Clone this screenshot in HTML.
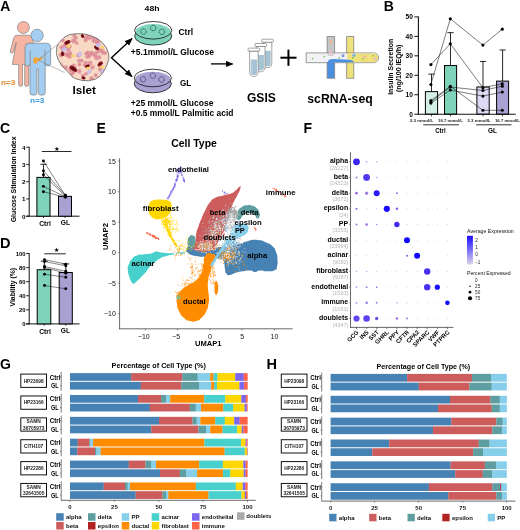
<!DOCTYPE html>
<html><head><meta charset="utf-8"><title>Figure</title>
<style>
html,body{margin:0;padding:0;background:#fff;}
body{width:520px;height:530px;overflow:hidden;}
svg{display:block;}
svg text{font-family:"Liberation Sans",Arial,Helvetica,sans-serif;}
</style></head><body>
<svg width="520" height="530" viewBox="0 0 520 530">
<rect width="520" height="530" fill="#fff"/>
<text x="0.20" y="10.60" font-size="14.0" font-weight="bold" text-anchor="start" fill="#000" >A</text>
<g stroke="#808080" stroke-width="0.7" stroke-linejoin="round">
<path d="M17.2,35.2 Q14.6,35.2 13.8,37.8 L10.4,50.8 Q10,52.8 11.4,53.2 Q12.9,53.5 13.5,51.8 L16.3,42.5 L12.4,64.4 L18.7,64.4 L18.7,84.6 Q18.7,86.4 20.6,86.4 Q22.5,86.4 22.5,84.6 L22.5,64.4 L24.7,64.4 L24.7,84.6 Q24.7,86.4 26.7,86.4 Q28.7,86.4 28.7,84.6 L28.7,64.4 L34.5,64.4 L31,44 L34,43.5 L31.5,37 Q30.6,35.2 28.6,35.2 Z" fill="#F6B5A3"/>
<circle cx="23.40" cy="27.50" r="6.00" fill="#F6B5A3" stroke="#808080" stroke-width="0.7" />
<path d="M29,43.2 L46.6,43.2 Q50.6,43.2 50.6,47.2 L50.6,63.6 Q50.6,66 47.9,66 Q45.2,66 45.2,63.6 L45.2,93 Q45.2,95.2 41.7,95.2 Q38.3,95.2 38.3,93 L38.3,69 L36.9,69 L36.9,93 Q36.9,95.2 33.4,95.2 Q30,95.2 30,93 L30,63.6 Q30,66 27.5,66 Q25,66 25,63.6 L25,47.2 Q25,43.2 29,43.2 Z" fill="#A3CDF1"/>
<line x1="30.20" y1="50.00" x2="30.20" y2="64.00" stroke="#8f8f8f" stroke-width="0.9" />
<line x1="45.00" y1="50.00" x2="45.00" y2="64.00" stroke="#8f8f8f" stroke-width="0.9" />
<circle cx="37.10" cy="35.40" r="6.20" fill="#A3CDF1" stroke="#808080" stroke-width="0.7" />
</g>
<path d="M33.2,60.5 Q33,57.6 35.6,57.2 Q37.5,57 38.6,58.4 Q40.4,58.3 41.6,56.6 Q42.6,56 42.6,57.2 Q41.6,60.6 38.6,61 Q37.6,61.2 37.2,62.6 Q36.4,64.4 34.8,63.8 Q33.2,63 33.2,60.5Z" fill="#F2A63C"/>
<line x1="38.60" y1="59.60" x2="57.50" y2="44.50" stroke="#777" stroke-width="0.5" />
<line x1="38.60" y1="60.40" x2="64.50" y2="72.50" stroke="#777" stroke-width="0.5" />
<text x="1.00" y="84.80" font-size="7.6" font-weight="bold" text-anchor="start" fill="#E58A2B" textLength="14.40" lengthAdjust="spacingAndGlyphs" >n=3</text>
<text x="30.00" y="103.00" font-size="7.6" font-weight="bold" text-anchor="start" fill="#38A0E2" textLength="14.40" lengthAdjust="spacingAndGlyphs" >n=3</text>
<clipPath id="cpI"><path d="M56.6,50.5C56.9,47.9 56.2,48.2 57.7,45.1C59.2,42.0 58.8,43.0 61.5,40.2C64.2,37.4 63.3,37.7 66.8,35.9C70.3,34.1 69.1,34.7 73.3,34.1C77.5,33.5 76.6,33.6 80.8,33.8C85.0,34.0 83.4,33.8 87.3,34.8C91.2,35.8 89.9,35.2 93.8,37.0C97.7,38.8 96.8,38.0 100.2,40.8C103.6,43.6 102.8,43.0 105.1,46.2C107.4,49.4 106.7,48.3 107.8,51.5C108.9,54.7 108.8,53.7 108.8,56.9C108.8,60.1 108.8,59.1 107.8,62.3C106.8,65.5 107.2,64.5 105.6,67.7C104.0,70.9 104.7,70.2 102.4,73.1C100.2,76.0 101.3,75.3 98.1,77.4C94.9,79.5 95.5,79.1 91.6,80.1C87.7,81.1 89.1,80.8 85.2,80.6C81.3,80.4 82.3,80.5 78.7,79.5C75.1,78.5 76.2,79.3 73.3,77.4C70.4,75.5 71.6,75.7 69.0,73.1C66.4,70.5 67.3,71.7 64.7,68.8C62.1,65.9 62.5,66.6 60.4,63.4C58.3,60.2 58.8,60.9 57.7,58.0C56.6,55.1 56.9,56.0 56.6,53.7C56.3,51.5 56.3,53.1 56.6,50.5Z"/></clipPath>
<path d="M56.6,50.5C56.9,47.9 56.2,48.2 57.7,45.1C59.2,42.0 58.8,43.0 61.5,40.2C64.2,37.4 63.3,37.7 66.8,35.9C70.3,34.1 69.1,34.7 73.3,34.1C77.5,33.5 76.6,33.6 80.8,33.8C85.0,34.0 83.4,33.8 87.3,34.8C91.2,35.8 89.9,35.2 93.8,37.0C97.7,38.8 96.8,38.0 100.2,40.8C103.6,43.6 102.8,43.0 105.1,46.2C107.4,49.4 106.7,48.3 107.8,51.5C108.9,54.7 108.8,53.7 108.8,56.9C108.8,60.1 108.8,59.1 107.8,62.3C106.8,65.5 107.2,64.5 105.6,67.7C104.0,70.9 104.7,70.2 102.4,73.1C100.2,76.0 101.3,75.3 98.1,77.4C94.9,79.5 95.5,79.1 91.6,80.1C87.7,81.1 89.1,80.8 85.2,80.6C81.3,80.4 82.3,80.5 78.7,79.5C75.1,78.5 76.2,79.3 73.3,77.4C70.4,75.5 71.6,75.7 69.0,73.1C66.4,70.5 67.3,71.7 64.7,68.8C62.1,65.9 62.5,66.6 60.4,63.4C58.3,60.2 58.8,60.9 57.7,58.0C56.6,55.1 56.9,56.0 56.6,53.7C56.3,51.5 56.3,53.1 56.6,50.5Z" fill="#FADCC5"/>
<g clip-path="url(#cpI)">
<circle cx="89.64" cy="69.09" r="1.22" fill="#FCE9DB" stroke="#F0BDA8" stroke-width="0.25" />
<circle cx="106.89" cy="68.99" r="1.27" fill="#FCE9DB" stroke="#F0BDA8" stroke-width="0.25" />
<circle cx="57.57" cy="55.28" r="1.28" fill="#FCE9DB" stroke="#F0BDA8" stroke-width="0.25" />
<circle cx="91.04" cy="77.05" r="0.95" fill="#FCE9DB" stroke="#F0BDA8" stroke-width="0.25" />
<circle cx="81.33" cy="44.33" r="1.12" fill="#FCE9DB" stroke="#F0BDA8" stroke-width="0.25" />
<circle cx="86.99" cy="32.66" r="0.99" fill="#FCE9DB" stroke="#F0BDA8" stroke-width="0.25" />
<circle cx="71.09" cy="77.82" r="1.21" fill="#FCE9DB" stroke="#F0BDA8" stroke-width="0.25" />
<circle cx="64.62" cy="71.86" r="0.96" fill="#FCE9DB" stroke="#F0BDA8" stroke-width="0.25" />
<circle cx="89.34" cy="38.33" r="0.90" fill="#FCE9DB" stroke="#F0BDA8" stroke-width="0.25" />
<circle cx="103.06" cy="42.47" r="0.99" fill="#FCE9DB" stroke="#F0BDA8" stroke-width="0.25" />
<circle cx="109.05" cy="75.62" r="1.02" fill="#FCE9DB" stroke="#F0BDA8" stroke-width="0.25" />
<circle cx="107.92" cy="58.96" r="1.17" fill="#FCE9DB" stroke="#F0BDA8" stroke-width="0.25" />
<circle cx="67.06" cy="79.05" r="1.18" fill="#FCE9DB" stroke="#F0BDA8" stroke-width="0.25" />
<circle cx="108.19" cy="76.69" r="1.02" fill="#FCE9DB" stroke="#F0BDA8" stroke-width="0.25" />
<circle cx="75.50" cy="40.30" r="0.96" fill="#FCE9DB" stroke="#F0BDA8" stroke-width="0.25" />
<circle cx="59.52" cy="47.07" r="1.14" fill="#FCE9DB" stroke="#F0BDA8" stroke-width="0.25" />
<circle cx="56.18" cy="65.90" r="1.04" fill="#FCE9DB" stroke="#F0BDA8" stroke-width="0.25" />
<circle cx="72.74" cy="72.93" r="1.09" fill="#FCE9DB" stroke="#F0BDA8" stroke-width="0.25" />
<circle cx="73.05" cy="56.06" r="1.18" fill="#FCE9DB" stroke="#F0BDA8" stroke-width="0.25" />
<circle cx="59.08" cy="80.75" r="0.91" fill="#FCE9DB" stroke="#F0BDA8" stroke-width="0.25" />
<circle cx="96.49" cy="74.24" r="0.91" fill="#FCE9DB" stroke="#F0BDA8" stroke-width="0.25" />
<circle cx="98.54" cy="50.31" r="1.13" fill="#FCE9DB" stroke="#F0BDA8" stroke-width="0.25" />
<circle cx="56.49" cy="34.34" r="0.97" fill="#FCE9DB" stroke="#F0BDA8" stroke-width="0.25" />
<circle cx="107.58" cy="41.83" r="1.20" fill="#FCE9DB" stroke="#F0BDA8" stroke-width="0.25" />
<circle cx="106.20" cy="79.10" r="1.04" fill="#FCE9DB" stroke="#F0BDA8" stroke-width="0.25" />
<circle cx="75.16" cy="58.24" r="1.21" fill="#FCE9DB" stroke="#F0BDA8" stroke-width="0.25" />
<circle cx="61.83" cy="69.42" r="1.22" fill="#FCE9DB" stroke="#F0BDA8" stroke-width="0.25" />
<circle cx="102.42" cy="33.83" r="1.28" fill="#FCE9DB" stroke="#F0BDA8" stroke-width="0.25" />
<circle cx="60.92" cy="49.04" r="1.14" fill="#FCE9DB" stroke="#F0BDA8" stroke-width="0.25" />
<circle cx="105.58" cy="49.00" r="1.27" fill="#FCE9DB" stroke="#F0BDA8" stroke-width="0.25" />
<circle cx="85.44" cy="47.62" r="1.03" fill="#FCE9DB" stroke="#F0BDA8" stroke-width="0.25" />
<circle cx="65.58" cy="35.91" r="0.96" fill="#FCE9DB" stroke="#F0BDA8" stroke-width="0.25" />
<circle cx="93.22" cy="81.84" r="0.96" fill="#FCE9DB" stroke="#F0BDA8" stroke-width="0.25" />
<circle cx="58.62" cy="81.33" r="1.11" fill="#FCE9DB" stroke="#F0BDA8" stroke-width="0.25" />
<circle cx="77.92" cy="43.87" r="1.14" fill="#FCE9DB" stroke="#F0BDA8" stroke-width="0.25" />
<circle cx="100.62" cy="54.78" r="1.07" fill="#FCE9DB" stroke="#F0BDA8" stroke-width="0.25" />
<circle cx="59.01" cy="77.80" r="0.91" fill="#FCE9DB" stroke="#F0BDA8" stroke-width="0.25" />
<circle cx="82.65" cy="73.92" r="0.95" fill="#FCE9DB" stroke="#F0BDA8" stroke-width="0.25" />
<circle cx="95.51" cy="79.49" r="1.15" fill="#FCE9DB" stroke="#F0BDA8" stroke-width="0.25" />
<circle cx="98.55" cy="37.33" r="1.07" fill="#FCE9DB" stroke="#F0BDA8" stroke-width="0.25" />
<circle cx="64.06" cy="74.24" r="1.02" fill="#FCE9DB" stroke="#F0BDA8" stroke-width="0.25" />
<circle cx="80.47" cy="81.96" r="1.24" fill="#FCE9DB" stroke="#F0BDA8" stroke-width="0.25" />
<circle cx="108.70" cy="54.68" r="1.10" fill="#FCE9DB" stroke="#F0BDA8" stroke-width="0.25" />
<circle cx="95.39" cy="55.95" r="1.02" fill="#FCE9DB" stroke="#F0BDA8" stroke-width="0.25" />
<circle cx="77.80" cy="39.33" r="1.05" fill="#FCE9DB" stroke="#F0BDA8" stroke-width="0.25" />
<circle cx="109.37" cy="79.99" r="1.15" fill="#FCE9DB" stroke="#F0BDA8" stroke-width="0.25" />
<circle cx="82.96" cy="48.92" r="0.94" fill="#FCE9DB" stroke="#F0BDA8" stroke-width="0.25" />
<circle cx="70.70" cy="71.10" r="1.25" fill="#FCE9DB" stroke="#F0BDA8" stroke-width="0.25" />
<circle cx="75.51" cy="71.30" r="1.21" fill="#FCE9DB" stroke="#F0BDA8" stroke-width="0.25" />
<circle cx="93.51" cy="65.20" r="1.20" fill="#FCE9DB" stroke="#F0BDA8" stroke-width="0.25" />
<circle cx="75.63" cy="67.22" r="1.01" fill="#FCE9DB" stroke="#F0BDA8" stroke-width="0.25" />
<circle cx="82.23" cy="70.49" r="1.18" fill="#FCE9DB" stroke="#F0BDA8" stroke-width="0.25" />
<circle cx="71.87" cy="79.28" r="1.16" fill="#FCE9DB" stroke="#F0BDA8" stroke-width="0.25" />
<circle cx="87.36" cy="32.58" r="1.12" fill="#FCE9DB" stroke="#F0BDA8" stroke-width="0.25" />
<circle cx="69.54" cy="65.58" r="1.09" fill="#FCE9DB" stroke="#F0BDA8" stroke-width="0.25" />
<circle cx="100.10" cy="64.37" r="1.22" fill="#FCE9DB" stroke="#F0BDA8" stroke-width="0.25" />
<circle cx="74.79" cy="64.20" r="1.20" fill="#FCE9DB" stroke="#F0BDA8" stroke-width="0.25" />
<circle cx="100.72" cy="49.50" r="1.24" fill="#FCE9DB" stroke="#F0BDA8" stroke-width="0.25" />
<circle cx="102.98" cy="66.42" r="1.29" fill="#FCE9DB" stroke="#F0BDA8" stroke-width="0.25" />
<circle cx="107.65" cy="57.91" r="1.11" fill="#FCE9DB" stroke="#F0BDA8" stroke-width="0.25" />
<circle cx="64.97" cy="73.83" r="1.27" fill="#FCE9DB" stroke="#F0BDA8" stroke-width="0.25" />
<circle cx="81.77" cy="66.57" r="1.19" fill="#FCE9DB" stroke="#F0BDA8" stroke-width="0.25" />
<circle cx="95.44" cy="40.59" r="1.21" fill="#FCE9DB" stroke="#F0BDA8" stroke-width="0.25" />
<circle cx="87.37" cy="65.28" r="1.07" fill="#FCE9DB" stroke="#F0BDA8" stroke-width="0.25" />
<circle cx="89.68" cy="70.74" r="1.15" fill="#FCE9DB" stroke="#F0BDA8" stroke-width="0.25" />
<circle cx="94.90" cy="33.38" r="0.96" fill="#FCE9DB" stroke="#F0BDA8" stroke-width="0.25" />
<circle cx="79.82" cy="64.51" r="0.99" fill="#FCE9DB" stroke="#F0BDA8" stroke-width="0.25" />
<circle cx="93.04" cy="63.54" r="0.92" fill="#FCE9DB" stroke="#F0BDA8" stroke-width="0.25" />
<circle cx="81.47" cy="43.31" r="0.92" fill="#FCE9DB" stroke="#F0BDA8" stroke-width="0.25" />
<circle cx="63.21" cy="47.87" r="0.97" fill="#FCE9DB" stroke="#F0BDA8" stroke-width="0.25" />
<circle cx="66.44" cy="33.78" r="1.09" fill="#FCE9DB" stroke="#F0BDA8" stroke-width="0.25" />
<circle cx="76.54" cy="62.59" r="1.14" fill="#FCE9DB" stroke="#F0BDA8" stroke-width="0.25" />
<circle cx="68.84" cy="77.16" r="0.90" fill="#FCE9DB" stroke="#F0BDA8" stroke-width="0.25" />
<circle cx="77.89" cy="45.93" r="1.06" fill="#FCE9DB" stroke="#F0BDA8" stroke-width="0.25" />
<circle cx="62.21" cy="73.57" r="1.05" fill="#FCE9DB" stroke="#F0BDA8" stroke-width="0.25" />
<circle cx="57.95" cy="62.68" r="0.94" fill="#FCE9DB" stroke="#F0BDA8" stroke-width="0.25" />
<circle cx="85.44" cy="48.97" r="1.13" fill="#FCE9DB" stroke="#F0BDA8" stroke-width="0.25" />
<circle cx="107.75" cy="72.93" r="1.07" fill="#FCE9DB" stroke="#F0BDA8" stroke-width="0.25" />
<circle cx="99.90" cy="64.11" r="1.05" fill="#FCE9DB" stroke="#F0BDA8" stroke-width="0.25" />
<circle cx="63.67" cy="61.80" r="1.13" fill="#FCE9DB" stroke="#F0BDA8" stroke-width="0.25" />
<circle cx="107.69" cy="80.40" r="1.14" fill="#FCE9DB" stroke="#F0BDA8" stroke-width="0.25" />
<circle cx="74.96" cy="76.67" r="0.90" fill="#FCE9DB" stroke="#F0BDA8" stroke-width="0.25" />
<circle cx="61.83" cy="60.29" r="1.15" fill="#FCE9DB" stroke="#F0BDA8" stroke-width="0.25" />
<circle cx="63.60" cy="63.47" r="1.26" fill="#FCE9DB" stroke="#F0BDA8" stroke-width="0.25" />
<circle cx="76.30" cy="53.58" r="0.99" fill="#FCE9DB" stroke="#F0BDA8" stroke-width="0.25" />
<circle cx="71.74" cy="80.62" r="1.05" fill="#FCE9DB" stroke="#F0BDA8" stroke-width="0.25" />
<circle cx="107.90" cy="77.69" r="1.14" fill="#FCE9DB" stroke="#F0BDA8" stroke-width="0.25" />
<circle cx="70.03" cy="81.05" r="1.10" fill="#FCE9DB" stroke="#F0BDA8" stroke-width="0.25" />
<circle cx="78.44" cy="47.96" r="1.29" fill="#FCE9DB" stroke="#F0BDA8" stroke-width="0.25" />
<circle cx="82.55" cy="46.32" r="1.09" fill="#FCE9DB" stroke="#F0BDA8" stroke-width="0.25" />
<circle cx="62.58" cy="63.08" r="1.08" fill="#FCE9DB" stroke="#F0BDA8" stroke-width="0.25" />
<circle cx="71.83" cy="71.09" r="1.23" fill="#FCE9DB" stroke="#F0BDA8" stroke-width="0.25" />
<circle cx="56.71" cy="58.63" r="1.01" fill="#FCE9DB" stroke="#F0BDA8" stroke-width="0.25" />
<circle cx="106.50" cy="71.10" r="1.00" fill="#FCE9DB" stroke="#F0BDA8" stroke-width="0.25" />
<circle cx="70.46" cy="39.74" r="1.30" fill="#FCE9DB" stroke="#F0BDA8" stroke-width="0.25" />
<circle cx="71.83" cy="62.40" r="1.09" fill="#FCE9DB" stroke="#F0BDA8" stroke-width="0.25" />
<circle cx="90.82" cy="62.19" r="1.20" fill="#FCE9DB" stroke="#F0BDA8" stroke-width="0.25" />
<circle cx="62.38" cy="70.02" r="1.02" fill="#FCE9DB" stroke="#F0BDA8" stroke-width="0.25" />
<circle cx="84.81" cy="48.81" r="1.02" fill="#FCE9DB" stroke="#F0BDA8" stroke-width="0.25" />
<circle cx="84.61" cy="55.22" r="1.04" fill="#FCE9DB" stroke="#F0BDA8" stroke-width="0.25" />
<circle cx="96.23" cy="61.54" r="0.91" fill="#FCE9DB" stroke="#F0BDA8" stroke-width="0.25" />
<circle cx="69.63" cy="54.78" r="1.27" fill="#FCE9DB" stroke="#F0BDA8" stroke-width="0.25" />
<circle cx="103.95" cy="59.28" r="0.91" fill="#FCE9DB" stroke="#F0BDA8" stroke-width="0.25" />
<circle cx="98.03" cy="53.39" r="1.13" fill="#FCE9DB" stroke="#F0BDA8" stroke-width="0.25" />
<circle cx="94.24" cy="63.61" r="1.09" fill="#FCE9DB" stroke="#F0BDA8" stroke-width="0.25" />
<circle cx="105.23" cy="51.27" r="1.06" fill="#FCE9DB" stroke="#F0BDA8" stroke-width="0.25" />
<circle cx="102.00" cy="41.82" r="1.02" fill="#FCE9DB" stroke="#F0BDA8" stroke-width="0.25" />
<circle cx="100.82" cy="35.30" r="1.23" fill="#FCE9DB" stroke="#F0BDA8" stroke-width="0.25" />
<circle cx="93.51" cy="53.64" r="1.01" fill="#FCE9DB" stroke="#F0BDA8" stroke-width="0.25" />
<circle cx="98.16" cy="77.53" r="0.96" fill="#FCE9DB" stroke="#F0BDA8" stroke-width="0.25" />
<circle cx="81.83" cy="59.45" r="1.10" fill="#FCE9DB" stroke="#F0BDA8" stroke-width="0.25" />
<circle cx="73.86" cy="39.68" r="1.13" fill="#FCE9DB" stroke="#F0BDA8" stroke-width="0.25" />
<circle cx="99.84" cy="35.42" r="0.99" fill="#FCE9DB" stroke="#F0BDA8" stroke-width="0.25" />
<circle cx="100.26" cy="71.59" r="1.17" fill="#FCE9DB" stroke="#F0BDA8" stroke-width="0.25" />
<circle cx="57.38" cy="68.13" r="1.29" fill="#FCE9DB" stroke="#F0BDA8" stroke-width="0.25" />
<circle cx="109.91" cy="67.06" r="0.92" fill="#FCE9DB" stroke="#F0BDA8" stroke-width="0.25" />
<circle cx="101.47" cy="42.96" r="1.16" fill="#FCE9DB" stroke="#F0BDA8" stroke-width="0.25" />
<circle cx="107.42" cy="67.62" r="0.95" fill="#FCE9DB" stroke="#F0BDA8" stroke-width="0.25" />
<circle cx="71.79" cy="77.90" r="0.96" fill="#FCE9DB" stroke="#F0BDA8" stroke-width="0.25" />
<circle cx="88.97" cy="52.70" r="0.96" fill="#FCE9DB" stroke="#F0BDA8" stroke-width="0.25" />
<circle cx="89.61" cy="34.18" r="0.94" fill="#FCE9DB" stroke="#F0BDA8" stroke-width="0.25" />
<circle cx="76.48" cy="35.60" r="0.92" fill="#FCE9DB" stroke="#F0BDA8" stroke-width="0.25" />
<circle cx="87.06" cy="69.12" r="1.25" fill="#FCE9DB" stroke="#F0BDA8" stroke-width="0.25" />
<circle cx="63.25" cy="53.58" r="1.03" fill="#FCE9DB" stroke="#F0BDA8" stroke-width="0.25" />
<circle cx="88.41" cy="56.48" r="1.28" fill="#FCE9DB" stroke="#F0BDA8" stroke-width="0.25" />
<circle cx="76.21" cy="34.79" r="1.18" fill="#FCE9DB" stroke="#F0BDA8" stroke-width="0.25" />
<circle cx="64.16" cy="63.57" r="1.10" fill="#FCE9DB" stroke="#F0BDA8" stroke-width="0.25" />
<circle cx="105.16" cy="59.74" r="1.15" fill="#FCE9DB" stroke="#F0BDA8" stroke-width="0.25" />
<circle cx="70.22" cy="59.58" r="1.00" fill="#FCE9DB" stroke="#F0BDA8" stroke-width="0.25" />
<circle cx="96.53" cy="57.85" r="0.95" fill="#FCE9DB" stroke="#F0BDA8" stroke-width="0.25" />
<circle cx="68.66" cy="50.56" r="1.19" fill="#FCE9DB" stroke="#F0BDA8" stroke-width="0.25" />
<circle cx="65.68" cy="67.66" r="1.16" fill="#FCE9DB" stroke="#F0BDA8" stroke-width="0.25" />
<circle cx="60.60" cy="65.40" r="0.94" fill="#FCE9DB" stroke="#F0BDA8" stroke-width="0.25" />
<circle cx="62.74" cy="61.70" r="1.00" fill="#FCE9DB" stroke="#F0BDA8" stroke-width="0.25" />
<circle cx="103.35" cy="56.02" r="1.03" fill="#FCE9DB" stroke="#F0BDA8" stroke-width="0.25" />
<circle cx="99.01" cy="33.47" r="1.19" fill="#FCE9DB" stroke="#F0BDA8" stroke-width="0.25" />
<circle cx="58.90" cy="39.54" r="1.28" fill="#FCE9DB" stroke="#F0BDA8" stroke-width="0.25" />
<circle cx="92.78" cy="43.15" r="0.95" fill="#FCE9DB" stroke="#F0BDA8" stroke-width="0.25" />
<circle cx="108.53" cy="65.25" r="1.23" fill="#FCE9DB" stroke="#F0BDA8" stroke-width="0.25" />
<circle cx="63.55" cy="63.24" r="1.04" fill="#FCE9DB" stroke="#F0BDA8" stroke-width="0.25" />
<circle cx="68.69" cy="48.66" r="1.15" fill="#FCE9DB" stroke="#F0BDA8" stroke-width="0.25" />
<circle cx="74.83" cy="51.29" r="0.95" fill="#FCE9DB" stroke="#F0BDA8" stroke-width="0.25" />
<circle cx="100.88" cy="64.39" r="1.22" fill="#FCE9DB" stroke="#F0BDA8" stroke-width="0.25" />
<circle cx="79.40" cy="74.58" r="1.11" fill="#FCE9DB" stroke="#F0BDA8" stroke-width="0.25" />
<circle cx="88.00" cy="60.66" r="1.20" fill="#FCE9DB" stroke="#F0BDA8" stroke-width="0.25" />
<circle cx="77.36" cy="36.85" r="0.91" fill="#FCE9DB" stroke="#F0BDA8" stroke-width="0.25" />
<circle cx="66.93" cy="33.97" r="1.26" fill="#FCE9DB" stroke="#F0BDA8" stroke-width="0.25" />
<circle cx="81.97" cy="70.02" r="0.90" fill="#FCE9DB" stroke="#F0BDA8" stroke-width="0.25" />
<circle cx="81.39" cy="76.49" r="1.15" fill="#FCE9DB" stroke="#F0BDA8" stroke-width="0.25" />
<circle cx="79.15" cy="55.28" r="0.94" fill="#FCE9DB" stroke="#F0BDA8" stroke-width="0.25" />
<circle cx="64.35" cy="39.95" r="1.05" fill="#FCE9DB" stroke="#F0BDA8" stroke-width="0.25" />
<circle cx="76.83" cy="76.02" r="0.96" fill="#FCE9DB" stroke="#F0BDA8" stroke-width="0.25" />
<circle cx="69.72" cy="45.87" r="0.96" fill="#FCE9DB" stroke="#F0BDA8" stroke-width="0.25" />
<circle cx="71.50" cy="43.76" r="1.09" fill="#FCE9DB" stroke="#F0BDA8" stroke-width="0.25" />
<circle cx="57.73" cy="78.23" r="1.05" fill="#FCE9DB" stroke="#F0BDA8" stroke-width="0.25" />
<circle cx="106.65" cy="66.39" r="1.17" fill="#FCE9DB" stroke="#F0BDA8" stroke-width="0.25" />
<circle cx="81.47" cy="79.27" r="0.95" fill="#FCE9DB" stroke="#F0BDA8" stroke-width="0.25" />
<circle cx="92.10" cy="46.56" r="1.17" fill="#FCE9DB" stroke="#F0BDA8" stroke-width="0.25" />
<circle cx="95.38" cy="40.16" r="0.98" fill="#FCE9DB" stroke="#F0BDA8" stroke-width="0.25" />
<circle cx="57.35" cy="43.52" r="0.93" fill="#FCE9DB" stroke="#F0BDA8" stroke-width="0.25" />
<circle cx="77.66" cy="80.68" r="1.05" fill="#FCE9DB" stroke="#F0BDA8" stroke-width="0.25" />
<circle cx="72.84" cy="55.40" r="1.01" fill="#FCE9DB" stroke="#F0BDA8" stroke-width="0.25" />
<circle cx="95.55" cy="67.90" r="0.97" fill="#FCE9DB" stroke="#F0BDA8" stroke-width="0.25" />
<circle cx="68.99" cy="65.61" r="1.28" fill="#FCE9DB" stroke="#F0BDA8" stroke-width="0.25" />
<circle cx="90.88" cy="53.53" r="1.29" fill="#FCE9DB" stroke="#F0BDA8" stroke-width="0.25" />
<circle cx="56.34" cy="35.04" r="1.21" fill="#FCE9DB" stroke="#F0BDA8" stroke-width="0.25" />
<circle cx="78.15" cy="34.25" r="1.12" fill="#FCE9DB" stroke="#F0BDA8" stroke-width="0.25" />
<circle cx="109.44" cy="57.95" r="1.04" fill="#FCE9DB" stroke="#F0BDA8" stroke-width="0.25" />
<circle cx="61.07" cy="35.56" r="1.26" fill="#FCE9DB" stroke="#F0BDA8" stroke-width="0.25" />
<circle cx="82.52" cy="78.79" r="0.92" fill="#FCE9DB" stroke="#F0BDA8" stroke-width="0.25" />
<circle cx="69.15" cy="34.52" r="1.06" fill="#FCE9DB" stroke="#F0BDA8" stroke-width="0.25" />
<circle cx="59.25" cy="44.77" r="1.06" fill="#FCE9DB" stroke="#F0BDA8" stroke-width="0.25" />
<circle cx="72.52" cy="34.57" r="0.92" fill="#FCE9DB" stroke="#F0BDA8" stroke-width="0.25" />
<circle cx="108.47" cy="40.97" r="1.10" fill="#FCE9DB" stroke="#F0BDA8" stroke-width="0.25" />
<circle cx="77.73" cy="58.57" r="0.93" fill="#FCE9DB" stroke="#F0BDA8" stroke-width="0.25" />
<circle cx="72.95" cy="37.40" r="1.12" fill="#FCE9DB" stroke="#F0BDA8" stroke-width="0.25" />
<circle cx="105.75" cy="61.91" r="1.24" fill="#FCE9DB" stroke="#F0BDA8" stroke-width="0.25" />
<circle cx="67.58" cy="32.87" r="1.12" fill="#FCE9DB" stroke="#F0BDA8" stroke-width="0.25" />
<circle cx="82.27" cy="60.57" r="1.05" fill="#FCE9DB" stroke="#F0BDA8" stroke-width="0.25" />
<circle cx="89.76" cy="68.28" r="1.27" fill="#FCE9DB" stroke="#F0BDA8" stroke-width="0.25" />
<circle cx="72.61" cy="54.45" r="1.23" fill="#FCE9DB" stroke="#F0BDA8" stroke-width="0.25" />
<circle cx="68.09" cy="37.78" r="1.02" fill="#FCE9DB" stroke="#F0BDA8" stroke-width="0.25" />
<circle cx="60.73" cy="70.62" r="1.23" fill="#FCE9DB" stroke="#F0BDA8" stroke-width="0.25" />
<circle cx="72.90" cy="38.49" r="0.93" fill="#FCE9DB" stroke="#F0BDA8" stroke-width="0.25" />
<circle cx="69.22" cy="36.22" r="1.07" fill="#FCE9DB" stroke="#F0BDA8" stroke-width="0.25" />
<circle cx="87.16" cy="44.27" r="0.92" fill="#FCE9DB" stroke="#F0BDA8" stroke-width="0.25" />
<circle cx="93.83" cy="34.40" r="0.98" fill="#FCE9DB" stroke="#F0BDA8" stroke-width="0.25" />
<circle cx="71.44" cy="50.69" r="0.94" fill="#FCE9DB" stroke="#F0BDA8" stroke-width="0.25" />
<circle cx="78.71" cy="47.70" r="1.20" fill="#FCE9DB" stroke="#F0BDA8" stroke-width="0.25" />
<circle cx="86.03" cy="76.80" r="1.16" fill="#FCE9DB" stroke="#F0BDA8" stroke-width="0.25" />
<circle cx="97.02" cy="60.74" r="1.08" fill="#FCE9DB" stroke="#F0BDA8" stroke-width="0.25" />
<circle cx="100.11" cy="64.77" r="1.28" fill="#FCE9DB" stroke="#F0BDA8" stroke-width="0.25" />
<circle cx="95.31" cy="67.06" r="1.01" fill="#FCE9DB" stroke="#F0BDA8" stroke-width="0.25" />
<circle cx="99.85" cy="51.12" r="0.95" fill="#FCE9DB" stroke="#F0BDA8" stroke-width="0.25" />
<circle cx="59.56" cy="40.47" r="1.01" fill="#FCE9DB" stroke="#F0BDA8" stroke-width="0.25" />
<circle cx="92.50" cy="46.28" r="0.93" fill="#FCE9DB" stroke="#F0BDA8" stroke-width="0.25" />
<circle cx="97.24" cy="59.86" r="0.91" fill="#FCE9DB" stroke="#F0BDA8" stroke-width="0.25" />
<circle cx="58.73" cy="38.51" r="1.04" fill="#FCE9DB" stroke="#F0BDA8" stroke-width="0.25" />
<circle cx="102.43" cy="79.46" r="1.14" fill="#FCE9DB" stroke="#F0BDA8" stroke-width="0.25" />
<circle cx="68.48" cy="53.45" r="1.04" fill="#FCE9DB" stroke="#F0BDA8" stroke-width="0.25" />
<circle cx="73.84" cy="32.62" r="1.13" fill="#FCE9DB" stroke="#F0BDA8" stroke-width="0.25" />
<circle cx="100.65" cy="68.34" r="0.94" fill="#FCE9DB" stroke="#F0BDA8" stroke-width="0.25" />
<circle cx="84.64" cy="40.56" r="1.18" fill="#FCE9DB" stroke="#F0BDA8" stroke-width="0.25" />
<circle cx="80.10" cy="78.93" r="1.22" fill="#FCE9DB" stroke="#F0BDA8" stroke-width="0.25" />
<circle cx="62.38" cy="47.85" r="1.27" fill="#FCE9DB" stroke="#F0BDA8" stroke-width="0.25" />
<circle cx="80.89" cy="53.71" r="1.08" fill="#FCE9DB" stroke="#F0BDA8" stroke-width="0.25" />
<circle cx="97.45" cy="78.81" r="1.11" fill="#FCE9DB" stroke="#F0BDA8" stroke-width="0.25" />
<circle cx="108.36" cy="61.80" r="0.94" fill="#FCE9DB" stroke="#F0BDA8" stroke-width="0.25" />
<circle cx="99.97" cy="52.97" r="0.92" fill="#FCE9DB" stroke="#F0BDA8" stroke-width="0.25" />
<circle cx="108.81" cy="33.64" r="1.13" fill="#FCE9DB" stroke="#F0BDA8" stroke-width="0.25" />
<circle cx="82.03" cy="76.09" r="1.06" fill="#FCE9DB" stroke="#F0BDA8" stroke-width="0.25" />
<circle cx="67.64" cy="45.85" r="0.98" fill="#FCE9DB" stroke="#F0BDA8" stroke-width="0.25" />
<circle cx="86.37" cy="49.85" r="1.20" fill="#FCE9DB" stroke="#F0BDA8" stroke-width="0.25" />
<circle cx="69.04" cy="49.59" r="1.00" fill="#FCE9DB" stroke="#F0BDA8" stroke-width="0.25" />
<circle cx="109.05" cy="74.01" r="1.24" fill="#FCE9DB" stroke="#F0BDA8" stroke-width="0.25" />
<circle cx="89.38" cy="52.04" r="0.96" fill="#FCE9DB" stroke="#F0BDA8" stroke-width="0.25" />
<circle cx="100.91" cy="56.51" r="0.92" fill="#FCE9DB" stroke="#F0BDA8" stroke-width="0.25" />
<circle cx="65.16" cy="36.94" r="1.19" fill="#FCE9DB" stroke="#F0BDA8" stroke-width="0.25" />
<circle cx="104.61" cy="41.97" r="1.22" fill="#FCE9DB" stroke="#F0BDA8" stroke-width="0.25" />
<circle cx="73.50" cy="66.15" r="1.25" fill="#FCE9DB" stroke="#F0BDA8" stroke-width="0.25" />
<circle cx="89.65" cy="72.02" r="1.05" fill="#FCE9DB" stroke="#F0BDA8" stroke-width="0.25" />
<circle cx="56.54" cy="57.59" r="1.13" fill="#FCE9DB" stroke="#F0BDA8" stroke-width="0.25" />
<circle cx="65.98" cy="51.45" r="1.03" fill="#FCE9DB" stroke="#F0BDA8" stroke-width="0.25" />
<circle cx="57.46" cy="47.60" r="1.05" fill="#FCE9DB" stroke="#F0BDA8" stroke-width="0.25" />
<circle cx="81.71" cy="67.17" r="1.06" fill="#FCE9DB" stroke="#F0BDA8" stroke-width="0.25" />
<circle cx="109.05" cy="72.78" r="1.27" fill="#FCE9DB" stroke="#F0BDA8" stroke-width="0.25" />
<circle cx="93.41" cy="65.51" r="1.11" fill="#FCE9DB" stroke="#F0BDA8" stroke-width="0.25" />
<circle cx="99.13" cy="50.14" r="1.14" fill="#FCE9DB" stroke="#F0BDA8" stroke-width="0.25" />
<circle cx="92.69" cy="58.11" r="1.01" fill="#FCE9DB" stroke="#F0BDA8" stroke-width="0.25" />
<circle cx="60.20" cy="36.36" r="1.04" fill="#FCE9DB" stroke="#F0BDA8" stroke-width="0.25" />
<circle cx="87.34" cy="69.98" r="1.19" fill="#FCE9DB" stroke="#F0BDA8" stroke-width="0.25" />
<circle cx="72.57" cy="78.46" r="1.01" fill="#FCE9DB" stroke="#F0BDA8" stroke-width="0.25" />
<circle cx="94.67" cy="35.60" r="1.20" fill="#FCE9DB" stroke="#F0BDA8" stroke-width="0.25" />
<circle cx="92.18" cy="79.85" r="1.26" fill="#FCE9DB" stroke="#F0BDA8" stroke-width="0.25" />
<circle cx="93.13" cy="73.91" r="1.20" fill="#FCE9DB" stroke="#F0BDA8" stroke-width="0.25" />
<circle cx="88.99" cy="42.44" r="1.11" fill="#FCE9DB" stroke="#F0BDA8" stroke-width="0.25" />
<circle cx="104.39" cy="43.95" r="1.29" fill="#FCE9DB" stroke="#F0BDA8" stroke-width="0.25" />
<circle cx="85.37" cy="51.67" r="0.90" fill="#FCE9DB" stroke="#F0BDA8" stroke-width="0.25" />
<circle cx="77.07" cy="40.91" r="1.16" fill="#FCE9DB" stroke="#F0BDA8" stroke-width="0.25" />
<circle cx="104.57" cy="77.51" r="1.15" fill="#FCE9DB" stroke="#F0BDA8" stroke-width="0.25" />
<circle cx="76.88" cy="37.45" r="1.18" fill="#FCE9DB" stroke="#F0BDA8" stroke-width="0.25" />
<circle cx="85.88" cy="67.76" r="1.05" fill="#FCE9DB" stroke="#F0BDA8" stroke-width="0.25" />
<circle cx="103.89" cy="42.64" r="1.02" fill="#FCE9DB" stroke="#F0BDA8" stroke-width="0.25" />
<circle cx="70.45" cy="63.11" r="1.26" fill="#FCE9DB" stroke="#F0BDA8" stroke-width="0.25" />
<circle cx="65.04" cy="63.64" r="1.21" fill="#FCE9DB" stroke="#F0BDA8" stroke-width="0.25" />
<circle cx="68.13" cy="35.13" r="1.13" fill="#FCE9DB" stroke="#F0BDA8" stroke-width="0.25" />
<circle cx="100.83" cy="75.93" r="1.19" fill="#FCE9DB" stroke="#F0BDA8" stroke-width="0.25" />
<circle cx="78.51" cy="53.27" r="1.11" fill="#FCE9DB" stroke="#F0BDA8" stroke-width="0.25" />
<circle cx="104.86" cy="47.12" r="1.01" fill="#FCE9DB" stroke="#F0BDA8" stroke-width="0.25" />
<circle cx="88.69" cy="80.33" r="0.97" fill="#FCE9DB" stroke="#F0BDA8" stroke-width="0.25" />
<circle cx="57.65" cy="37.78" r="1.13" fill="#FCE9DB" stroke="#F0BDA8" stroke-width="0.25" />
<circle cx="88.59" cy="41.19" r="0.98" fill="#FCE9DB" stroke="#F0BDA8" stroke-width="0.25" />
<circle cx="88.10" cy="64.32" r="1.18" fill="#FCE9DB" stroke="#F0BDA8" stroke-width="0.25" />
<circle cx="95.36" cy="35.07" r="1.09" fill="#FCE9DB" stroke="#F0BDA8" stroke-width="0.25" />
<circle cx="101.07" cy="79.86" r="1.03" fill="#FCE9DB" stroke="#F0BDA8" stroke-width="0.25" />
<circle cx="101.92" cy="64.26" r="1.27" fill="#FCE9DB" stroke="#F0BDA8" stroke-width="0.25" />
<circle cx="68.37" cy="66.84" r="1.24" fill="#FCE9DB" stroke="#F0BDA8" stroke-width="0.25" />
<circle cx="81.74" cy="37.04" r="0.98" fill="#FCE9DB" stroke="#F0BDA8" stroke-width="0.25" />
<circle cx="64.46" cy="36.64" r="0.96" fill="#FCE9DB" stroke="#F0BDA8" stroke-width="0.25" />
<circle cx="89.25" cy="37.25" r="1.20" fill="#FCE9DB" stroke="#F0BDA8" stroke-width="0.25" />
<circle cx="95.76" cy="72.82" r="1.22" fill="#FCE9DB" stroke="#F0BDA8" stroke-width="0.25" />
<circle cx="94.51" cy="78.20" r="1.28" fill="#FCE9DB" stroke="#F0BDA8" stroke-width="0.25" />
<circle cx="89.76" cy="80.25" r="0.94" fill="#FCE9DB" stroke="#F0BDA8" stroke-width="0.25" />
<circle cx="61.56" cy="35.22" r="0.98" fill="#FCE9DB" stroke="#F0BDA8" stroke-width="0.25" />
<circle cx="76.22" cy="54.93" r="1.17" fill="#FCE9DB" stroke="#F0BDA8" stroke-width="0.25" />
<circle cx="96.12" cy="36.19" r="1.06" fill="#FCE9DB" stroke="#F0BDA8" stroke-width="0.25" />
<circle cx="85.35" cy="50.76" r="0.95" fill="#FCE9DB" stroke="#F0BDA8" stroke-width="0.25" />
<circle cx="88.24" cy="50.72" r="1.17" fill="#FCE9DB" stroke="#F0BDA8" stroke-width="0.25" />
<circle cx="82.76" cy="80.13" r="1.28" fill="#FCE9DB" stroke="#F0BDA8" stroke-width="0.25" />
<circle cx="59.90" cy="69.99" r="1.19" fill="#FCE9DB" stroke="#F0BDA8" stroke-width="0.25" />
<circle cx="71.98" cy="37.84" r="1.09" fill="#FCE9DB" stroke="#F0BDA8" stroke-width="0.25" />
<circle cx="75.12" cy="68.87" r="1.27" fill="#FCE9DB" stroke="#F0BDA8" stroke-width="0.25" />
<circle cx="76.63" cy="46.53" r="1.10" fill="#FCE9DB" stroke="#F0BDA8" stroke-width="0.25" />
<circle cx="93.63" cy="71.45" r="1.13" fill="#FCE9DB" stroke="#F0BDA8" stroke-width="0.25" />
<circle cx="71.98" cy="48.85" r="1.24" fill="#FCE9DB" stroke="#F0BDA8" stroke-width="0.25" />
<circle cx="84.04" cy="34.52" r="1.07" fill="#FCE9DB" stroke="#F0BDA8" stroke-width="0.25" />
<circle cx="68.84" cy="65.31" r="0.93" fill="#FCE9DB" stroke="#F0BDA8" stroke-width="0.25" />
<circle cx="70.64" cy="36.80" r="1.09" fill="#FCE9DB" stroke="#F0BDA8" stroke-width="0.25" />
<circle cx="109.17" cy="59.07" r="1.05" fill="#FCE9DB" stroke="#F0BDA8" stroke-width="0.25" />
<circle cx="106.43" cy="36.59" r="1.04" fill="#FCE9DB" stroke="#F0BDA8" stroke-width="0.25" />
<circle cx="99.78" cy="32.26" r="1.21" fill="#FCE9DB" stroke="#F0BDA8" stroke-width="0.25" />
<circle cx="75.50" cy="32.82" r="1.00" fill="#FCE9DB" stroke="#F0BDA8" stroke-width="0.25" />
<circle cx="80.74" cy="51.14" r="1.11" fill="#FCE9DB" stroke="#F0BDA8" stroke-width="0.25" />
<circle cx="58.87" cy="42.93" r="1.29" fill="#FCE9DB" stroke="#F0BDA8" stroke-width="0.25" />
<circle cx="79.90" cy="55.59" r="0.93" fill="#FCE9DB" stroke="#F0BDA8" stroke-width="0.25" />
<circle cx="71.07" cy="79.74" r="1.17" fill="#FCE9DB" stroke="#F0BDA8" stroke-width="0.25" />
<circle cx="83.42" cy="34.65" r="1.06" fill="#FCE9DB" stroke="#F0BDA8" stroke-width="0.25" />
<circle cx="98.04" cy="53.73" r="1.14" fill="#FCE9DB" stroke="#F0BDA8" stroke-width="0.25" />
<circle cx="104.73" cy="64.26" r="1.15" fill="#FCE9DB" stroke="#F0BDA8" stroke-width="0.25" />
<circle cx="57.95" cy="33.19" r="1.21" fill="#FCE9DB" stroke="#F0BDA8" stroke-width="0.25" />
<circle cx="78.32" cy="75.71" r="1.23" fill="#FCE9DB" stroke="#F0BDA8" stroke-width="0.25" />
<circle cx="105.43" cy="50.93" r="1.30" fill="#FCE9DB" stroke="#F0BDA8" stroke-width="0.25" />
<circle cx="96.84" cy="76.59" r="0.96" fill="#FCE9DB" stroke="#F0BDA8" stroke-width="0.25" />
<circle cx="98.17" cy="53.11" r="1.29" fill="#FCE9DB" stroke="#F0BDA8" stroke-width="0.25" />
<circle cx="109.69" cy="42.83" r="1.07" fill="#FCE9DB" stroke="#F0BDA8" stroke-width="0.25" />
<circle cx="70.63" cy="55.49" r="1.01" fill="#FCE9DB" stroke="#F0BDA8" stroke-width="0.25" />
<circle cx="91.99" cy="38.17" r="0.97" fill="#FCE9DB" stroke="#F0BDA8" stroke-width="0.25" />
<circle cx="80.71" cy="35.70" r="1.05" fill="#FCE9DB" stroke="#F0BDA8" stroke-width="0.25" />
<circle cx="104.46" cy="76.27" r="0.98" fill="#FCE9DB" stroke="#F0BDA8" stroke-width="0.25" />
<circle cx="57.00" cy="73.41" r="1.28" fill="#FCE9DB" stroke="#F0BDA8" stroke-width="0.25" />
<circle cx="85.55" cy="40.30" r="1.86" fill="#E6A0A5" stroke="#D98A92" stroke-width="0.25" />
<circle cx="86.55" cy="33.72" r="1.71" fill="#E6A0A5" stroke="#D98A92" stroke-width="0.25" />
<circle cx="89.51" cy="34.77" r="2.09" fill="#E6A0A5" stroke="#D98A92" stroke-width="0.25" />
<circle cx="69.60" cy="46.80" r="2.05" fill="#E6A0A5" stroke="#D98A92" stroke-width="0.25" />
<circle cx="67.25" cy="47.40" r="2.15" fill="#E6A0A5" stroke="#D98A92" stroke-width="0.25" />
<circle cx="68.28" cy="50.04" r="2.00" fill="#E6A0A5" stroke="#D98A92" stroke-width="0.25" />
<circle cx="87.70" cy="52.64" r="1.96" fill="#E6A0A5" stroke="#D98A92" stroke-width="0.25" />
<circle cx="57.94" cy="35.46" r="1.88" fill="#E6A0A5" stroke="#D98A92" stroke-width="0.25" />
<circle cx="60.91" cy="33.00" r="2.14" fill="#E6A0A5" stroke="#D98A92" stroke-width="0.25" />
<circle cx="97.14" cy="52.06" r="1.92" fill="#E6A0A5" stroke="#D98A92" stroke-width="0.25" />
<circle cx="95.01" cy="55.01" r="2.06" fill="#E6A0A5" stroke="#D98A92" stroke-width="0.25" />
<circle cx="94.65" cy="54.43" r="2.15" fill="#E6A0A5" stroke="#D98A92" stroke-width="0.25" />
<circle cx="100.39" cy="68.91" r="1.97" fill="#E6A0A5" stroke="#D98A92" stroke-width="0.25" />
<circle cx="102.24" cy="71.38" r="2.11" fill="#E6A0A5" stroke="#D98A92" stroke-width="0.25" />
<circle cx="100.76" cy="69.32" r="1.74" fill="#E6A0A5" stroke="#D98A92" stroke-width="0.25" />
<circle cx="95.77" cy="75.21" r="1.86" fill="#E6A0A5" stroke="#D98A92" stroke-width="0.25" />
<circle cx="91.50" cy="78.49" r="2.20" fill="#E6A0A5" stroke="#D98A92" stroke-width="0.25" />
<circle cx="61.22" cy="55.36" r="1.79" fill="#E6A0A5" stroke="#D98A92" stroke-width="0.25" />
<circle cx="60.63" cy="54.81" r="1.73" fill="#E6A0A5" stroke="#D98A92" stroke-width="0.25" />
<circle cx="64.36" cy="54.08" r="1.71" fill="#E6A0A5" stroke="#D98A92" stroke-width="0.25" />
<circle cx="78.59" cy="55.42" r="2.16" fill="#E6A0A5" stroke="#D98A92" stroke-width="0.25" />
<circle cx="70.21" cy="52.98" r="1.76" fill="#E6A0A5" stroke="#D98A92" stroke-width="0.25" />
<circle cx="100.26" cy="50.30" r="1.97" fill="#E6A0A5" stroke="#D98A92" stroke-width="0.25" />
<circle cx="102.97" cy="52.72" r="1.96" fill="#E6A0A5" stroke="#D98A92" stroke-width="0.25" />
<circle cx="70.29" cy="69.75" r="2.18" fill="#E6A0A5" stroke="#D98A92" stroke-width="0.25" />
<circle cx="73.08" cy="72.53" r="1.99" fill="#E6A0A5" stroke="#D98A92" stroke-width="0.25" />
<circle cx="72.06" cy="73.43" r="2.01" fill="#E6A0A5" stroke="#D98A92" stroke-width="0.25" />
<circle cx="101.04" cy="69.47" r="1.71" fill="#E6A0A5" stroke="#D98A92" stroke-width="0.25" />
<circle cx="104.17" cy="72.12" r="2.18" fill="#E6A0A5" stroke="#D98A92" stroke-width="0.25" />
<circle cx="100.38" cy="69.42" r="2.16" fill="#E6A0A5" stroke="#D98A92" stroke-width="0.25" />
<circle cx="96.16" cy="57.21" r="2.07" fill="#E6A0A5" stroke="#D98A92" stroke-width="0.25" />
<circle cx="96.57" cy="57.90" r="2.20" fill="#E6A0A5" stroke="#D98A92" stroke-width="0.25" />
<circle cx="99.13" cy="57.34" r="2.07" fill="#E6A0A5" stroke="#D98A92" stroke-width="0.25" />
<circle cx="70.70" cy="77.90" r="2.13" fill="#E6A0A5" stroke="#D98A92" stroke-width="0.25" />
<circle cx="87.20" cy="37.65" r="2.21" fill="#E6A0A5" stroke="#D98A92" stroke-width="0.25" />
<circle cx="89.44" cy="38.02" r="2.07" fill="#E6A0A5" stroke="#D98A92" stroke-width="0.25" />
<circle cx="85.16" cy="37.62" r="1.71" fill="#E6A0A5" stroke="#D98A92" stroke-width="0.25" />
<circle cx="98.24" cy="39.26" r="2.23" fill="#E6A0A5" stroke="#D98A92" stroke-width="0.25" />
<circle cx="96.90" cy="41.65" r="2.29" fill="#E6A0A5" stroke="#D98A92" stroke-width="0.25" />
<circle cx="83.14" cy="75.50" r="1.82" fill="#E6A0A5" stroke="#D98A92" stroke-width="0.25" />
<circle cx="86.06" cy="73.72" r="1.74" fill="#E6A0A5" stroke="#D98A92" stroke-width="0.25" />
<circle cx="87.60" cy="52.95" r="1.90" fill="#E6A0A5" stroke="#D98A92" stroke-width="0.25" />
<circle cx="78.86" cy="60.77" r="1.76" fill="#E6A0A5" stroke="#D98A92" stroke-width="0.25" />
<circle cx="81.57" cy="60.63" r="1.92" fill="#E6A0A5" stroke="#D98A92" stroke-width="0.25" />
<circle cx="79.42" cy="64.61" r="1.75" fill="#E6A0A5" stroke="#D98A92" stroke-width="0.25" />
<circle cx="74.31" cy="35.72" r="1.83" fill="#E6A0A5" stroke="#D98A92" stroke-width="0.25" />
<circle cx="75.70" cy="37.83" r="1.70" fill="#E6A0A5" stroke="#D98A92" stroke-width="0.25" />
<circle cx="85.93" cy="62.85" r="1.96" fill="#E6A0A5" stroke="#D98A92" stroke-width="0.25" />
<circle cx="84.68" cy="64.75" r="1.88" fill="#E6A0A5" stroke="#D98A92" stroke-width="0.25" />
<circle cx="67.19" cy="54.39" r="2.14" fill="#E6A0A5" stroke="#D98A92" stroke-width="0.25" />
<circle cx="69.14" cy="56.09" r="1.93" fill="#E6A0A5" stroke="#D98A92" stroke-width="0.25" />
<circle cx="66.42" cy="55.12" r="1.80" fill="#E6A0A5" stroke="#D98A92" stroke-width="0.25" />
<circle cx="74.03" cy="40.86" r="2.27" fill="#E6A0A5" stroke="#D98A92" stroke-width="0.25" />
<circle cx="73.48" cy="40.97" r="2.24" fill="#E6A0A5" stroke="#D98A92" stroke-width="0.25" />
<circle cx="75.37" cy="37.83" r="2.11" fill="#E6A0A5" stroke="#D98A92" stroke-width="0.25" />
<circle cx="74.59" cy="67.81" r="1.83" fill="#E6A0A5" stroke="#D98A92" stroke-width="0.25" />
<circle cx="62.76" cy="40.43" r="1.94" fill="#E6A0A5" stroke="#D98A92" stroke-width="0.25" />
<circle cx="63.13" cy="35.58" r="1.97" fill="#E6A0A5" stroke="#D98A92" stroke-width="0.25" />
<circle cx="61.36" cy="35.44" r="1.95" fill="#E6A0A5" stroke="#D98A92" stroke-width="0.25" />
<circle cx="63.05" cy="67.24" r="1.72" fill="#E6A0A5" stroke="#D98A92" stroke-width="0.25" />
<circle cx="61.31" cy="67.03" r="1.97" fill="#E6A0A5" stroke="#D98A92" stroke-width="0.25" />
<circle cx="65.82" cy="67.65" r="2.16" fill="#E6A0A5" stroke="#D98A92" stroke-width="0.25" />
<circle cx="92.53" cy="67.31" r="2.12" fill="#E6A0A5" stroke="#D98A92" stroke-width="0.25" />
<circle cx="90.10" cy="62.93" r="2.22" fill="#E6A0A5" stroke="#D98A92" stroke-width="0.25" />
<circle cx="93.79" cy="40.86" r="2.11" fill="#E6A0A5" stroke="#D98A92" stroke-width="0.25" />
<circle cx="96.75" cy="39.43" r="2.16" fill="#E6A0A5" stroke="#D98A92" stroke-width="0.25" />
<circle cx="93.90" cy="39.04" r="2.22" fill="#E6A0A5" stroke="#D98A92" stroke-width="0.25" />
<circle cx="79.28" cy="71.19" r="2.25" fill="#E6A0A5" stroke="#D98A92" stroke-width="0.25" />
<circle cx="101.42" cy="50.20" r="2.18" fill="#E6A0A5" stroke="#D98A92" stroke-width="0.25" />
<circle cx="105.06" cy="52.90" r="1.95" fill="#E6A0A5" stroke="#D98A92" stroke-width="0.25" />
<circle cx="100.85" cy="50.79" r="2.10" fill="#E6A0A5" stroke="#D98A92" stroke-width="0.25" />
<circle cx="99.79" cy="65.39" r="2.09" fill="#E6A0A5" stroke="#D98A92" stroke-width="0.25" />
<circle cx="100.47" cy="63.22" r="2.23" fill="#E6A0A5" stroke="#D98A92" stroke-width="0.25" />
<circle cx="72.41" cy="67.24" r="2.13" fill="#E6A0A5" stroke="#D98A92" stroke-width="0.25" />
<circle cx="73.73" cy="65.65" r="1.97" fill="#E6A0A5" stroke="#D98A92" stroke-width="0.25" />
<circle cx="89.00" cy="54.83" r="1.81" fill="#E6A0A5" stroke="#D98A92" stroke-width="0.25" />
<circle cx="86.22" cy="53.81" r="1.90" fill="#E6A0A5" stroke="#D98A92" stroke-width="0.25" />
<circle cx="88.35" cy="56.26" r="1.85" fill="#E6A0A5" stroke="#D98A92" stroke-width="0.25" />
<circle cx="69.59" cy="56.45" r="2.11" fill="#E6A0A5" stroke="#D98A92" stroke-width="0.25" />
<circle cx="69.28" cy="55.83" r="2.16" fill="#E6A0A5" stroke="#D98A92" stroke-width="0.25" />
<circle cx="70.05" cy="54.67" r="1.82" fill="#E6A0A5" stroke="#D98A92" stroke-width="0.25" />
<circle cx="59.99" cy="64.23" r="2.02" fill="#E6A0A5" stroke="#D98A92" stroke-width="0.25" />
<circle cx="88.68" cy="56.29" r="2.20" fill="#E6A0A5" stroke="#D98A92" stroke-width="0.25" />
<circle cx="87.27" cy="56.72" r="1.92" fill="#E6A0A5" stroke="#D98A92" stroke-width="0.25" />
<circle cx="61.36" cy="47.26" r="1.76" fill="#E6A0A5" stroke="#D98A92" stroke-width="0.25" />
<circle cx="64.25" cy="45.77" r="2.06" fill="#E6A0A5" stroke="#D98A92" stroke-width="0.25" />
<circle cx="62.58" cy="49.04" r="1.92" fill="#E6A0A5" stroke="#D98A92" stroke-width="0.25" />
<circle cx="92.98" cy="36.88" r="1.79" fill="#E6A0A5" stroke="#D98A92" stroke-width="0.25" />
<circle cx="91.66" cy="52.68" r="1.87" fill="#E6A0A5" stroke="#D98A92" stroke-width="0.25" />
<circle cx="91.95" cy="53.54" r="1.70" fill="#E6A0A5" stroke="#D98A92" stroke-width="0.25" />
<circle cx="91.84" cy="54.11" r="1.79" fill="#E6A0A5" stroke="#D98A92" stroke-width="0.25" />
<circle cx="98.00" cy="42.21" r="1.96" fill="#E6A0A5" stroke="#D98A92" stroke-width="0.25" />
<circle cx="97.12" cy="41.83" r="1.76" fill="#E6A0A5" stroke="#D98A92" stroke-width="0.25" />
<circle cx="76.80" cy="43.03" r="1.70" fill="#E6A0A5" stroke="#D98A92" stroke-width="0.25" />
<circle cx="67.36" cy="79.58" r="2.03" fill="#E6A0A5" stroke="#D98A92" stroke-width="0.25" />
<circle cx="69.51" cy="77.27" r="2.27" fill="#E6A0A5" stroke="#D98A92" stroke-width="0.25" />
<circle cx="69.48" cy="76.46" r="2.20" fill="#E6A0A5" stroke="#D98A92" stroke-width="0.25" />
<circle cx="85.55" cy="40.30" r="0.80" fill="#D8808C" />
<circle cx="86.55" cy="33.72" r="0.80" fill="#D8808C" />
<circle cx="89.51" cy="34.77" r="0.80" fill="#D8808C" />
<circle cx="69.60" cy="46.80" r="0.80" fill="#D8808C" />
<circle cx="67.25" cy="47.40" r="0.80" fill="#D8808C" />
<circle cx="68.28" cy="50.04" r="0.80" fill="#D8808C" />
<circle cx="87.70" cy="52.64" r="0.80" fill="#D8808C" />
<circle cx="57.94" cy="35.46" r="0.80" fill="#D8808C" />
<circle cx="60.91" cy="33.00" r="0.80" fill="#D8808C" />
<circle cx="97.14" cy="52.06" r="0.80" fill="#D8808C" />
<circle cx="95.01" cy="55.01" r="0.80" fill="#D8808C" />
<circle cx="94.65" cy="54.43" r="0.80" fill="#D8808C" />
<circle cx="100.39" cy="68.91" r="0.80" fill="#D8808C" />
<circle cx="102.24" cy="71.38" r="0.80" fill="#D8808C" />
<circle cx="100.76" cy="69.32" r="0.80" fill="#D8808C" />
<circle cx="95.77" cy="75.21" r="0.80" fill="#D8808C" />
<circle cx="91.50" cy="78.49" r="0.80" fill="#D8808C" />
<circle cx="61.22" cy="55.36" r="0.80" fill="#D8808C" />
<circle cx="60.63" cy="54.81" r="0.80" fill="#D8808C" />
<circle cx="64.36" cy="54.08" r="0.80" fill="#D8808C" />
<circle cx="78.59" cy="55.42" r="0.80" fill="#D8808C" />
<circle cx="70.21" cy="52.98" r="0.80" fill="#D8808C" />
<circle cx="100.26" cy="50.30" r="0.80" fill="#D8808C" />
<circle cx="102.97" cy="52.72" r="0.80" fill="#D8808C" />
<circle cx="70.29" cy="69.75" r="0.80" fill="#D8808C" />
<circle cx="73.08" cy="72.53" r="0.80" fill="#D8808C" />
<circle cx="72.06" cy="73.43" r="0.80" fill="#D8808C" />
<circle cx="101.04" cy="69.47" r="0.80" fill="#D8808C" />
<circle cx="104.17" cy="72.12" r="0.80" fill="#D8808C" />
<circle cx="100.38" cy="69.42" r="0.80" fill="#D8808C" />
<circle cx="96.16" cy="57.21" r="0.80" fill="#D8808C" />
<circle cx="96.57" cy="57.90" r="0.80" fill="#D8808C" />
<circle cx="99.13" cy="57.34" r="0.80" fill="#D8808C" />
<circle cx="70.70" cy="77.90" r="0.80" fill="#D8808C" />
<circle cx="87.20" cy="37.65" r="0.80" fill="#D8808C" />
<circle cx="89.44" cy="38.02" r="0.80" fill="#D8808C" />
<circle cx="85.16" cy="37.62" r="0.80" fill="#D8808C" />
<circle cx="98.24" cy="39.26" r="0.80" fill="#D8808C" />
<circle cx="96.90" cy="41.65" r="0.80" fill="#D8808C" />
<circle cx="83.14" cy="75.50" r="0.80" fill="#D8808C" />
<circle cx="86.06" cy="73.72" r="0.80" fill="#D8808C" />
<circle cx="87.60" cy="52.95" r="0.80" fill="#D8808C" />
<circle cx="78.86" cy="60.77" r="0.80" fill="#D8808C" />
<circle cx="81.57" cy="60.63" r="0.80" fill="#D8808C" />
<circle cx="79.42" cy="64.61" r="0.80" fill="#D8808C" />
<circle cx="74.31" cy="35.72" r="0.80" fill="#D8808C" />
<circle cx="75.70" cy="37.83" r="0.80" fill="#D8808C" />
<circle cx="85.93" cy="62.85" r="0.80" fill="#D8808C" />
<circle cx="84.68" cy="64.75" r="0.80" fill="#D8808C" />
<circle cx="67.19" cy="54.39" r="0.80" fill="#D8808C" />
<circle cx="69.14" cy="56.09" r="0.80" fill="#D8808C" />
<circle cx="66.42" cy="55.12" r="0.80" fill="#D8808C" />
<circle cx="74.03" cy="40.86" r="0.80" fill="#D8808C" />
<circle cx="73.48" cy="40.97" r="0.80" fill="#D8808C" />
<circle cx="75.37" cy="37.83" r="0.80" fill="#D8808C" />
<circle cx="74.59" cy="67.81" r="0.80" fill="#D8808C" />
<circle cx="62.76" cy="40.43" r="0.80" fill="#D8808C" />
<circle cx="63.13" cy="35.58" r="0.80" fill="#D8808C" />
<circle cx="61.36" cy="35.44" r="0.80" fill="#D8808C" />
<circle cx="63.05" cy="67.24" r="0.80" fill="#D8808C" />
<circle cx="61.31" cy="67.03" r="0.80" fill="#D8808C" />
<circle cx="65.82" cy="67.65" r="0.80" fill="#D8808C" />
<circle cx="92.53" cy="67.31" r="0.80" fill="#D8808C" />
<circle cx="90.10" cy="62.93" r="0.80" fill="#D8808C" />
<circle cx="93.79" cy="40.86" r="0.80" fill="#D8808C" />
<circle cx="96.75" cy="39.43" r="0.80" fill="#D8808C" />
<circle cx="93.90" cy="39.04" r="0.80" fill="#D8808C" />
<circle cx="79.28" cy="71.19" r="0.80" fill="#D8808C" />
<circle cx="101.42" cy="50.20" r="0.80" fill="#D8808C" />
<circle cx="105.06" cy="52.90" r="0.80" fill="#D8808C" />
<circle cx="100.85" cy="50.79" r="0.80" fill="#D8808C" />
<circle cx="99.79" cy="65.39" r="0.80" fill="#D8808C" />
<circle cx="100.47" cy="63.22" r="0.80" fill="#D8808C" />
<circle cx="72.41" cy="67.24" r="0.80" fill="#D8808C" />
<circle cx="73.73" cy="65.65" r="0.80" fill="#D8808C" />
<circle cx="89.00" cy="54.83" r="0.80" fill="#D8808C" />
<circle cx="86.22" cy="53.81" r="0.80" fill="#D8808C" />
<circle cx="88.35" cy="56.26" r="0.80" fill="#D8808C" />
<circle cx="69.59" cy="56.45" r="0.80" fill="#D8808C" />
<circle cx="69.28" cy="55.83" r="0.80" fill="#D8808C" />
<circle cx="70.05" cy="54.67" r="0.80" fill="#D8808C" />
<circle cx="59.99" cy="64.23" r="0.80" fill="#D8808C" />
<circle cx="88.68" cy="56.29" r="0.80" fill="#D8808C" />
<circle cx="87.27" cy="56.72" r="0.80" fill="#D8808C" />
<circle cx="61.36" cy="47.26" r="0.80" fill="#D8808C" />
<circle cx="64.25" cy="45.77" r="0.80" fill="#D8808C" />
<circle cx="62.58" cy="49.04" r="0.80" fill="#D8808C" />
<circle cx="92.98" cy="36.88" r="0.80" fill="#D8808C" />
<circle cx="91.66" cy="52.68" r="0.80" fill="#D8808C" />
<circle cx="91.95" cy="53.54" r="0.80" fill="#D8808C" />
<circle cx="91.84" cy="54.11" r="0.80" fill="#D8808C" />
<circle cx="98.00" cy="42.21" r="0.80" fill="#D8808C" />
<circle cx="97.12" cy="41.83" r="0.80" fill="#D8808C" />
<circle cx="76.80" cy="43.03" r="0.80" fill="#D8808C" />
<circle cx="67.36" cy="79.58" r="0.80" fill="#D8808C" />
<circle cx="69.51" cy="77.27" r="0.80" fill="#D8808C" />
<circle cx="69.48" cy="76.46" r="0.80" fill="#D8808C" />
<ellipse cx="67.4" cy="42.4" rx="3.4" ry="1.9" fill="#85121F" transform="rotate(-30 67.4 42.4)"/>
<ellipse cx="67.4" cy="42.4" rx="1.87" ry="0.95" fill="#5A0812" transform="rotate(-30 67.4 42.4)"/>
<ellipse cx="82.5" cy="35.9" rx="2.0" ry="1.6" fill="#85121F" transform="rotate(60 82.5 35.9)"/>
<ellipse cx="82.5" cy="35.9" rx="1.10" ry="0.80" fill="#5A0812" transform="rotate(60 82.5 35.9)"/>
<ellipse cx="62.5" cy="53.7" rx="2.5" ry="1.6" fill="#85121F" transform="rotate(80 62.5 53.7)"/>
<ellipse cx="62.5" cy="53.7" rx="1.38" ry="0.80" fill="#5A0812" transform="rotate(80 62.5 53.7)"/>
<ellipse cx="96.5" cy="47.8" rx="2.9" ry="1.8" fill="#85121F" transform="rotate(40 96.5 47.8)"/>
<ellipse cx="96.5" cy="47.8" rx="1.59" ry="0.90" fill="#5A0812" transform="rotate(40 96.5 47.8)"/>
<ellipse cx="73.3" cy="68.8" rx="4.4" ry="2.2" fill="#85121F" transform="rotate(35 73.3 68.8)"/>
<ellipse cx="73.3" cy="68.8" rx="2.42" ry="1.10" fill="#5A0812" transform="rotate(35 73.3 68.8)"/>
<ellipse cx="87.3" cy="66.1" rx="2.6" ry="1.5" fill="#85121F" transform="rotate(-20 87.3 66.1)"/>
<ellipse cx="87.3" cy="66.1" rx="1.43" ry="0.75" fill="#5A0812" transform="rotate(-20 87.3 66.1)"/>
<ellipse cx="100.2" cy="63.9" rx="3.0" ry="1.7" fill="#85121F" transform="rotate(-35 100.2 63.9)"/>
<ellipse cx="100.2" cy="63.9" rx="1.65" ry="0.85" fill="#5A0812" transform="rotate(-35 100.2 63.9)"/>
<ellipse cx="83.5" cy="77.9" rx="2.1" ry="1.5" fill="#85121F" transform="rotate(10 83.5 77.9)"/>
<ellipse cx="83.5" cy="77.9" rx="1.16" ry="0.75" fill="#5A0812" transform="rotate(10 83.5 77.9)"/>
<ellipse cx="64.2" cy="49.4" rx="2.6" ry="1.8" fill="#CFC0EC" stroke="#B8A8E0" stroke-width="0.3" transform="rotate(-20 64.2 49.4)"/>
<ellipse cx="79.8" cy="54.2" rx="2.6" ry="1.8" fill="#CFC0EC" stroke="#B8A8E0" stroke-width="0.3" transform="rotate(-60 79.8 54.2)"/>
<ellipse cx="98.1" cy="45.1" rx="2.6" ry="1.8" fill="#CFC0EC" stroke="#B8A8E0" stroke-width="0.3" transform="rotate(-20 98.1 45.1)"/>
<ellipse cx="89.2" cy="71.5" rx="2.6" ry="1.8" fill="#CFC0EC" stroke="#B8A8E0" stroke-width="0.3" transform="rotate(-50 89.2 71.5)"/>
<ellipse cx="102.4" cy="71.5" rx="2.6" ry="1.8" fill="#CFC0EC" stroke="#B8A8E0" stroke-width="0.3" transform="rotate(-70 102.4 71.5)"/>
<ellipse cx="68.5" cy="46.2" rx="2.0" ry="1.5" fill="#F8D468"/>
<ellipse cx="72.8" cy="55.8" rx="2.0" ry="1.5" fill="#F8D468"/>
<ellipse cx="101.8" cy="47.2" rx="2.0" ry="1.5" fill="#F8D468"/>
<ellipse cx="87.8" cy="68.2" rx="2.0" ry="1.5" fill="#F8D468"/>
<ellipse cx="101.8" cy="67.2" rx="2.0" ry="1.5" fill="#F8D468"/>
</g>
<path d="M56.6,50.5C56.9,47.9 56.2,48.2 57.7,45.1C59.2,42.0 58.8,43.0 61.5,40.2C64.2,37.4 63.3,37.7 66.8,35.9C70.3,34.1 69.1,34.7 73.3,34.1C77.5,33.5 76.6,33.6 80.8,33.8C85.0,34.0 83.4,33.8 87.3,34.8C91.2,35.8 89.9,35.2 93.8,37.0C97.7,38.8 96.8,38.0 100.2,40.8C103.6,43.6 102.8,43.0 105.1,46.2C107.4,49.4 106.7,48.3 107.8,51.5C108.9,54.7 108.8,53.7 108.8,56.9C108.8,60.1 108.8,59.1 107.8,62.3C106.8,65.5 107.2,64.5 105.6,67.7C104.0,70.9 104.7,70.2 102.4,73.1C100.2,76.0 101.3,75.3 98.1,77.4C94.9,79.5 95.5,79.1 91.6,80.1C87.7,81.1 89.1,80.8 85.2,80.6C81.3,80.4 82.3,80.5 78.7,79.5C75.1,78.5 76.2,79.3 73.3,77.4C70.4,75.5 71.6,75.7 69.0,73.1C66.4,70.5 67.3,71.7 64.7,68.8C62.1,65.9 62.5,66.6 60.4,63.4C58.3,60.2 58.8,60.9 57.7,58.0C56.6,55.1 56.9,56.0 56.6,53.7C56.3,51.5 56.3,53.1 56.6,50.5Z" fill="none" stroke="#5a5a5a" stroke-width="0.8"/>
<text x="72.40" y="94.20" font-size="11.8" font-weight="bold" text-anchor="start" fill="#000" textLength="23.40" lengthAdjust="spacingAndGlyphs" >Islet</text>
<defs><marker id="ah" markerWidth="9" markerHeight="7" refX="7" refY="3.2" orient="auto" markerUnits="userSpaceOnUse"><path d="M0,0 L8,3.2 L0,6.4 Z" fill="#000"/></marker></defs>
<path d="M131.9,38.8 L111.5,57.7 L131.9,76.5" fill="none" stroke="#000" stroke-width="1.4" stroke-linejoin="miter" marker-end="url(#ah)" marker-start="url(#ahs)"/>
<defs><marker id="ahs" markerWidth="9" markerHeight="7" refX="7" refY="3.2" orient="auto-start-reverse" markerUnits="userSpaceOnUse"><path d="M0,0 L8,3.2 L0,6.4 Z" fill="#000"/></marker></defs>
<line x1="211.00" y1="63.90" x2="232.50" y2="63.90" stroke="#000" stroke-width="1.3" marker-end="url(#ah)"/>
<ellipse cx="153.2" cy="35.9" rx="18.6" ry="9.2" fill="#7FD3BB" stroke="#111" stroke-width="0.8"/>
<ellipse cx="153.2" cy="30.3" rx="18.6" ry="8.8" fill="#fff"/>
<ellipse cx="153.2" cy="32.0" rx="17.8" ry="7.9" fill="#7FD3BB"/>
<ellipse cx="153.2" cy="30.3" rx="18.6" ry="8.8" fill="none" stroke="#111" stroke-width="0.8"/>
<circle cx="143.5" cy="31.6" r="2.7" fill="none" stroke="#1f5a4b" stroke-width="0.95" stroke-dasharray="1.6 0.65"/>
<circle cx="153.2" cy="28.0" r="2.7" fill="none" stroke="#1f5a4b" stroke-width="0.95" stroke-dasharray="1.6 0.65"/>
<circle cx="161.89999999999998" cy="31.8" r="2.7" fill="none" stroke="#1f5a4b" stroke-width="0.95" stroke-dasharray="1.6 0.65"/>
<ellipse cx="152.8" cy="83.6" rx="18.6" ry="9.2" fill="#A9A1D1" stroke="#111" stroke-width="0.8"/>
<ellipse cx="152.8" cy="78.0" rx="18.6" ry="8.8" fill="#fff"/>
<ellipse cx="152.8" cy="79.7" rx="17.8" ry="7.9" fill="#A9A1D1"/>
<ellipse cx="152.8" cy="78.0" rx="18.6" ry="8.8" fill="none" stroke="#111" stroke-width="0.8"/>
<circle cx="143.10000000000002" cy="79.3" r="2.7" fill="none" stroke="#3d3865" stroke-width="0.95" stroke-dasharray="1.6 0.65"/>
<circle cx="152.8" cy="75.7" r="2.7" fill="none" stroke="#3d3865" stroke-width="0.95" stroke-dasharray="1.6 0.65"/>
<circle cx="161.5" cy="79.5" r="2.7" fill="none" stroke="#3d3865" stroke-width="0.95" stroke-dasharray="1.6 0.65"/>
<text x="144.60" y="10.80" font-size="7.3" font-weight="bold" text-anchor="start" fill="#000" textLength="15.00" lengthAdjust="spacingAndGlyphs" >48h</text>
<text x="178.50" y="35.00" font-size="8.5" font-weight="bold" text-anchor="start" fill="#000" textLength="14.60" lengthAdjust="spacingAndGlyphs" >Ctrl</text>
<text x="179.90" y="86.10" font-size="8.5" font-weight="bold" text-anchor="start" fill="#000" textLength="11.30" lengthAdjust="spacingAndGlyphs" >GL</text>
<text x="130.80" y="54.90" font-size="8.5" font-weight="bold" text-anchor="start" fill="#000" textLength="83.10" lengthAdjust="spacingAndGlyphs" >+5.1mmol/L Glucose</text>
<text x="130.80" y="106.20" font-size="8.5" font-weight="bold" text-anchor="start" fill="#000" textLength="82.60" lengthAdjust="spacingAndGlyphs" >+25 mmol/L Glucose</text>
<text x="130.80" y="116.10" font-size="8.5" font-weight="bold" text-anchor="start" fill="#000" textLength="102.70" lengthAdjust="spacingAndGlyphs" >+0.5 mmol/L Palmitic acid</text>
<path d="M263.20000000000005,42.2 L263.20000000000005,63.3 A4.3,4.3 0 0 0 271.80000000000007,63.3 L271.80000000000007,42.2 Z" fill="#fff" stroke="#666" stroke-width="0.6"/>
<path d="M264.30000000000007,50.7 L264.30000000000007,62.99999999999999 A3.2,3.2 0 0 0 270.70000000000005,62.99999999999999 L270.70000000000005,50.7 Z" fill="#A5C3D2"/>
<line x1="264.60" y1="52.70" x2="266.60" y2="52.70" stroke="#e8f0f4" stroke-width="0.35" />
<line x1="264.60" y1="55.30" x2="266.60" y2="55.30" stroke="#e8f0f4" stroke-width="0.35" />
<line x1="264.60" y1="57.90" x2="266.60" y2="57.90" stroke="#e8f0f4" stroke-width="0.35" />
<line x1="264.60" y1="60.50" x2="266.60" y2="60.50" stroke="#e8f0f4" stroke-width="0.35" />
<line x1="264.60" y1="63.10" x2="266.60" y2="63.10" stroke="#e8f0f4" stroke-width="0.35" />
<rect x="261.60" y="39.20" width="11.80" height="3.00" fill="#fff" stroke="#666" stroke-width="0.6" rx="1.2"/>
<path d="M256.40000000000003,46.5 L256.40000000000003,67.60000000000001 A4.3,4.3 0 0 0 265.00000000000006,67.60000000000001 L265.00000000000006,46.5 Z" fill="#fff" stroke="#666" stroke-width="0.6"/>
<path d="M257.50000000000006,55.0 L257.50000000000006,67.30000000000001 A3.2,3.2 0 0 0 263.90000000000003,67.30000000000001 L263.90000000000003,55.0 Z" fill="#A5C3D2"/>
<line x1="257.80" y1="57.00" x2="259.80" y2="57.00" stroke="#e8f0f4" stroke-width="0.35" />
<line x1="257.80" y1="59.60" x2="259.80" y2="59.60" stroke="#e8f0f4" stroke-width="0.35" />
<line x1="257.80" y1="62.20" x2="259.80" y2="62.20" stroke="#e8f0f4" stroke-width="0.35" />
<line x1="257.80" y1="64.80" x2="259.80" y2="64.80" stroke="#e8f0f4" stroke-width="0.35" />
<line x1="257.80" y1="67.40" x2="259.80" y2="67.40" stroke="#e8f0f4" stroke-width="0.35" />
<rect x="254.80" y="43.50" width="11.80" height="3.00" fill="#fff" stroke="#666" stroke-width="0.6" rx="1.2"/>
<path d="M249.6,51.1 L249.6,72.2 A4.3,4.3 0 0 0 258.2,72.2 L258.2,51.1 Z" fill="#fff" stroke="#666" stroke-width="0.6"/>
<path d="M250.7,59.6 L250.7,71.9 A3.2,3.2 0 0 0 257.09999999999997,71.9 L257.09999999999997,59.6 Z" fill="#A5C3D2"/>
<line x1="251.00" y1="61.60" x2="253.00" y2="61.60" stroke="#e8f0f4" stroke-width="0.35" />
<line x1="251.00" y1="64.20" x2="253.00" y2="64.20" stroke="#e8f0f4" stroke-width="0.35" />
<line x1="251.00" y1="66.80" x2="253.00" y2="66.80" stroke="#e8f0f4" stroke-width="0.35" />
<line x1="251.00" y1="69.40" x2="253.00" y2="69.40" stroke="#e8f0f4" stroke-width="0.35" />
<line x1="251.00" y1="72.00" x2="253.00" y2="72.00" stroke="#e8f0f4" stroke-width="0.35" />
<rect x="248.00" y="48.10" width="11.80" height="3.00" fill="#fff" stroke="#666" stroke-width="0.6" rx="1.2"/>
<line x1="280.40" y1="57.70" x2="296.50" y2="57.70" stroke="#000" stroke-width="2" />
<line x1="288.45" y1="49.60" x2="288.45" y2="65.80" stroke="#000" stroke-width="2" />
<text x="247.00" y="102.40" font-size="12" font-weight="bold" text-anchor="start" fill="#000" textLength="28.80" lengthAdjust="spacingAndGlyphs" >GSIS</text>
<g stroke="#808080" stroke-width="0.8">
<rect x="327.10" y="36.60" width="7.60" height="16.80" fill="#C6C6C6" />
<rect x="327.10" y="62.00" width="7.60" height="16.20" fill="#4A8FE0" />
<rect x="346.70" y="36.60" width="7.10" height="41.60" fill="#EFE27C" />
<path d="M306.2,52.9 L373.7,52.9 A4.9,4.9 0 0 1 373.7,62.7 L306.2,62.7 Z" fill="#F3F3F7"/>
</g>
<path d="M354,53.4 L373.7,53.4 A4.4,4.4 0 0 1 373.7,62.2 L354,62.2 Z" fill="#EFE27C"/>
<rect x="347.20" y="53.30" width="6.90" height="9.00" fill="#EFE27C" />
<path d="M327.5,62.9 Q327.6,59.2 333,59.1 L345,59.6 Q351,60 353.5,61 L353.5,62.3 L327.5,62.3Z" fill="#4A8FE0"/>
<rect x="327.60" y="62.20" width="6.70" height="1.20" fill="#4A8FE0" />
<path d="M327.55,53 L334.3,53 L334.3,55 Q331,57.2 327.55,55.5Z" fill="#D2D2D6"/>
<circle cx="312.60" cy="58.60" r="0.85" fill="#6CC24A" />
<circle cx="324.20" cy="56.50" r="0.85" fill="#6CC24A" />
<circle cx="339.20" cy="57.80" r="0.85" fill="#6CC24A" />
<circle cx="352.80" cy="57.80" r="0.85" fill="#6CC24A" />
<circle cx="362.90" cy="58.90" r="0.85" fill="#6CC24A" />
<circle cx="373.00" cy="55.70" r="0.85" fill="#6CC24A" />
<circle cx="330.70" cy="41.80" r="1.50" fill="#F2AE8C" />
<circle cx="330.70" cy="52.60" r="1.60" fill="#F1B6CC" />
<circle cx="343.00" cy="55.70" r="1.50" fill="#8292DC" />
<circle cx="354.00" cy="55.30" r="1.70" fill="#80B6E2" />
<circle cx="364.60" cy="57.30" r="3.30" fill="none" stroke="#E3D070" stroke-width="0.5" />
<circle cx="364.60" cy="56.80" r="1.40" fill="#F1B0B0" />
<circle cx="374.60" cy="58.00" r="2.60" fill="none" stroke="#E3D070" stroke-width="0.5" />
<circle cx="375.20" cy="58.50" r="1.30" fill="#F1B6CC" />
<text x="307.30" y="102.90" font-size="12.2" font-weight="bold" text-anchor="start" fill="#000" textLength="65.40" lengthAdjust="spacingAndGlyphs" >scRNA-seq</text>
<text x="383.80" y="10.80" font-size="14.0" font-weight="bold" text-anchor="start" fill="#000" >B</text>
<line x1="431.50" y1="91.63" x2="431.50" y2="74.11" stroke="#111" stroke-width="0.9" />
<line x1="428.40" y1="74.11" x2="434.60" y2="74.11" stroke="#111" stroke-width="0.9" />
<rect x="425.40" y="91.63" width="12.20" height="22.57" fill="#D3EFE6" stroke="#000" stroke-width="1.0" />
<line x1="431.50" y1="114.20" x2="431.50" y2="116.30" stroke="#111" stroke-width="0.8" />
<line x1="450.50" y1="65.55" x2="450.50" y2="32.66" stroke="#111" stroke-width="0.9" />
<line x1="447.40" y1="32.66" x2="453.60" y2="32.66" stroke="#111" stroke-width="0.9" />
<rect x="444.50" y="65.55" width="12.10" height="48.65" fill="#7FD3BB" stroke="#000" stroke-width="1.0" />
<line x1="450.50" y1="114.20" x2="450.50" y2="116.30" stroke="#111" stroke-width="0.8" />
<line x1="483.00" y1="86.96" x2="483.00" y2="61.46" stroke="#111" stroke-width="0.9" />
<line x1="479.90" y1="61.46" x2="486.10" y2="61.46" stroke="#111" stroke-width="0.9" />
<rect x="476.90" y="86.96" width="12.30" height="27.24" fill="#DDD9F5" stroke="#000" stroke-width="1.0" />
<line x1="483.00" y1="114.20" x2="483.00" y2="116.30" stroke="#111" stroke-width="0.8" />
<line x1="502.60" y1="81.12" x2="502.60" y2="49.98" stroke="#111" stroke-width="0.9" />
<line x1="499.50" y1="49.98" x2="505.70" y2="49.98" stroke="#111" stroke-width="0.9" />
<rect x="496.60" y="81.12" width="12.00" height="33.08" fill="#A9A1D1" stroke="#000" stroke-width="1.0" />
<line x1="502.60" y1="114.20" x2="502.60" y2="116.30" stroke="#111" stroke-width="0.8" />
<line x1="418.40" y1="16.40" x2="418.40" y2="114.70" stroke="#111" stroke-width="1.1" />
<line x1="417.90" y1="114.20" x2="515.70" y2="114.20" stroke="#111" stroke-width="1.1" />
<line x1="414.40" y1="114.20" x2="418.40" y2="114.20" stroke="#111" stroke-width="1.0" />
<text x="412.90" y="116.60" font-size="6.6" font-weight="bold" text-anchor="end" fill="#000" >0</text>
<line x1="414.40" y1="94.74" x2="418.40" y2="94.74" stroke="#111" stroke-width="1.0" />
<text x="412.90" y="97.14" font-size="6.6" font-weight="bold" text-anchor="end" fill="#000" >10</text>
<line x1="414.40" y1="75.28" x2="418.40" y2="75.28" stroke="#111" stroke-width="1.0" />
<text x="412.90" y="77.68" font-size="6.6" font-weight="bold" text-anchor="end" fill="#000" >20</text>
<line x1="414.40" y1="55.82" x2="418.40" y2="55.82" stroke="#111" stroke-width="1.0" />
<text x="412.90" y="58.22" font-size="6.6" font-weight="bold" text-anchor="end" fill="#000" >30</text>
<line x1="414.40" y1="36.36" x2="418.40" y2="36.36" stroke="#111" stroke-width="1.0" />
<text x="412.90" y="38.76" font-size="6.6" font-weight="bold" text-anchor="end" fill="#000" >40</text>
<line x1="414.40" y1="16.90" x2="418.40" y2="16.90" stroke="#111" stroke-width="1.0" />
<text x="412.90" y="19.30" font-size="6.6" font-weight="bold" text-anchor="end" fill="#000" >50</text>
<polyline points="430.9,84.4 450.3,18.8 482.9,45.1 502.3,29.2" fill="none" stroke="#111" stroke-width="0.55"/>
<polyline points="430.9,64.6 450.3,43.8 482.9,87.7 502.3,83.8" fill="none" stroke="#111" stroke-width="0.55"/>
<polyline points="430.9,100.6 450.3,86.2 482.9,110.3 502.3,110.3" fill="none" stroke="#111" stroke-width="0.55"/>
<polyline points="430.9,101.9 450.3,87.0 482.9,90.5 502.3,86.2" fill="none" stroke="#111" stroke-width="0.55"/>
<polyline points="430.9,103.1 450.3,90.1 482.9,96.1 502.3,92.0" fill="none" stroke="#111" stroke-width="0.55"/>
<circle cx="430.90" cy="84.43" r="1.55" fill="#000" />
<circle cx="450.30" cy="18.85" r="1.55" fill="#000" />
<circle cx="482.90" cy="45.12" r="1.55" fill="#000" />
<circle cx="502.30" cy="29.16" r="1.55" fill="#000" />
<circle cx="430.90" cy="64.58" r="1.55" fill="#000" />
<circle cx="450.30" cy="43.75" r="1.55" fill="#000" />
<circle cx="482.90" cy="87.73" r="1.55" fill="#000" />
<circle cx="502.30" cy="83.84" r="1.55" fill="#000" />
<circle cx="430.90" cy="100.58" r="1.55" fill="#000" />
<circle cx="450.30" cy="86.18" r="1.55" fill="#000" />
<circle cx="482.90" cy="110.31" r="1.55" fill="#000" />
<circle cx="502.30" cy="110.31" r="1.55" fill="#000" />
<circle cx="430.90" cy="101.94" r="1.55" fill="#000" />
<circle cx="450.30" cy="86.96" r="1.55" fill="#000" />
<circle cx="482.90" cy="90.46" r="1.55" fill="#000" />
<circle cx="502.30" cy="86.18" r="1.55" fill="#000" />
<circle cx="430.90" cy="103.11" r="1.55" fill="#000" />
<circle cx="450.30" cy="90.07" r="1.55" fill="#000" />
<circle cx="482.90" cy="96.10" r="1.55" fill="#000" />
<circle cx="502.30" cy="92.02" r="1.55" fill="#000" />
<text x="392.70" y="66.80" font-size="6.6" font-weight="bold" text-anchor="middle" fill="#000" textLength="56.00" lengthAdjust="spacingAndGlyphs" transform="rotate(-90 392.70 66.80)" >Insulin Secretion</text>
<text x="401.20" y="68.30" font-size="6.6" font-weight="bold" text-anchor="middle" fill="#000" textLength="47.50" lengthAdjust="spacingAndGlyphs" transform="rotate(-90 401.20 68.30)" >(ng/100 IEQ/h)</text>
<text x="421.50" y="122.20" font-size="4.1" font-weight="bold" text-anchor="middle" fill="#222" textLength="23.30" lengthAdjust="spacingAndGlyphs" >3.3 mmol/L</text>
<text x="450.50" y="122.20" font-size="4.1" font-weight="bold" text-anchor="middle" fill="#222" textLength="25.00" lengthAdjust="spacingAndGlyphs" >16.7 mmol/L</text>
<text x="479.00" y="122.20" font-size="4.1" font-weight="bold" text-anchor="middle" fill="#222" textLength="23.30" lengthAdjust="spacingAndGlyphs" >3.3 mmol/L</text>
<text x="507.40" y="122.20" font-size="4.1" font-weight="bold" text-anchor="middle" fill="#222" textLength="25.00" lengthAdjust="spacingAndGlyphs" >16.7 mmol/L</text>
<line x1="423.20" y1="124.80" x2="458.90" y2="124.80" stroke="#333" stroke-width="1.0" />
<line x1="476.20" y1="124.80" x2="511.50" y2="124.80" stroke="#333" stroke-width="1.0" />
<text x="435.20" y="133.20" font-size="6.6" font-weight="bold" text-anchor="start" fill="#000" textLength="10.40" lengthAdjust="spacingAndGlyphs" >Ctrl</text>
<text x="488.00" y="133.20" font-size="6.6" font-weight="bold" text-anchor="start" fill="#000" textLength="9.00" lengthAdjust="spacingAndGlyphs" >GL</text>
<text x="0.00" y="133.20" font-size="14.0" font-weight="bold" text-anchor="start" fill="#000" >C</text>
<text x="0.00" y="248.00" font-size="14.5" font-weight="bold" text-anchor="start" fill="#000" >D</text>
<line x1="29.20" y1="146.80" x2="29.20" y2="216.70" stroke="#111" stroke-width="1.0" />
<line x1="25.80" y1="216.20" x2="79.50" y2="216.20" stroke="#111" stroke-width="1.0" />
<line x1="26.20" y1="216.20" x2="29.20" y2="216.20" stroke="#111" stroke-width="0.9" />
<text x="25.50" y="218.50" font-size="6.2" font-weight="bold" text-anchor="end" fill="#000" >0</text>
<line x1="26.20" y1="198.95" x2="29.20" y2="198.95" stroke="#111" stroke-width="0.9" />
<text x="25.50" y="201.25" font-size="6.2" font-weight="bold" text-anchor="end" fill="#000" >1</text>
<line x1="26.20" y1="181.70" x2="29.20" y2="181.70" stroke="#111" stroke-width="0.9" />
<text x="25.50" y="184.00" font-size="6.2" font-weight="bold" text-anchor="end" fill="#000" >2</text>
<line x1="26.20" y1="164.45" x2="29.20" y2="164.45" stroke="#111" stroke-width="0.9" />
<text x="25.50" y="166.75" font-size="6.2" font-weight="bold" text-anchor="end" fill="#000" >3</text>
<line x1="26.20" y1="147.20" x2="29.20" y2="147.20" stroke="#111" stroke-width="0.9" />
<text x="25.50" y="149.50" font-size="6.2" font-weight="bold" text-anchor="end" fill="#000" >4</text>
<line x1="43.50" y1="177.39" x2="43.50" y2="164.30" stroke="#111" stroke-width="0.9" />
<line x1="40.30" y1="164.30" x2="46.90" y2="164.30" stroke="#111" stroke-width="0.9" />
<rect x="36.90" y="177.39" width="13.10" height="38.81" fill="#7FD3BB" stroke="#000" stroke-width="1.0" />
<rect x="58.50" y="196.36" width="13.00" height="19.84" fill="#A9A1D1" stroke="#000" stroke-width="1.0" />
<line x1="43.50" y1="216.20" x2="43.50" y2="218.00" stroke="#111" stroke-width="0.8" />
<line x1="65.00" y1="216.20" x2="65.00" y2="218.00" stroke="#111" stroke-width="0.8" />
<line x1="43.40" y1="161.00" x2="65.40" y2="195.50" stroke="#111" stroke-width="0.5" />
<line x1="43.40" y1="170.83" x2="65.40" y2="195.16" stroke="#111" stroke-width="0.5" />
<line x1="43.40" y1="174.80" x2="65.40" y2="196.19" stroke="#111" stroke-width="0.5" />
<line x1="43.40" y1="186.36" x2="65.40" y2="196.71" stroke="#111" stroke-width="0.5" />
<line x1="43.40" y1="191.70" x2="65.40" y2="197.22" stroke="#111" stroke-width="0.5" />
<circle cx="43.40" cy="161.00" r="1.45" fill="#000" />
<circle cx="43.40" cy="170.83" r="1.45" fill="#000" />
<circle cx="43.40" cy="174.80" r="1.45" fill="#000" />
<circle cx="43.40" cy="186.36" r="1.45" fill="#000" />
<circle cx="43.40" cy="191.70" r="1.45" fill="#000" />
<circle cx="65.40" cy="195.50" r="1.45" fill="#000" />
<circle cx="65.40" cy="195.16" r="1.45" fill="#000" />
<circle cx="65.40" cy="196.19" r="1.45" fill="#000" />
<circle cx="65.40" cy="196.71" r="1.45" fill="#000" />
<circle cx="65.40" cy="197.22" r="1.45" fill="#000" />
<line x1="41.80" y1="151.50" x2="71.50" y2="151.50" stroke="#111" stroke-width="0.9" />
<text x="56.90" y="150.60" font-size="6.4" font-weight="bold" text-anchor="middle" fill="#000" style="font-family:DejaVu Sans,sans-serif">★</text>
<text x="39.20" y="225.70" font-size="6.9" font-weight="bold" text-anchor="start" fill="#000" textLength="11.60" lengthAdjust="spacingAndGlyphs" >Ctrl</text>
<text x="60.80" y="224.90" font-size="6.9" font-weight="bold" text-anchor="start" fill="#000" textLength="9.20" lengthAdjust="spacingAndGlyphs" >GL</text>
<text x="15.90" y="179.40" font-size="6.6" font-weight="bold" text-anchor="middle" fill="#000" textLength="85.70" lengthAdjust="spacingAndGlyphs" transform="rotate(-90 15.90 179.40)" >Glucose Stimulation Index</text>
<line x1="29.20" y1="253.00" x2="29.20" y2="324.40" stroke="#111" stroke-width="1.0" />
<line x1="25.80" y1="323.90" x2="79.50" y2="323.90" stroke="#111" stroke-width="1.0" />
<line x1="26.20" y1="323.90" x2="29.20" y2="323.90" stroke="#111" stroke-width="0.9" />
<text x="25.60" y="326.10" font-size="5.9" font-weight="bold" text-anchor="end" fill="#000" >0</text>
<line x1="26.20" y1="309.82" x2="29.20" y2="309.82" stroke="#111" stroke-width="0.9" />
<text x="25.60" y="312.02" font-size="5.9" font-weight="bold" text-anchor="end" fill="#000" >20</text>
<line x1="26.20" y1="295.74" x2="29.20" y2="295.74" stroke="#111" stroke-width="0.9" />
<text x="25.60" y="297.94" font-size="5.9" font-weight="bold" text-anchor="end" fill="#000" >40</text>
<line x1="26.20" y1="281.66" x2="29.20" y2="281.66" stroke="#111" stroke-width="0.9" />
<text x="25.60" y="283.86" font-size="5.9" font-weight="bold" text-anchor="end" fill="#000" >60</text>
<line x1="26.20" y1="267.58" x2="29.20" y2="267.58" stroke="#111" stroke-width="0.9" />
<text x="25.60" y="269.78" font-size="5.9" font-weight="bold" text-anchor="end" fill="#000" >80</text>
<line x1="26.20" y1="253.50" x2="29.20" y2="253.50" stroke="#111" stroke-width="0.9" />
<text x="25.60" y="255.70" font-size="5.9" font-weight="bold" text-anchor="end" fill="#000" >100</text>
<line x1="44.30" y1="269.69" x2="44.30" y2="261.20" stroke="#111" stroke-width="0.9" />
<line x1="40.80" y1="261.20" x2="47.80" y2="261.20" stroke="#111" stroke-width="0.9" />
<line x1="65.80" y1="272.51" x2="65.80" y2="263.90" stroke="#111" stroke-width="0.9" />
<line x1="62.30" y1="263.90" x2="69.30" y2="263.90" stroke="#111" stroke-width="0.9" />
<rect x="37.20" y="269.69" width="13.60" height="54.21" fill="#7FD3BB" stroke="#000" stroke-width="1.0" />
<rect x="59.20" y="272.51" width="13.10" height="51.39" fill="#A9A1D1" stroke="#000" stroke-width="1.0" />
<line x1="44.30" y1="323.90" x2="44.30" y2="325.70" stroke="#111" stroke-width="0.8" />
<line x1="65.80" y1="323.90" x2="65.80" y2="325.70" stroke="#111" stroke-width="0.8" />
<line x1="44.50" y1="259.60" x2="65.80" y2="264.20" stroke="#111" stroke-width="0.5" />
<line x1="44.50" y1="261.50" x2="65.80" y2="265.80" stroke="#111" stroke-width="0.5" />
<line x1="44.50" y1="266.50" x2="65.80" y2="271.20" stroke="#111" stroke-width="0.5" />
<line x1="44.50" y1="267.60" x2="65.80" y2="273.20" stroke="#111" stroke-width="0.5" />
<line x1="44.50" y1="274.20" x2="65.80" y2="277.30" stroke="#111" stroke-width="0.5" />
<line x1="44.50" y1="285.50" x2="65.80" y2="288.80" stroke="#111" stroke-width="0.5" />
<circle cx="44.50" cy="259.60" r="1.45" fill="#000" />
<circle cx="44.50" cy="261.50" r="1.45" fill="#000" />
<circle cx="44.50" cy="266.50" r="1.45" fill="#000" />
<circle cx="44.50" cy="267.60" r="1.45" fill="#000" />
<circle cx="44.50" cy="274.20" r="1.45" fill="#000" />
<circle cx="44.50" cy="285.50" r="1.45" fill="#000" />
<circle cx="65.80" cy="264.20" r="1.45" fill="#000" />
<circle cx="65.80" cy="265.80" r="1.45" fill="#000" />
<circle cx="65.80" cy="271.20" r="1.45" fill="#000" />
<circle cx="65.80" cy="273.20" r="1.45" fill="#000" />
<circle cx="65.80" cy="277.30" r="1.45" fill="#000" />
<circle cx="65.80" cy="288.80" r="1.45" fill="#000" />
<line x1="44.30" y1="253.80" x2="65.80" y2="253.80" stroke="#111" stroke-width="0.9" />
<text x="56.60" y="251.90" font-size="6.4" font-weight="bold" text-anchor="middle" fill="#000" style="font-family:DejaVu Sans,sans-serif">★</text>
<text x="39.20" y="333.80" font-size="6.9" font-weight="bold" text-anchor="start" fill="#000" textLength="11.60" lengthAdjust="spacingAndGlyphs" >Ctrl</text>
<text x="60.80" y="333.10" font-size="6.9" font-weight="bold" text-anchor="start" fill="#000" textLength="9.20" lengthAdjust="spacingAndGlyphs" >GL</text>
<text x="15.40" y="287.20" font-size="6.4" font-weight="bold" text-anchor="middle" fill="#000" textLength="38.50" lengthAdjust="spacingAndGlyphs" transform="rotate(-90 15.40 287.20)" >Viability (%)</text>
<text x="96.60" y="133.40" font-size="14.0" font-weight="bold" text-anchor="start" fill="#000" >E</text>
<text x="171.20" y="147.40" font-size="10.4" font-weight="bold" text-anchor="start" fill="#000" textLength="45.70" lengthAdjust="spacingAndGlyphs" >Cell Type</text>
<line x1="119.60" y1="158.30" x2="119.60" y2="329.20" stroke="#444" stroke-width="0.8" />
<line x1="119.20" y1="328.80" x2="292.60" y2="328.80" stroke="#444" stroke-width="0.8" />
<line x1="118.00" y1="161.20" x2="119.60" y2="161.20" stroke="#444" stroke-width="0.6" />
<text x="115.90" y="163.70" font-size="7.0" font-weight="normal" text-anchor="end" fill="#111" >15</text>
<line x1="118.00" y1="191.70" x2="119.60" y2="191.70" stroke="#444" stroke-width="0.6" />
<text x="115.90" y="194.20" font-size="7.0" font-weight="normal" text-anchor="end" fill="#111" >10</text>
<line x1="118.00" y1="222.20" x2="119.60" y2="222.20" stroke="#444" stroke-width="0.6" />
<text x="115.90" y="224.70" font-size="7.0" font-weight="normal" text-anchor="end" fill="#111" >5</text>
<line x1="118.00" y1="252.70" x2="119.60" y2="252.70" stroke="#444" stroke-width="0.6" />
<text x="115.90" y="255.20" font-size="7.0" font-weight="normal" text-anchor="end" fill="#111" >0</text>
<line x1="118.00" y1="283.20" x2="119.60" y2="283.20" stroke="#444" stroke-width="0.6" />
<text x="115.90" y="285.70" font-size="7.0" font-weight="normal" text-anchor="end" fill="#111" >−5</text>
<line x1="118.00" y1="313.70" x2="119.60" y2="313.70" stroke="#444" stroke-width="0.6" />
<text x="115.90" y="316.20" font-size="7.0" font-weight="normal" text-anchor="end" fill="#111" >−10</text>
<line x1="145.30" y1="328.80" x2="145.30" y2="330.40" stroke="#444" stroke-width="0.6" />
<text x="143.80" y="338.80" font-size="7.0" font-weight="normal" text-anchor="middle" fill="#111" >−10</text>
<line x1="177.60" y1="328.80" x2="177.60" y2="330.40" stroke="#444" stroke-width="0.6" />
<text x="176.10" y="338.80" font-size="7.0" font-weight="normal" text-anchor="middle" fill="#111" >−5</text>
<line x1="209.90" y1="328.80" x2="209.90" y2="330.40" stroke="#444" stroke-width="0.6" />
<text x="209.90" y="338.80" font-size="7.0" font-weight="normal" text-anchor="middle" fill="#111" >0</text>
<line x1="242.20" y1="328.80" x2="242.20" y2="330.40" stroke="#444" stroke-width="0.6" />
<text x="242.20" y="338.80" font-size="7.0" font-weight="normal" text-anchor="middle" fill="#111" >5</text>
<line x1="274.50" y1="328.80" x2="274.50" y2="330.40" stroke="#444" stroke-width="0.6" />
<text x="274.50" y="338.80" font-size="7.0" font-weight="normal" text-anchor="middle" fill="#111" >10</text>
<text x="108.10" y="236.50" font-size="7.4" font-weight="bold" text-anchor="middle" fill="#000" textLength="26.90" lengthAdjust="spacingAndGlyphs" transform="rotate(-90 108.10 236.50)" >UMAP2</text>
<text x="208.20" y="345.50" font-size="7.4" font-weight="bold" text-anchor="middle" fill="#000" textLength="26.50" lengthAdjust="spacingAndGlyphs" >UMAP1</text>
<path d="M240.0,243.8C244.8,242.2 241.7,242.5 247.5,241.2C253.3,239.9 251.3,239.6 257.5,240.0C263.7,240.4 261.2,240.4 266.2,242.5C271.2,244.6 269.2,242.9 272.5,246.2C275.8,249.5 274.5,247.9 276.2,252.5C277.9,257.1 277.2,255.4 277.5,260.0C277.8,264.6 277.8,262.9 277.0,266.2C276.2,269.5 278.2,268.3 275.0,270.0C271.8,271.7 272.5,271.0 267.5,271.2C262.5,271.4 264.2,270.2 260.0,270.5C255.8,270.8 258.3,272.0 255.0,272.0C251.7,272.0 254.2,270.8 250.0,270.5C245.8,270.2 247.1,270.5 242.5,271.2C237.9,271.9 240.4,271.2 236.2,272.5C232.0,273.8 233.3,274.6 230.0,275.0C226.7,275.4 228.1,275.6 226.4,273.6C224.7,271.6 225.8,272.9 225.0,269.0C224.2,265.1 225.0,266.3 224.0,262.0C223.0,257.7 221.3,260.0 222.0,256.0C222.7,252.0 222.3,253.3 226.0,250.0C229.7,246.7 228.3,248.1 233.0,246.0C237.7,243.9 235.2,245.4 240.0,243.8Z" fill="#4682B4" />
<path d="M186.5,249.5C187.0,247.5 186.5,247.2 189.0,246.5C191.5,245.8 190.3,246.7 194.0,247.5C197.7,248.3 195.3,248.5 200.0,249.0C204.7,249.5 202.7,249.5 208.0,249.0C213.3,248.5 210.7,248.2 216.0,247.5C221.3,246.8 218.7,246.8 224.0,247.0C229.3,247.2 229.3,245.0 232.0,248.0C234.7,251.0 234.7,252.3 232.0,256.0C229.3,259.7 230.0,258.3 224.0,259.0C218.0,259.7 220.0,258.7 214.0,258.0C208.0,257.3 211.0,257.5 206.0,257.0C201.0,256.5 203.5,257.1 199.0,256.5C194.5,255.9 196.3,256.6 192.5,255.3C188.7,254.0 189.5,254.4 187.5,252.5C185.5,250.6 186.0,251.5 186.5,249.5Z" fill="#4682B4" />
<path d="M239.6,186.7C241.2,186.1 241.1,185.6 240.3,188.5C239.5,191.4 239.2,191.4 237.2,195.4C235.2,199.4 236.2,196.8 234.4,200.5C232.6,204.2 233.3,202.5 231.8,206.5C230.3,210.5 230.9,208.3 229.8,212.5C228.7,216.7 229.7,214.5 228.6,219.0C227.5,223.5 228.4,221.3 226.5,226.0C224.6,230.7 225.3,228.5 223.0,233.0C220.7,237.5 221.8,235.3 219.5,239.5C217.2,243.7 218.5,242.0 216.0,245.5C213.5,249.0 215.7,248.0 212.0,250.0C208.3,252.0 209.7,251.2 205.0,251.5C200.3,251.8 201.6,251.5 198.0,251.0C194.4,250.5 195.8,251.2 194.2,250.0C192.6,248.8 192.9,250.3 193.3,247.5C193.7,244.7 194.4,246.1 195.4,241.5C196.4,236.9 195.2,238.9 196.2,233.8C197.2,228.7 196.7,231.3 198.5,226.2C200.3,221.1 199.2,223.9 201.5,218.5C203.8,213.1 202.6,215.4 205.4,210.0C208.2,204.6 206.7,206.4 210.0,202.3C213.3,198.2 211.0,200.0 215.4,197.7C219.8,195.4 218.0,196.8 223.1,195.4C228.2,194.0 226.6,195.3 230.8,193.6C235.0,191.9 232.7,192.7 235.6,190.4C238.5,188.1 238.0,187.3 239.6,186.7Z" fill="#CD5C5C" />
<path d="M215.0 225.7h0M228.7 224.7h0M216.6 222.0h0M218.9 235.7h0M222.9 212.9h0M222.8 231.5h0M223.9 237.5h0M222.9 223.6h0M234.3 230.5h0M224.0 215.2h0M221.7 227.4h0M220.8 224.6h0M219.9 232.0h0M225.7 230.5h0M211.1 226.7h0M216.8 221.0h0M215.7 222.2h0M217.7 225.6h0M236.3 234.3h0M231.8 218.0h0M217.7 230.3h0M219.9 228.6h0M227.2 218.6h0M228.2 221.2h0M232.4 227.0h0M224.9 227.8h0M228.9 223.9h0M226.8 227.7h0M224.4 234.1h0M226.3 220.4h0M223.1 231.6h0M230.8 227.4h0M222.0 231.3h0M222.2 228.3h0M225.6 221.9h0M219.5 220.3h0M217.4 239.1h0M221.2 236.6h0M222.0 233.4h0M219.2 232.4h0M231.1 228.1h0M209.8 239.2h0M218.5 234.1h0M231.1 219.6h0M224.0 246.0h0M219.2 232.2h0M226.7 219.5h0M219.8 228.6h0M223.4 234.4h0M215.9 236.6h0M215.0 230.1h0M228.1 226.7h0M218.6 214.4h0M220.5 230.7h0M233.3 222.3h0M219.0 231.0h0M232.5 207.4h0M214.6 245.8h0M230.6 221.6h0M219.2 226.6h0M229.7 237.2h0M215.2 238.2h0M212.9 240.1h0M221.3 220.6h0M218.4 238.8h0M223.4 230.0h0M217.6 215.8h0M221.9 220.3h0M226.1 225.0h0M225.0 228.7h0M220.0 226.0h0M219.8 233.7h0M221.1 223.0h0M208.6 234.7h0M229.0 228.4h0M225.8 215.3h0M221.8 228.0h0M230.1 233.6h0M230.2 205.2h0M227.1 231.1h0M214.3 223.2h0M198.8 248.5h0M224.1 233.3h0M231.3 209.1h0M228.8 213.7h0M234.6 211.1h0M212.4 233.0h0M234.6 221.2h0M211.3 228.7h0M230.3 220.7h0M222.3 218.9h0M220.1 217.7h0M224.1 234.6h0M231.2 230.7h0M226.0 218.1h0M227.6 215.6h0M211.1 226.7h0M224.2 236.2h0M226.5 231.4h0M218.5 224.8h0M225.6 216.5h0M221.8 210.2h0M221.3 227.1h0M213.3 235.7h0M220.0 230.9h0M231.1 222.9h0M210.1 226.6h0M212.9 234.3h0M218.7 234.6h0M235.0 212.0h0M228.2 222.7h0M220.8 220.7h0M221.1 234.8h0M234.1 215.9h0M230.7 206.2h0M218.7 230.3h0M217.6 225.9h0M218.2 234.3h0M222.4 217.5h0M210.5 237.5h0" stroke="#CD5C5C" stroke-width="1.00" stroke-linecap="round" fill="none"/>
<path d="M187.7,241.0C188.2,238.2 187.7,238.3 189.5,236.5C191.3,234.7 191.1,234.9 193.0,235.6C194.9,236.3 194.5,235.7 195.2,238.5C195.9,241.3 195.6,240.9 195.0,244.0C194.4,247.1 195.2,246.6 193.5,247.7C191.8,248.8 191.8,248.3 190.0,247.4C188.2,246.5 188.8,247.1 188.0,245.0C187.2,242.9 187.2,243.8 187.7,241.0Z" fill="#5F9EA0" />
<path d="M236.2,216.5C236.4,213.7 236.1,214.2 238.0,211.0C239.9,207.8 239.0,208.9 242.0,207.0C245.0,205.1 243.5,205.7 247.0,205.3C250.5,204.9 249.2,204.7 252.5,205.8C255.8,206.9 254.7,206.3 257.0,208.5C259.3,210.7 258.5,209.7 259.3,212.5C260.1,215.3 260.2,214.9 259.4,216.8C258.6,218.7 258.6,218.8 257.0,218.2C255.4,217.6 256.7,216.6 254.5,215.0C252.3,213.4 253.3,213.8 250.5,213.3C247.7,212.8 248.7,212.7 246.0,213.6C243.3,214.5 244.5,214.0 242.5,216.0C240.5,218.0 241.7,218.3 240.0,219.5C238.3,220.7 238.6,220.5 237.3,219.5C236.0,218.5 236.0,219.3 236.2,216.5Z" fill="#5F9EA0" />
<path d="M233.0,226.0C235.1,223.9 233.7,224.3 237.0,223.6C240.3,222.9 239.6,223.2 243.0,223.8C246.4,224.4 245.5,223.6 247.3,225.5C249.1,227.4 248.7,226.7 248.3,229.5C247.9,232.3 248.3,231.5 246.0,233.8C243.7,236.1 244.3,234.8 241.5,236.5C238.7,238.2 240.0,238.3 237.5,239.0C235.0,239.7 236.2,239.8 234.0,238.5C231.8,237.2 232.1,237.8 231.0,235.0C229.9,232.2 230.1,233.0 230.8,230.0C231.5,227.0 230.9,228.1 233.0,226.0Z" fill="#87CEEB" />
<path d="M234.5 214.1h0M232.5 214.8h0M232.5 213.9h0M231.2 210.7h0M230.5 219.5h0M233.2 214.7h0M231.5 214.7h0M232.8 212.6h0M232.5 215.2h0M230.3 212.1h0M229.7 211.3h0M234.0 207.4h0M231.4 212.7h0M230.6 214.8h0M234.6 214.7h0M231.7 212.7h0M231.7 217.2h0M231.1 211.1h0M229.1 211.2h0M228.8 217.8h0M232.8 213.8h0M235.4 212.5h0M233.7 216.9h0M228.4 209.8h0M229.9 217.2h0M235.0 210.8h0M234.4 213.4h0M231.1 212.8h0M231.3 209.0h0M229.7 210.8h0M233.1 220.8h0M238.3 213.5h0M228.0 213.3h0M229.8 220.4h0M233.3 212.3h0M234.2 216.1h0M228.3 212.9h0M231.4 214.6h0M232.3 213.5h0M232.4 212.7h0M229.9 219.0h0M232.8 215.8h0M228.3 214.0h0M233.9 210.6h0M234.5 213.3h0M232.9 214.1h0M232.5 218.1h0M231.1 219.2h0M230.2 211.7h0M233.6 211.3h0M231.1 217.2h0M234.8 209.2h0M233.2 220.2h0M234.7 213.8h0M230.6 213.6h0M229.3 213.7h0M231.6 214.1h0M234.7 213.8h0M228.6 217.7h0M229.5 213.2h0M231.7 213.5h0M229.7 213.8h0M237.0 212.7h0M231.7 217.9h0M233.7 216.8h0M234.0 208.6h0M230.0 214.9h0M233.1 218.4h0M233.1 213.8h0M232.1 213.9h0M232.6 216.5h0M231.2 212.1h0M230.0 217.8h0M234.9 217.5h0M234.0 217.0h0M232.0 216.5h0M229.6 213.9h0M230.3 216.7h0M230.7 214.2h0M232.9 218.6h0M230.2 211.7h0M233.9 211.2h0M233.0 212.8h0M231.8 209.0h0M233.6 213.0h0M229.9 220.7h0M233.6 225.0h0M232.9 213.5h0M232.2 219.3h0M231.9 215.9h0M233.2 211.8h0M232.3 213.0h0M229.1 217.1h0M233.5 214.7h0M229.9 208.5h0M233.1 214.2h0M228.1 214.3h0M228.5 214.4h0M232.3 215.6h0M232.5 215.0h0M229.4 213.3h0M230.8 213.8h0M232.6 216.4h0M235.8 206.8h0M232.9 213.9h0M237.2 217.3h0M228.2 215.7h0M230.8 217.5h0M229.6 214.2h0M231.7 214.2h0M230.7 209.0h0M233.1 217.5h0M231.8 211.4h0M232.5 216.2h0M231.6 214.5h0M235.2 211.1h0M230.7 208.8h0M230.4 212.3h0M229.8 212.4h0M236.1 213.9h0M231.7 221.1h0M231.9 209.3h0M232.9 211.7h0M235.8 210.8h0M230.7 209.7h0M232.2 211.5h0M231.8 213.4h0M230.6 217.3h0M234.2 214.7h0M229.9 211.3h0M232.6 221.7h0M230.9 212.1h0M230.4 211.2h0M229.8 213.9h0M235.3 214.5h0M230.8 209.7h0M232.5 214.4h0M229.2 211.2h0M231.9 217.5h0M233.4 215.1h0M231.3 215.5h0M232.0 221.0h0M229.4 213.4h0M234.9 213.7h0M235.3 214.4h0M232.3 213.4h0M228.8 211.6h0M237.1 216.4h0M233.4 217.4h0M233.3 217.6h0M231.4 213.8h0M234.3 213.4h0M228.9 213.8h0M230.7 216.3h0M230.3 211.3h0M231.2 219.2h0M231.9 215.0h0M232.0 215.4h0M234.1 218.7h0M228.2 218.6h0M232.0 213.5h0M237.5 214.0h0M236.5 217.4h0M229.6 216.0h0M233.7 214.1h0M226.6 213.5h0M231.6 211.2h0M236.2 213.8h0M231.1 213.6h0M230.2 212.2h0M232.2 215.4h0M230.8 214.2h0M228.8 216.1h0M230.3 215.1h0M229.9 213.0h0M232.5 210.9h0M237.7 214.4h0M231.8 212.3h0M235.7 218.7h0M232.7 210.4h0M230.8 216.3h0M230.8 210.9h0M229.3 212.2h0M232.0 212.6h0M232.0 222.9h0M236.1 211.4h0M232.8 214.8h0M231.7 217.6h0M231.2 213.5h0M231.1 214.2h0M235.0 216.8h0M228.9 213.2h0M230.2 216.9h0M232.5 217.2h0M231.9 208.8h0M233.0 215.2h0M233.2 210.6h0M232.2 212.4h0M230.4 215.6h0M232.8 211.8h0M228.1 207.1h0M230.7 217.9h0M231.9 207.7h0M230.0 215.8h0M235.8 218.0h0M232.8 215.1h0M229.6 213.1h0M231.2 212.2h0M232.1 213.3h0M232.8 218.8h0M233.7 215.8h0M231.4 209.9h0M231.7 216.1h0M229.7 218.3h0M231.2 215.6h0M231.2 210.7h0M236.8 211.0h0M234.1 212.8h0M232.6 212.1h0M231.0 217.3h0M236.5 212.0h0M232.0 217.3h0M230.5 216.6h0M230.2 216.3h0M233.0 218.1h0M232.8 210.9h0M233.5 211.2h0M233.7 219.0h0M233.4 212.8h0M234.7 215.0h0M229.1 213.4h0M235.3 213.6h0M232.3 213.5h0M228.1 213.0h0M232.8 215.1h0M231.6 208.1h0M234.8 216.7h0M234.4 218.4h0M231.0 212.7h0M232.7 219.5h0M228.1 213.8h0M230.4 216.2h0M235.4 213.6h0M229.1 214.6h0M231.3 209.9h0M234.0 212.9h0M233.6 210.6h0M234.5 210.2h0M234.4 209.1h0M235.2 213.4h0M228.4 213.8h0M232.8 211.5h0M230.9 215.3h0M231.6 205.3h0M231.0 215.8h0M232.7 217.5h0M230.4 222.2h0M233.8 215.4h0M234.5 217.4h0M232.2 212.6h0M234.4 215.8h0M227.6 211.2h0M233.1 214.8h0M232.6 216.4h0M232.3 219.2h0M230.6 213.3h0M232.7 216.7h0M233.8 219.0h0M230.9 218.0h0M233.1 211.4h0M231.7 220.8h0M233.8 213.1h0M226.5 212.3h0M230.4 214.7h0M237.3 216.7h0M232.7 211.7h0M229.3 213.9h0M230.9 223.5h0M231.1 212.7h0M234.6 214.7h0M229.2 218.4h0M231.3 210.5h0M232.7 216.0h0M231.2 216.6h0M233.9 211.9h0M227.3 207.3h0M231.7 218.2h0M234.3 218.7h0M236.3 214.5h0M234.4 209.9h0M233.6 215.7h0M231.8 213.2h0M229.4 214.9h0M234.9 213.4h0M233.2 212.5h0M232.6 211.5h0M232.9 213.8h0M232.7 212.7h0M229.3 213.5h0M234.4 219.2h0M231.3 216.9h0M233.7 215.7h0M228.4 215.5h0M229.8 218.0h0M233.8 216.4h0M226.2 216.4h0M233.6 210.7h0M234.2 214.7h0M231.6 212.4h0M229.7 213.2h0M239.1 215.1h0M232.5 212.6h0M230.6 212.8h0M230.0 217.1h0M231.4 217.1h0M229.3 217.3h0M231.9 216.5h0M231.8 211.8h0M234.8 213.2h0M231.7 211.8h0" stroke="#A9A9A9" stroke-width="1.40" stroke-linecap="round" fill="none"/>
<path d="M231.5 217.8h0M231.7 220.0h0M229.3 214.8h0M232.1 221.8h0M232.7 215.6h0M232.5 220.2h0M231.7 220.3h0M230.2 219.6h0M233.3 217.5h0M227.4 218.7h0M231.5 213.5h0M229.3 220.8h0M230.6 219.3h0M227.9 221.7h0M235.4 218.4h0M229.2 215.5h0M233.2 219.3h0M229.0 222.6h0M232.9 220.8h0M226.6 218.7h0M232.6 215.3h0M233.3 223.3h0M233.6 216.8h0M229.2 221.8h0M233.5 222.7h0M234.0 218.7h0M230.0 213.4h0M233.0 225.8h0M229.8 217.6h0M232.6 220.1h0M227.6 216.9h0M228.3 225.1h0M229.2 221.6h0M235.8 224.7h0M234.6 223.9h0M227.9 218.0h0M229.2 218.1h0M237.6 214.0h0M232.4 215.3h0M234.3 222.9h0M229.7 225.2h0M231.2 222.9h0M231.8 217.3h0M230.0 218.6h0M232.5 219.4h0M236.9 218.4h0M229.8 216.8h0M229.1 214.7h0M228.5 221.7h0M231.2 218.5h0M231.9 222.2h0M232.5 221.3h0M229.6 218.2h0M229.1 218.7h0M229.0 217.9h0M230.6 218.4h0M230.3 217.5h0M234.3 218.0h0M228.5 219.6h0M228.3 215.8h0" stroke="#fff" stroke-width="0.90" stroke-linecap="round" fill="none"/>
<path d="M225.1 214.7h0M203.5 223.3h0M228.5 216.7h0M210.4 230.7h0M213.7 216.6h0M213.2 223.8h0M205.0 230.9h0M214.5 230.1h0M225.9 210.1h0M222.6 216.8h0M220.8 221.1h0M216.4 225.6h0M215.5 235.9h0M213.0 225.7h0M219.3 235.2h0M214.5 225.4h0M210.6 234.9h0M214.8 231.1h0M231.3 221.7h0M221.5 211.7h0M206.5 231.4h0M209.4 241.9h0M213.8 216.5h0M216.6 239.5h0M215.3 237.0h0M216.7 228.0h0M212.4 234.9h0M214.3 230.2h0M227.3 222.1h0M211.0 230.9h0M216.3 226.2h0M221.9 236.0h0M209.6 236.0h0M231.0 224.5h0M213.5 227.5h0M203.4 244.2h0M220.4 225.9h0M222.2 222.6h0M213.8 227.5h0M236.2 215.0h0M211.3 239.9h0M209.6 245.2h0M217.4 230.2h0M220.3 220.8h0M228.2 222.0h0M218.7 223.5h0M224.7 208.3h0M214.5 228.3h0M212.8 235.2h0M219.1 222.5h0M214.3 234.1h0M220.8 213.7h0M207.6 234.3h0M224.5 223.0h0M212.7 235.0h0M224.5 225.6h0M208.6 238.9h0M217.5 245.7h0M210.2 229.1h0M215.7 226.9h0M216.5 222.7h0M207.5 242.6h0M216.9 233.0h0M220.3 222.0h0M209.5 237.5h0M209.7 245.7h0M217.5 228.4h0M208.7 227.7h0M202.8 236.6h0M214.2 226.6h0M214.1 221.0h0M207.5 235.1h0M223.2 219.0h0M209.9 223.2h0M220.3 217.9h0M219.5 227.8h0M219.8 223.5h0M216.7 223.0h0M207.6 229.6h0M226.5 214.9h0M211.1 237.6h0M210.9 239.0h0M215.5 227.4h0M216.3 217.8h0M214.4 216.7h0M214.8 232.7h0M220.0 231.6h0M210.8 229.3h0M207.1 242.1h0M218.7 240.1h0M215.0 221.3h0M220.7 222.7h0M215.0 234.7h0M218.4 231.7h0M217.5 219.2h0M209.5 238.5h0M217.3 239.4h0M214.4 234.3h0M213.0 240.3h0M227.2 217.4h0M218.0 233.2h0M212.2 231.2h0M217.8 228.2h0M209.9 225.2h0M218.7 228.8h0M208.5 228.2h0M218.2 231.0h0M219.8 226.1h0M211.5 230.8h0M214.3 228.7h0M224.6 240.9h0M225.0 215.2h0M213.1 234.4h0M215.2 224.5h0M205.7 227.5h0M211.0 232.2h0M222.2 229.7h0M218.8 232.2h0M217.2 225.3h0M207.1 236.5h0M224.6 221.8h0M223.1 223.9h0M205.2 234.4h0M206.0 234.8h0M212.7 235.7h0M212.6 238.5h0M214.9 233.4h0M212.0 237.4h0M210.1 235.4h0M222.2 230.8h0M220.6 224.8h0M214.2 229.5h0M219.7 220.1h0M215.4 229.5h0M214.1 234.5h0M203.1 235.5h0M219.7 221.4h0M213.0 230.8h0M221.4 226.9h0M225.0 215.4h0M217.7 227.5h0M210.6 234.2h0M217.8 240.3h0M206.1 238.7h0M215.5 226.9h0M212.2 230.4h0M217.8 230.4h0M216.5 226.4h0M210.2 235.0h0M215.4 225.7h0M219.5 221.5h0M223.0 215.6h0M215.3 233.3h0M207.7 239.9h0M210.8 230.7h0M220.9 224.7h0M211.2 234.7h0M215.3 230.4h0M220.4 232.8h0M214.2 218.4h0M220.1 228.8h0M222.4 209.7h0M210.2 240.8h0M222.7 207.8h0M220.9 224.7h0M217.0 224.8h0M211.1 229.6h0M218.0 232.9h0M209.4 235.2h0M213.2 232.4h0M209.9 231.3h0M212.8 240.0h0M214.4 231.6h0M210.1 233.9h0M213.9 238.4h0M221.1 217.4h0M217.3 226.2h0M210.9 231.2h0M217.9 233.2h0M218.5 233.6h0M215.9 221.2h0M211.9 232.7h0M219.1 231.1h0M224.1 223.6h0M208.7 239.8h0M212.9 237.4h0M218.0 210.6h0M208.5 234.2h0M225.3 226.6h0M218.0 217.8h0M210.6 230.5h0M206.2 242.4h0M222.4 224.1h0M218.1 227.3h0M214.8 237.0h0M210.9 234.4h0M218.9 228.6h0M214.1 234.0h0M218.7 222.0h0M220.9 230.8h0M212.1 230.4h0M211.0 225.3h0M213.8 221.7h0M213.7 218.5h0M220.5 228.5h0M203.7 239.3h0M207.0 238.5h0M221.8 215.3h0M225.1 228.6h0M213.4 239.2h0M211.5 225.8h0M211.5 231.6h0M222.6 218.0h0M213.0 234.2h0M212.7 231.9h0M214.9 226.5h0M217.0 229.9h0M216.3 238.3h0M215.9 235.6h0M222.7 219.2h0M211.8 244.2h0M218.5 226.5h0M210.5 237.6h0M222.3 220.9h0M219.6 221.6h0M220.1 220.5h0M206.2 238.0h0M228.0 217.6h0M215.2 222.4h0M221.8 216.3h0M227.4 217.2h0M215.5 235.1h0M218.4 222.1h0M216.0 229.4h0M215.2 213.6h0M218.9 228.4h0M219.9 219.3h0M217.7 220.5h0M232.4 224.1h0M219.5 235.2h0M216.3 230.1h0M207.4 240.0h0M218.4 228.9h0M215.1 229.4h0M214.0 223.1h0M211.3 231.7h0M227.6 214.6h0M210.9 235.4h0M217.7 215.9h0M220.6 229.2h0M220.8 217.5h0M219.8 224.0h0M215.2 231.9h0M220.5 227.0h0M214.5 227.2h0M215.3 229.2h0M215.8 225.1h0M217.3 222.2h0M211.4 237.6h0M211.8 231.6h0M217.2 229.7h0M221.6 225.1h0M217.0 231.7h0M202.5 223.4h0M209.1 244.9h0M212.3 226.6h0M222.4 221.2h0M218.5 234.2h0M219.5 216.9h0M203.5 246.0h0M236.1 213.1h0M206.9 229.5h0M219.2 222.8h0M218.1 230.1h0M216.2 230.8h0M206.3 236.2h0M209.4 236.1h0M218.7 229.9h0M217.2 228.0h0M211.6 221.5h0M225.8 216.2h0M206.0 233.4h0M226.9 217.5h0M218.3 228.7h0M221.5 227.6h0M219.4 221.6h0M217.7 227.5h0M215.9 223.9h0M210.8 231.4h0M220.5 213.5h0M207.8 234.6h0M211.5 232.1h0M221.6 225.6h0M216.7 233.7h0M219.8 222.3h0M222.5 217.7h0M218.4 222.8h0M216.4 231.7h0M210.0 233.6h0M220.4 231.2h0M211.4 230.5h0M210.7 218.1h0M208.8 245.3h0M206.4 238.7h0M215.5 248.1h0M202.8 231.7h0M212.2 236.6h0M218.9 222.7h0M208.3 239.6h0M220.9 227.5h0M213.6 235.8h0M218.7 228.9h0M217.8 220.7h0M217.7 222.7h0M217.9 213.3h0M225.1 221.0h0M212.1 224.8h0M215.4 241.3h0M220.1 218.8h0M219.1 219.6h0M212.2 230.7h0M216.6 219.4h0M215.7 227.2h0M217.7 220.0h0M216.2 219.5h0M219.6 227.2h0M202.4 226.2h0M220.6 220.9h0M230.5 203.1h0M204.9 233.8h0M213.3 250.2h0M213.7 226.7h0M225.3 219.8h0M226.3 226.0h0M223.4 219.5h0M217.9 228.7h0M226.1 221.1h0M207.5 242.7h0M210.5 228.2h0M220.5 225.0h0M208.5 238.9h0M217.8 235.1h0M223.1 219.4h0M207.9 242.7h0M227.0 219.3h0M212.4 218.1h0M219.8 223.9h0M213.7 230.1h0M218.7 231.7h0M228.0 219.2h0M216.1 232.5h0M205.0 234.9h0M218.0 212.8h0M219.6 244.4h0M211.1 239.8h0M226.2 221.4h0M211.3 240.4h0M215.6 228.3h0M211.2 232.9h0M217.4 222.0h0M216.7 217.8h0M214.9 232.3h0M220.3 218.6h0M215.9 231.7h0M223.5 226.8h0M212.5 231.3h0M222.2 231.0h0M220.9 220.2h0M210.4 234.9h0M214.0 239.0h0M206.4 231.2h0M210.2 230.8h0M208.5 222.0h0M207.0 236.4h0M210.4 238.9h0M205.1 243.1h0M205.4 242.5h0M219.6 218.9h0M221.7 226.7h0M223.0 216.9h0M214.7 228.2h0M212.0 229.6h0M203.7 230.2h0M207.7 239.1h0M218.5 221.9h0M213.5 229.3h0M221.0 225.6h0M211.5 229.8h0M228.2 215.6h0M216.1 220.2h0M216.5 241.9h0M216.9 233.8h0M206.8 234.7h0M218.9 220.5h0M230.8 220.5h0M220.5 232.7h0M212.3 227.4h0M212.5 227.7h0M220.1 216.9h0M228.6 229.8h0M220.3 229.8h0M225.3 219.2h0M229.2 198.9h0M217.9 233.9h0M208.0 232.3h0M203.9 253.3h0M212.7 236.1h0M214.8 235.7h0M218.5 224.6h0M212.9 239.7h0M218.0 216.1h0M207.3 242.7h0M224.3 213.6h0M215.6 236.0h0M222.6 233.9h0M227.3 226.5h0M219.1 231.2h0M213.6 223.1h0M215.7 240.2h0M209.5 236.3h0M215.3 237.4h0M216.0 231.2h0M213.8 225.7h0M220.6 222.3h0M214.6 228.8h0M212.0 237.2h0M214.8 222.5h0M219.4 225.5h0M220.1 225.0h0M221.9 228.8h0M208.6 231.7h0M232.2 216.0h0M215.7 228.3h0M212.7 242.6h0M223.8 214.9h0M213.9 237.8h0M217.8 229.7h0M201.3 246.2h0M219.7 213.1h0M218.6 232.6h0M217.1 232.5h0M215.4 243.5h0M209.5 235.0h0M220.8 211.5h0M223.0 227.2h0M208.8 223.1h0M211.5 230.7h0M220.1 221.6h0M210.1 232.8h0M212.5 227.1h0M210.6 229.6h0M220.1 236.7h0M218.3 234.2h0M214.5 223.5h0M214.5 231.8h0M211.2 231.7h0M213.6 227.0h0M222.2 218.6h0M219.9 230.7h0M217.0 228.1h0M215.9 211.9h0M208.3 234.2h0M211.4 231.8h0M217.0 218.9h0M209.5 235.7h0M211.4 223.0h0M217.3 230.1h0M212.5 234.4h0M222.6 220.5h0M222.7 223.1h0M208.0 239.2h0M218.0 245.4h0M221.9 222.7h0M205.4 240.0h0M224.6 217.5h0M219.3 236.3h0M219.2 234.3h0M212.4 217.3h0M216.8 226.4h0M225.3 225.9h0" stroke="#A9A9A9" stroke-width="1.00" stroke-linecap="round" fill="none"/>
<path d="M216.9 228.4h0M221.8 220.4h0M225.5 205.3h0M219.2 228.2h0M223.0 220.9h0M221.9 221.1h0M211.7 229.6h0M216.4 235.2h0M218.8 225.8h0M215.8 242.3h0M220.1 218.8h0M216.7 232.5h0M202.3 245.7h0M213.6 217.6h0M212.9 237.7h0M212.5 221.4h0M215.1 243.7h0M215.9 228.8h0M211.8 230.3h0M223.4 210.2h0M211.2 226.1h0M206.7 235.2h0M216.6 240.0h0M213.7 239.8h0M213.6 236.7h0M214.8 236.5h0M216.6 221.4h0M209.2 233.6h0M222.8 223.8h0M216.3 222.2h0M220.7 230.1h0M219.6 222.9h0M208.6 241.8h0M216.3 224.7h0M219.5 238.7h0M207.4 235.4h0M209.6 230.8h0M212.9 215.4h0M223.3 226.2h0M214.1 227.9h0M219.3 225.3h0M205.6 242.2h0M220.7 235.1h0M215.5 222.2h0M213.5 232.4h0M225.4 228.4h0M219.7 225.9h0M220.9 223.8h0M212.6 239.4h0M217.2 225.5h0M224.0 218.6h0M230.2 222.2h0M220.1 221.1h0M224.8 228.4h0M205.7 243.4h0M220.4 222.5h0M216.0 230.6h0M215.2 225.9h0M212.6 234.5h0M215.6 237.6h0M212.6 235.3h0M210.4 238.1h0M220.6 226.5h0M229.0 219.5h0M217.5 220.4h0M222.7 218.8h0M222.1 211.0h0M221.2 223.1h0M221.0 240.2h0M206.3 237.3h0M212.0 238.1h0M207.2 236.1h0M223.0 228.1h0M215.8 224.1h0M205.9 249.3h0M216.0 245.3h0M217.8 225.9h0M219.7 227.7h0M216.3 226.3h0M220.4 230.4h0M219.2 227.5h0M217.9 226.0h0M220.4 233.8h0M223.2 231.0h0M227.7 220.2h0M215.8 227.7h0M215.3 226.7h0M214.5 225.7h0M214.6 227.6h0M220.9 220.3h0M215.4 228.4h0M211.9 227.1h0M222.6 230.0h0M215.9 235.4h0M207.5 238.1h0M231.1 226.3h0M228.3 228.0h0M231.3 217.5h0M220.4 232.7h0M216.5 219.5h0M217.7 219.4h0M219.2 228.5h0M209.5 221.0h0M218.2 230.8h0M232.2 217.8h0M217.7 229.9h0M226.3 219.8h0M213.1 224.8h0M226.3 214.5h0M218.3 229.8h0M232.7 209.4h0M223.2 222.9h0M211.4 234.4h0M222.3 234.1h0M210.1 239.5h0M214.5 225.8h0M220.1 220.0h0M207.5 246.1h0M215.4 233.7h0M211.2 238.2h0M222.0 222.3h0M210.2 241.0h0M210.7 238.7h0M206.6 245.4h0M214.7 235.0h0M211.8 235.2h0M223.6 216.5h0M224.1 219.9h0M218.4 238.8h0M213.6 234.7h0M200.0 235.9h0M211.3 233.1h0M234.3 221.6h0M213.8 230.9h0M226.9 216.2h0M206.2 239.1h0M212.1 232.3h0M216.6 218.6h0M209.1 227.3h0M220.7 232.4h0M214.8 230.4h0M220.1 227.7h0M209.2 246.2h0M227.9 229.3h0M202.9 241.9h0M214.5 241.2h0M220.3 228.6h0M214.9 240.4h0M226.6 222.8h0M222.5 228.5h0M213.9 231.2h0M204.2 247.2h0M217.7 232.5h0M215.1 230.7h0M213.2 233.3h0M215.9 237.8h0M214.1 223.6h0M223.4 219.3h0M219.1 228.8h0M215.3 232.3h0M207.0 240.4h0M223.5 226.9h0M215.0 236.2h0M216.0 224.5h0M232.4 209.6h0M210.6 228.9h0M223.8 222.9h0M209.0 249.0h0M217.9 229.2h0M222.3 221.0h0" stroke="#fff" stroke-width="0.90" stroke-linecap="round" fill="none"/>
<path d="M218.0 232.6h0M212.8 242.7h0M216.3 231.6h0M209.9 244.2h0M212.0 227.0h0M214.2 229.8h0M219.5 232.4h0M218.6 233.1h0M217.7 223.5h0M211.2 228.9h0M211.7 235.8h0M224.5 225.3h0M210.4 232.5h0M213.0 229.9h0M220.9 228.4h0M226.8 227.9h0M220.4 227.8h0M207.9 222.7h0M213.7 234.3h0M220.0 224.2h0M216.7 226.7h0M220.9 229.6h0" stroke="#FF8C00" stroke-width="0.80" stroke-linecap="round" fill="none"/>
<path d="M216.2 239.4h0M207.7 236.2h0M207.1 224.0h0M212.7 226.0h0M220.4 231.9h0M208.6 239.7h0M217.4 220.2h0M216.5 236.7h0M209.7 227.0h0M219.8 229.6h0M213.7 229.3h0M220.5 223.6h0M227.5 217.6h0M204.5 247.3h0M212.1 226.3h0M211.6 216.7h0M211.2 226.9h0M204.4 243.7h0M212.6 226.7h0M213.4 235.1h0M227.6 217.9h0M226.0 231.7h0M221.9 213.3h0M223.6 212.9h0M219.8 224.4h0M221.4 223.1h0M204.6 248.3h0M219.7 233.2h0M204.5 239.3h0M216.9 213.0h0M224.1 227.0h0M218.2 237.2h0M215.0 249.5h0M221.5 225.1h0M210.9 242.5h0M231.7 204.7h0M216.5 225.1h0M217.6 226.0h0M227.0 220.9h0M228.1 213.1h0M212.9 215.3h0M217.8 219.6h0M210.1 232.6h0M217.8 231.1h0M220.4 223.6h0M219.7 214.6h0M220.3 218.4h0M210.9 234.5h0M211.2 241.7h0M223.9 208.1h0M201.3 243.5h0M221.0 226.9h0M223.2 228.6h0M224.5 229.5h0M210.8 234.0h0M212.5 224.9h0M221.2 237.3h0M213.1 224.3h0M219.9 222.5h0M211.0 240.6h0M211.5 236.7h0M216.4 230.9h0M208.1 235.5h0M223.6 228.3h0M209.9 231.4h0M210.5 238.9h0M218.6 229.1h0M207.4 231.0h0M223.0 218.4h0M219.8 209.9h0M220.7 226.7h0M207.8 213.7h0M214.1 226.5h0M217.9 226.2h0M213.5 239.5h0M206.9 241.9h0M220.0 221.3h0M224.1 217.1h0M220.4 219.2h0M213.3 229.6h0M204.5 226.6h0M218.1 227.7h0M217.0 233.6h0M219.9 219.5h0M214.8 237.2h0M214.2 219.3h0M207.1 233.3h0M220.3 216.9h0M219.4 236.4h0M215.6 231.6h0M215.1 228.8h0M217.1 234.9h0M213.7 228.7h0M226.1 228.6h0M210.3 226.8h0M197.9 248.7h0M215.3 235.4h0M207.1 246.7h0M212.4 226.1h0M203.1 235.6h0M206.4 243.9h0M220.4 219.4h0M209.1 234.1h0M211.5 229.2h0M217.0 221.1h0M205.3 241.5h0M210.2 229.1h0M223.0 224.4h0M202.3 238.2h0M224.0 230.9h0M206.8 233.5h0M220.2 221.8h0M227.1 207.5h0M219.3 216.5h0M207.9 230.8h0M208.1 244.1h0M209.2 216.8h0M205.8 238.3h0M219.4 232.4h0M220.3 222.6h0M216.4 223.8h0M196.3 239.2h0M207.9 248.5h0M218.2 236.0h0M228.1 216.3h0M207.6 233.8h0M223.1 214.0h0M222.8 217.7h0M207.8 242.3h0M214.0 222.3h0M218.3 229.9h0M221.2 222.0h0M227.3 207.5h0M208.6 239.4h0M212.7 224.5h0M212.3 241.0h0M225.2 223.9h0M205.1 242.9h0M212.7 230.1h0M216.2 221.1h0M207.4 217.0h0M212.9 214.8h0M205.1 238.1h0M216.9 234.1h0M221.4 215.5h0M222.3 222.7h0M210.6 236.6h0M215.4 228.1h0M206.6 235.4h0M214.3 236.1h0" stroke="#CD5C5C" stroke-width="1.00" stroke-linecap="round" fill="none"/>
<path d="M231.1 216.6h0M227.0 228.1h0M227.8 226.4h0M228.1 217.1h0M226.7 230.8h0M226.8 223.9h0M229.1 216.0h0M227.9 232.6h0M226.3 220.7h0M228.3 222.6h0M224.9 225.7h0M222.7 228.3h0M223.9 222.1h0M228.8 224.7h0M227.6 231.9h0M230.8 235.5h0M225.5 229.5h0M222.7 228.9h0M230.2 221.2h0M228.1 229.1h0M226.5 221.6h0M230.8 218.2h0M227.4 229.7h0M227.5 232.9h0M230.7 227.2h0M231.4 228.7h0M223.8 223.2h0M227.6 225.8h0M222.6 236.5h0M223.0 219.1h0M228.1 225.9h0M230.8 226.0h0M227.9 228.6h0M225.1 218.3h0M225.8 230.0h0M226.2 231.2h0M225.5 228.7h0M227.0 229.2h0M227.0 225.9h0M225.8 231.2h0M226.9 227.4h0M228.6 220.4h0M224.8 224.7h0M230.2 219.5h0M224.4 219.9h0M226.0 219.5h0M224.9 227.6h0M224.2 224.9h0M224.0 223.9h0M228.3 214.7h0M227.1 226.0h0M226.8 226.2h0M228.0 218.3h0M226.6 228.2h0M230.2 218.0h0M225.4 218.0h0M226.9 219.5h0M224.5 228.8h0M232.6 214.5h0M231.1 220.3h0M228.7 226.7h0M230.1 223.9h0M224.9 224.6h0M229.0 220.4h0M228.0 224.9h0M227.4 225.0h0M228.5 229.0h0M226.2 223.1h0M221.5 220.5h0M223.1 228.3h0" stroke="#87CEEB" stroke-width="1.00" stroke-linecap="round" fill="none"/>
<path d="M224.7 224.4h0M229.6 232.9h0M231.6 223.6h0M228.7 233.3h0M225.4 226.8h0M224.3 224.7h0M230.1 228.4h0M226.8 225.1h0M232.6 231.7h0M224.2 238.9h0M226.7 227.2h0M226.5 225.0h0M229.9 220.6h0M228.1 226.3h0M233.2 229.9h0M229.3 230.6h0M229.8 228.6h0M220.5 230.1h0M227.0 231.5h0M228.9 225.2h0M225.3 222.8h0M228.8 227.4h0M225.3 226.1h0M229.0 224.6h0M227.6 224.9h0M220.1 228.4h0M228.2 232.0h0M231.9 224.3h0M229.8 229.3h0M228.2 232.1h0M230.6 221.6h0M232.4 227.1h0M226.0 224.5h0M227.3 222.3h0M231.3 230.1h0M225.2 232.1h0M228.7 228.4h0M230.9 227.5h0M227.2 230.5h0M222.4 221.9h0M229.5 233.3h0M222.9 228.0h0M226.0 226.5h0M229.8 235.5h0M233.3 232.7h0M229.9 228.7h0M222.3 229.9h0M224.4 222.3h0M228.3 220.0h0M233.3 231.0h0M229.1 230.4h0M228.7 228.3h0M230.1 224.6h0M228.8 228.8h0M230.3 222.4h0M228.7 227.3h0M229.9 230.7h0M228.5 230.3h0M229.3 234.8h0M228.9 230.6h0" stroke="#fff" stroke-width="0.90" stroke-linecap="round" fill="none"/>
<path d="M229.5 220.6h0M232.8 225.9h0M229.4 221.3h0M230.8 221.7h0M230.4 219.7h0M231.2 222.0h0M233.2 217.9h0M229.5 224.8h0M232.2 220.7h0M229.1 225.9h0M229.2 226.2h0M231.8 220.8h0M231.0 224.9h0M231.3 214.1h0M230.0 212.4h0M232.0 225.4h0M233.2 215.8h0M235.3 229.1h0M231.1 213.1h0M229.6 225.9h0M235.2 219.2h0M227.8 217.4h0M234.9 221.4h0M228.6 212.6h0M232.5 224.9h0M230.4 220.6h0M231.4 220.0h0M230.2 219.0h0M230.2 226.6h0M232.0 225.8h0M234.8 211.8h0M231.2 225.5h0M230.9 218.9h0M232.0 219.2h0M229.7 220.2h0M231.4 221.5h0M233.0 221.5h0M230.4 234.3h0M230.8 220.3h0M231.0 218.5h0M228.3 222.3h0M234.1 213.8h0M229.8 223.3h0M230.0 223.7h0M231.2 216.8h0M230.9 219.3h0M232.3 210.8h0M232.1 227.1h0M231.6 222.5h0M230.3 222.9h0M231.0 216.1h0M229.0 211.7h0M232.1 222.2h0M233.4 222.5h0M232.6 215.8h0M227.7 219.1h0M230.7 223.0h0M231.0 220.8h0M231.4 222.5h0M231.7 222.8h0M230.3 221.1h0M228.5 216.8h0M230.8 223.3h0M229.8 215.5h0M233.1 217.9h0M228.0 217.4h0M229.0 211.3h0M230.5 228.6h0M229.9 218.0h0M233.5 221.8h0M231.1 227.2h0M229.0 221.2h0M232.2 222.3h0M229.0 217.5h0M234.7 221.1h0M230.8 226.0h0M227.9 221.2h0M227.9 227.3h0M229.4 221.9h0M229.5 222.0h0M231.9 221.5h0M230.7 222.5h0M230.8 219.3h0M232.5 225.1h0M228.7 217.2h0M229.8 222.7h0M228.6 228.0h0M231.4 222.1h0M232.9 218.3h0M232.0 223.2h0M233.7 217.1h0M233.9 224.0h0M231.8 225.9h0M230.8 220.7h0M232.9 220.0h0M233.3 227.2h0M231.7 222.2h0M230.1 217.6h0M234.0 217.2h0M231.5 222.7h0M229.6 218.6h0M230.0 230.4h0M232.0 227.3h0M235.2 225.7h0M233.8 219.7h0M230.0 227.6h0M234.1 217.2h0M233.5 222.8h0M232.8 225.6h0M234.9 218.9h0M231.3 226.8h0M230.8 223.8h0M231.2 214.4h0M230.3 225.3h0M230.3 215.1h0M230.4 222.0h0M232.3 222.9h0M232.3 217.1h0M230.2 218.3h0M230.5 223.4h0M233.9 220.6h0M233.3 226.2h0M229.2 218.2h0M231.6 215.8h0M234.9 213.7h0M229.0 224.9h0M229.9 224.6h0M229.5 226.0h0M230.2 224.6h0M233.2 215.3h0M229.7 214.3h0M229.2 225.5h0M231.3 225.2h0M234.0 225.9h0M232.7 219.8h0M230.6 223.0h0M233.0 226.2h0M231.9 220.4h0M231.2 228.6h0M231.9 230.0h0M230.0 225.3h0M231.8 224.8h0M229.9 223.0h0M231.2 220.5h0M229.1 215.7h0M230.7 223.9h0M231.9 222.7h0M232.0 216.0h0M233.4 221.9h0M229.9 219.4h0" stroke="#A9A9A9" stroke-width="1.00" stroke-linecap="round" fill="none"/>
<path d="M233.2 223.5h0M227.4 232.1h0M227.8 230.4h0M232.9 218.2h0M233.8 228.3h0M233.4 225.6h0M231.8 223.6h0M229.9 223.9h0M233.9 222.2h0M235.4 215.7h0M231.2 216.0h0M227.2 223.8h0M230.4 220.2h0M228.8 221.6h0M227.5 221.8h0M229.9 217.1h0M232.0 214.3h0M232.0 223.9h0M232.2 223.3h0M232.8 221.5h0M228.7 224.4h0M229.4 221.1h0M231.4 218.5h0M233.2 215.8h0M233.8 222.5h0M234.8 227.7h0M232.6 224.0h0M231.3 216.5h0M229.9 218.5h0M229.5 222.1h0M229.4 223.3h0M230.5 220.6h0M231.9 224.8h0M228.2 221.3h0M237.5 222.7h0M232.1 218.7h0M233.2 229.6h0M232.4 222.1h0M231.2 214.2h0M232.4 221.3h0M232.0 224.4h0M231.6 232.1h0M233.1 219.8h0M232.4 225.5h0M231.2 229.0h0M230.3 214.9h0M228.8 224.4h0M228.9 223.4h0M227.8 224.4h0M230.5 218.6h0M229.9 221.5h0M233.1 223.7h0M230.6 223.4h0M233.0 224.8h0M234.9 219.5h0M232.9 223.2h0M229.7 225.4h0M232.9 227.1h0M232.1 218.8h0M231.5 224.4h0M234.7 223.2h0M231.4 229.7h0M231.2 220.7h0M231.7 226.1h0M231.4 215.2h0M230.2 227.2h0M229.5 226.5h0M231.5 219.1h0M232.8 213.1h0M226.5 215.8h0M232.2 221.5h0M232.5 222.3h0M231.4 220.3h0M230.2 227.1h0M232.8 216.7h0M232.3 231.7h0M232.7 218.5h0M232.7 223.7h0M230.4 227.0h0M233.8 220.4h0M231.4 220.9h0M231.1 229.8h0M230.1 225.2h0M231.7 223.1h0M228.6 225.5h0M228.7 225.9h0M230.9 223.3h0M230.1 218.9h0M228.9 222.7h0M230.9 224.0h0" stroke="#fff" stroke-width="0.90" stroke-linecap="round" fill="none"/>
<path d="M229.9 246.7h0M231.8 244.1h0M230.1 243.6h0M234.1 240.9h0M225.8 245.2h0M233.1 243.8h0M232.3 238.5h0M226.9 243.7h0M231.0 238.8h0M233.2 236.2h0M236.7 239.5h0M228.7 239.5h0M225.2 242.4h0M222.8 242.3h0M231.9 242.5h0M231.1 238.0h0M223.0 238.4h0M235.9 244.9h0M223.2 250.4h0M234.0 247.9h0M235.6 248.8h0M223.7 243.9h0M227.7 251.3h0M234.2 243.6h0M230.0 235.3h0M231.6 240.3h0M237.2 246.6h0M230.8 242.1h0M236.1 241.5h0M236.0 244.5h0M229.9 245.1h0M238.9 237.3h0M234.5 246.6h0M230.0 249.4h0M234.1 245.8h0M226.7 245.9h0M225.4 245.6h0M240.7 240.1h0M238.1 239.4h0M231.5 246.5h0M224.7 244.9h0M227.7 241.2h0M234.9 243.3h0M232.9 243.7h0M232.8 249.8h0M231.7 242.5h0M231.3 246.5h0M233.2 235.2h0M230.8 245.4h0M242.7 241.3h0M229.9 239.1h0M230.8 236.7h0M227.4 243.3h0M224.5 242.6h0M228.1 248.6h0M238.2 252.0h0M231.8 246.3h0M241.7 241.1h0M238.7 240.0h0M235.8 237.5h0M229.4 242.9h0M230.0 235.9h0M231.7 242.5h0M237.8 245.9h0M221.5 244.1h0M235.9 243.2h0M228.0 238.2h0M229.5 239.9h0M229.9 242.3h0M236.8 239.7h0M232.6 239.3h0M232.4 247.7h0M228.6 238.9h0M231.3 243.7h0M228.3 245.3h0M231.5 246.3h0M225.0 246.6h0M236.8 240.4h0M240.0 244.5h0M225.3 239.4h0M227.8 241.0h0M230.1 244.8h0M230.2 242.4h0M226.8 235.5h0M228.0 238.7h0M235.1 234.0h0M236.2 232.3h0M230.3 243.7h0M226.2 239.7h0M235.0 239.3h0M230.7 243.8h0M234.1 238.6h0M237.0 243.0h0M235.7 238.0h0M236.0 243.2h0M234.6 241.1h0M235.0 243.8h0M222.7 253.5h0M228.2 245.5h0M230.3 241.8h0M229.5 247.3h0M235.3 247.3h0M223.8 246.9h0M224.4 252.8h0M232.9 248.1h0M231.1 244.2h0M228.0 251.6h0M229.7 248.0h0M227.5 243.0h0M229.4 243.2h0M228.8 246.2h0M234.1 237.2h0M229.2 238.4h0M235.9 238.6h0M233.2 244.2h0M230.9 235.8h0M238.8 243.0h0M234.2 247.8h0M226.6 239.7h0M238.9 251.4h0M227.4 243.3h0M235.4 243.0h0M237.1 246.0h0M230.8 246.3h0M229.0 248.7h0M228.2 248.9h0M242.4 236.6h0M238.8 237.7h0M230.8 251.0h0M236.0 246.3h0M232.8 244.3h0M233.2 242.8h0M229.9 238.7h0M239.0 243.6h0M239.7 246.6h0M233.2 239.2h0M230.0 243.8h0M230.6 242.4h0M220.9 242.0h0M230.0 241.7h0M229.7 237.4h0M227.3 249.5h0M226.9 241.5h0M227.4 243.0h0M228.8 251.7h0M226.5 249.1h0M229.0 245.4h0M242.6 243.6h0M231.1 232.2h0M229.6 242.7h0" stroke="#fff" stroke-width="1.00" stroke-linecap="round" fill="none"/>
<path d="M231.8 245.6h0M225.7 240.7h0M235.0 243.5h0M231.4 247.5h0M231.7 245.3h0M225.8 244.7h0M222.7 252.1h0M227.3 251.7h0M228.7 244.1h0M237.7 245.6h0M232.1 243.5h0M229.9 241.6h0M227.4 237.2h0M230.5 241.4h0M238.3 253.6h0M240.8 239.7h0M229.4 244.2h0M223.5 251.3h0M234.8 245.9h0M240.9 246.8h0M229.7 245.9h0M228.9 246.7h0M224.7 246.9h0M229.8 242.9h0M229.3 244.2h0M222.5 247.2h0M230.3 252.3h0M231.2 248.7h0M231.1 244.2h0M225.2 242.8h0M228.3 234.5h0M229.8 241.7h0M232.8 249.1h0M229.8 249.7h0M237.5 247.9h0M229.6 245.2h0M239.5 251.3h0M237.0 237.5h0M219.9 252.2h0M234.9 250.4h0M234.2 243.5h0M233.6 244.6h0M238.8 248.3h0M226.5 241.5h0M236.4 248.5h0M232.7 246.2h0M225.0 241.1h0M233.9 237.0h0M233.8 247.2h0M234.6 248.3h0M240.9 246.0h0M227.2 237.6h0M220.0 245.2h0M235.8 237.7h0M232.2 241.7h0M230.0 245.7h0M231.5 239.8h0M235.1 244.2h0M221.9 248.0h0M239.2 243.1h0M239.4 238.1h0M230.1 250.3h0M237.9 247.0h0M236.7 243.0h0M235.0 248.8h0M236.1 246.4h0M235.6 246.6h0M234.4 238.2h0M234.3 240.8h0M229.4 245.0h0M232.6 239.2h0M228.7 245.8h0M229.3 244.9h0M232.5 245.7h0M228.6 245.5h0M234.2 239.4h0M235.3 240.5h0M233.2 247.3h0M234.5 239.8h0M226.7 239.8h0M234.2 245.3h0M222.2 247.9h0M237.3 242.5h0M230.9 245.8h0M226.2 242.9h0M234.1 243.3h0M231.3 245.2h0M239.9 245.9h0M233.0 242.7h0M237.5 245.0h0M231.2 250.3h0M238.1 240.8h0M229.7 250.1h0M228.9 251.4h0M230.5 253.0h0M226.4 236.5h0M224.0 253.1h0M227.6 242.9h0M228.4 241.6h0M232.1 245.3h0M228.1 242.5h0M238.0 248.8h0M236.3 250.0h0M230.3 248.4h0M239.6 241.3h0M238.1 234.4h0M221.7 238.5h0M226.3 240.6h0M228.8 248.2h0M227.6 243.2h0M224.7 238.0h0M230.3 241.6h0M235.7 245.2h0M222.1 247.8h0M225.2 243.0h0M226.0 241.2h0M228.2 239.7h0M227.5 243.5h0M234.8 247.7h0M240.2 237.8h0M229.2 249.8h0M225.5 244.0h0M234.8 251.2h0M234.1 246.0h0M230.4 247.3h0M231.7 246.1h0M228.0 244.1h0M226.8 240.1h0M226.9 241.1h0M227.8 242.2h0" stroke="#A9A9A9" stroke-width="0.90" stroke-linecap="round" fill="none"/>
<path d="M224.6 247.4h0M233.8 252.3h0M220.3 240.5h0M227.3 242.6h0M232.5 242.7h0M228.3 249.1h0M231.2 239.7h0M236.9 255.1h0M237.8 245.5h0M239.0 245.8h0M230.4 247.1h0M238.6 246.6h0M230.6 240.6h0M233.1 241.8h0M231.7 240.6h0M227.8 242.2h0M228.8 241.6h0M238.3 249.2h0M230.5 242.0h0M237.6 245.1h0M235.0 250.1h0M230.1 247.9h0M234.4 244.4h0M231.3 243.6h0M215.2 244.6h0M240.4 250.2h0M245.8 246.4h0M236.6 243.6h0M228.4 242.6h0M234.4 249.2h0M222.6 248.9h0M236.7 249.3h0M225.8 246.9h0M233.8 240.8h0M226.5 254.9h0M228.8 244.1h0M222.4 243.6h0M238.9 247.7h0M227.9 246.3h0M234.0 248.4h0M227.2 247.6h0M228.8 244.1h0M227.9 242.9h0M234.6 239.1h0M233.1 256.9h0M227.7 245.0h0M231.8 252.3h0M225.0 248.3h0M231.6 253.9h0M231.1 254.0h0M227.3 247.5h0M226.6 243.7h0M225.9 244.5h0M239.8 244.0h0M244.4 252.5h0M233.6 246.1h0M233.7 243.1h0M235.1 246.5h0M222.4 246.2h0M235.0 246.3h0M233.7 246.1h0M229.7 250.3h0M239.1 244.9h0M236.1 241.8h0M238.3 242.8h0M232.3 249.9h0M229.6 246.2h0M237.1 243.9h0M233.8 250.4h0M233.4 243.0h0" stroke="#4682B4" stroke-width="1.00" stroke-linecap="round" fill="none"/>
<path d="M228.5 241.3h0M230.1 243.9h0M223.9 241.8h0M230.9 246.5h0M224.3 239.4h0M233.6 241.9h0M234.4 241.9h0M227.5 241.9h0M235.0 244.2h0M230.8 242.5h0M234.3 243.9h0M231.0 244.2h0M230.5 238.8h0M233.6 245.6h0M235.6 241.9h0M225.3 243.3h0M227.8 236.5h0M230.7 239.8h0M230.4 240.6h0M233.3 244.6h0M232.1 245.5h0M228.0 249.0h0M223.3 244.2h0M234.1 240.9h0M230.5 238.5h0M228.3 242.9h0M225.1 236.3h0M228.7 239.6h0M226.3 241.6h0M224.7 245.3h0M234.6 242.1h0M227.8 241.9h0M229.7 239.7h0M227.5 243.3h0M226.5 240.2h0M228.3 239.1h0M231.1 238.3h0M233.7 244.1h0M229.9 244.5h0M234.3 240.9h0M229.8 240.3h0M228.6 240.9h0M230.4 243.5h0M238.6 243.0h0M233.7 241.4h0M236.5 242.4h0M229.4 241.2h0M230.2 240.9h0M230.7 247.2h0M230.3 239.8h0M222.8 241.7h0M226.1 239.8h0M230.6 243.0h0M231.9 245.4h0M226.3 240.1h0M226.6 239.1h0M227.5 239.6h0M232.7 238.9h0M238.5 236.0h0M233.2 237.4h0" stroke="#87CEEB" stroke-width="0.90" stroke-linecap="round" fill="none"/>
<path d="M203.9 243.4h0M206.0 247.7h0M204.2 244.8h0M201.7 244.4h0M202.3 244.8h0M206.3 248.7h0M202.9 241.4h0M204.4 248.5h0M201.5 247.4h0M200.9 243.3h0M206.9 241.8h0M204.2 239.6h0M201.4 247.4h0M203.7 244.7h0M208.2 244.1h0M200.9 245.4h0M205.6 246.8h0M205.1 249.4h0M208.3 246.1h0M215.9 242.5h0M206.9 244.5h0M215.2 247.1h0M209.4 247.4h0M212.2 245.0h0M209.8 242.1h0M208.3 249.3h0M209.6 247.9h0M197.7 246.6h0M204.4 250.2h0M208.2 248.1h0M211.5 247.7h0M199.9 244.4h0M196.7 249.5h0M205.0 243.2h0M208.0 245.3h0M204.5 249.7h0M196.9 242.7h0M205.4 245.8h0M210.7 245.5h0M208.1 250.7h0M199.9 242.8h0M202.7 245.9h0M201.0 247.0h0M202.5 249.2h0M208.0 248.1h0M206.8 246.9h0M198.7 245.8h0M198.1 249.7h0M200.9 244.1h0M203.8 251.9h0M201.0 250.6h0M206.4 252.9h0M204.8 245.0h0M205.7 245.0h0M202.7 248.2h0M203.8 248.6h0M208.4 248.7h0M212.7 249.1h0M201.7 249.8h0M195.0 249.6h0M211.1 243.7h0M211.4 241.7h0M210.2 245.4h0M204.6 246.0h0M203.4 248.2h0M205.6 246.3h0M206.0 245.5h0M201.4 247.9h0M209.5 243.4h0M210.0 249.6h0M206.6 250.1h0M196.4 249.9h0M202.6 247.2h0M201.8 252.6h0M204.1 248.1h0M199.5 245.7h0M207.7 246.1h0M202.6 250.2h0M199.1 246.6h0M205.1 245.5h0M208.7 247.0h0M205.1 248.1h0M205.5 247.7h0M211.4 247.0h0M206.1 245.0h0M212.0 248.8h0M208.2 247.2h0M202.2 246.6h0M207.2 243.5h0M201.7 246.1h0M214.2 247.3h0M199.5 249.6h0M209.8 248.2h0M203.5 246.1h0M215.4 249.2h0M225.9 241.8h0M199.0 245.3h0M201.9 244.7h0M209.0 249.8h0M199.6 247.9h0M209.6 247.1h0M211.8 249.4h0M202.3 246.8h0M207.1 243.4h0M204.9 249.0h0M207.6 246.5h0M217.2 248.0h0M210.1 244.2h0M211.2 245.3h0M205.1 245.4h0M200.3 247.9h0M200.5 248.5h0M202.4 249.7h0M207.4 249.4h0M201.1 247.9h0M209.2 247.2h0M205.4 245.0h0M191.7 247.7h0M200.3 243.8h0M207.5 239.7h0M202.6 248.2h0M206.0 245.9h0M202.5 246.9h0M199.2 245.0h0M209.4 244.1h0M205.3 245.5h0M200.4 241.4h0M202.1 244.5h0M201.4 246.3h0M207.3 248.1h0M207.5 243.5h0M212.0 247.4h0M209.2 243.2h0M210.7 252.3h0M208.2 249.3h0M203.4 246.9h0M205.7 248.2h0M206.6 247.2h0M201.9 243.4h0M205.9 252.9h0M201.6 247.8h0M211.8 244.8h0M198.7 247.4h0M205.8 244.3h0M212.6 248.3h0M205.9 243.0h0M211.5 249.4h0M209.6 250.6h0M201.4 243.9h0M209.8 247.6h0" stroke="#fff" stroke-width="1.00" stroke-linecap="round" fill="none"/>
<path d="M205.7 245.8h0M211.0 247.6h0M210.2 244.2h0M206.3 248.0h0M211.0 242.9h0M205.0 245.4h0M206.0 246.6h0M208.1 248.9h0M207.3 246.8h0M210.3 250.4h0M206.3 245.0h0M214.7 249.3h0M216.7 246.0h0M204.1 246.6h0M205.6 243.4h0M210.1 243.3h0M192.3 246.9h0M200.7 247.6h0M200.3 243.7h0M195.9 243.9h0M204.6 252.3h0M209.3 245.4h0M212.7 247.6h0M196.7 242.7h0M198.5 245.6h0M206.2 245.5h0M203.3 244.7h0M206.8 249.0h0M200.7 250.1h0M201.8 246.3h0M214.3 248.5h0M206.2 242.2h0M206.4 246.1h0M204.9 249.7h0M203.3 251.5h0M206.2 247.4h0M204.5 247.2h0M212.7 247.6h0M201.0 245.1h0M211.8 248.4h0M201.8 246.7h0M206.5 248.4h0M201.2 247.3h0M199.6 245.1h0M204.9 250.4h0M205.6 251.1h0M207.9 250.2h0M205.2 242.5h0M195.2 245.9h0M214.8 246.6h0M203.5 248.5h0M204.2 246.1h0M207.0 248.0h0M203.1 245.0h0M214.0 244.9h0M201.5 246.5h0M205.3 247.7h0M213.8 250.3h0M205.8 247.3h0M210.9 246.7h0M206.8 244.3h0M208.0 246.8h0M198.9 247.6h0M217.0 247.9h0M202.0 250.2h0M207.8 247.5h0M213.5 249.3h0M216.4 245.0h0M203.9 246.8h0M207.0 244.1h0" stroke="#FF8C00" stroke-width="0.90" stroke-linecap="round" fill="none"/>
<path d="M206.4 243.5h0M202.2 246.4h0M206.3 247.8h0M201.2 247.9h0M206.5 246.8h0M205.1 245.7h0M214.0 250.4h0M206.3 250.3h0M200.7 245.7h0M203.4 248.1h0M203.4 244.7h0M197.6 244.3h0M209.7 248.2h0M198.0 251.6h0M202.6 245.9h0M204.2 247.1h0M203.1 246.9h0M208.9 249.3h0M201.6 246.6h0M201.3 245.9h0M204.5 246.2h0M208.0 244.7h0M206.9 248.8h0M203.4 246.2h0M208.0 246.1h0M203.4 247.5h0M192.7 248.7h0M206.2 248.4h0M198.2 246.0h0M207.2 248.4h0M202.1 245.9h0M212.6 247.7h0M211.1 243.7h0M207.1 245.6h0M202.5 250.1h0M199.8 244.7h0M201.6 246.4h0M205.2 248.0h0M211.2 248.2h0M213.8 249.6h0M207.7 246.6h0M211.8 246.3h0M209.9 247.1h0M202.2 248.6h0M208.4 247.8h0M210.4 247.3h0M201.4 247.2h0M214.3 244.6h0M196.0 247.0h0M199.9 250.3h0M205.8 244.7h0M204.7 244.7h0M207.4 249.3h0M211.0 249.6h0M204.9 249.9h0M207.4 243.9h0M211.8 244.8h0M202.1 243.2h0M200.9 241.8h0M198.9 244.9h0" stroke="#A9A9A9" stroke-width="0.90" stroke-linecap="round" fill="none"/>
<path d="M221.1 253.1h0M229.3 253.4h0M227.8 258.4h0M223.5 259.8h0M225.8 254.3h0M227.5 259.3h0M221.0 257.8h0M224.0 254.8h0M221.8 245.5h0M230.9 257.2h0M221.6 251.3h0M221.0 254.4h0M234.5 254.0h0M218.9 257.1h0M222.2 248.8h0M227.6 254.5h0M226.7 257.0h0M230.0 247.1h0M226.7 258.6h0M231.2 250.8h0M218.4 250.5h0M227.6 253.8h0M229.4 253.9h0M220.7 250.5h0M225.0 257.5h0M232.2 250.9h0M227.8 254.3h0M221.2 250.3h0M232.5 252.9h0M225.6 256.1h0M227.5 257.0h0M222.7 253.1h0M227.1 255.7h0M223.0 248.4h0M229.6 257.5h0M229.9 254.1h0M218.5 253.1h0M234.4 255.6h0M227.0 248.7h0M223.3 258.0h0M227.4 254.0h0M231.2 257.0h0M228.3 253.9h0M227.8 258.2h0M227.3 250.0h0M225.3 253.5h0M227.7 259.0h0M225.7 252.9h0M229.1 256.2h0M222.8 256.2h0M226.8 255.7h0M219.6 247.4h0M219.7 248.5h0M230.1 258.1h0M220.6 259.7h0M221.3 251.6h0M235.0 249.9h0M228.9 257.4h0M230.6 256.9h0M227.1 260.0h0M225.7 254.9h0M227.7 253.3h0M225.4 258.8h0M232.8 256.7h0M225.6 252.7h0M224.4 253.2h0M224.2 254.2h0M225.1 258.4h0M220.1 253.1h0M229.4 253.1h0M224.3 256.5h0M225.7 251.1h0M226.7 256.8h0M219.0 257.8h0M218.9 257.0h0M220.5 255.3h0M225.9 258.2h0M225.7 253.0h0M222.9 255.3h0M225.0 257.7h0M227.8 259.0h0M229.0 255.2h0M225.8 256.8h0M229.2 249.8h0M227.7 253.3h0M227.4 257.4h0M218.1 254.1h0M230.2 248.3h0M227.0 254.6h0M223.7 257.8h0M229.9 254.6h0M231.9 259.8h0M226.9 257.6h0M229.7 260.7h0M229.4 257.0h0M226.6 257.2h0M232.6 254.3h0M225.7 251.1h0M236.8 253.2h0M224.0 252.6h0M231.0 255.9h0M217.7 255.1h0M233.7 254.4h0M226.6 264.9h0M225.1 253.8h0M228.8 263.3h0M228.0 248.8h0M225.5 253.8h0M229.3 253.3h0M226.7 250.1h0M220.9 254.8h0M233.0 251.2h0M219.5 258.8h0M227.8 257.5h0M225.4 255.5h0M225.8 254.6h0M233.6 253.2h0M224.5 254.7h0M225.4 260.7h0M225.5 256.0h0M221.0 256.6h0M228.9 257.0h0M219.5 252.4h0M215.2 260.6h0M225.7 260.5h0M234.2 258.3h0M223.5 253.9h0M229.5 247.7h0M232.0 259.9h0M229.8 253.6h0M227.7 248.9h0M222.2 253.0h0M223.0 260.6h0M228.1 246.0h0M231.0 256.4h0M225.2 252.1h0M234.8 255.5h0M227.3 248.9h0M223.8 257.9h0M226.7 253.0h0M224.9 248.9h0M215.9 256.6h0M220.1 249.0h0M227.5 258.0h0M224.7 258.6h0M226.3 243.4h0M233.0 250.7h0M232.8 253.6h0M225.9 252.9h0M221.9 256.8h0M233.1 259.3h0M223.8 256.4h0M230.5 256.7h0M220.7 262.0h0M223.0 251.6h0M226.7 255.5h0M223.8 249.9h0M221.0 254.6h0M218.3 258.7h0M228.9 255.4h0M227.0 251.5h0M223.8 257.8h0M224.0 260.3h0M230.4 257.1h0M225.1 251.3h0M225.5 251.2h0M224.6 253.3h0M223.8 258.7h0M222.4 251.9h0M231.1 255.5h0" stroke="#FF8C00" stroke-width="0.90" stroke-linecap="round" fill="none"/>
<path d="M229.2 252.0h0M228.2 261.7h0M226.3 257.3h0M233.5 258.1h0M233.6 249.2h0M215.7 249.6h0M228.7 251.8h0M214.1 264.2h0M234.0 252.5h0M222.2 251.7h0M230.5 257.4h0M227.0 262.0h0M221.3 249.2h0M226.2 254.9h0M226.8 257.2h0M216.9 263.1h0M215.5 256.8h0M228.3 259.3h0M227.5 251.0h0M225.0 248.3h0M225.2 254.0h0M214.9 266.1h0M222.6 257.9h0M234.0 255.0h0M223.7 249.6h0M221.7 251.5h0M225.2 259.1h0M227.3 262.6h0M228.6 256.3h0M207.8 254.3h0M227.7 247.7h0M225.8 251.6h0M224.9 254.9h0M224.5 254.8h0M228.3 256.7h0M222.2 259.7h0M226.5 257.0h0M236.6 263.5h0M239.2 254.0h0M228.6 257.5h0M226.8 254.4h0M231.2 260.8h0M239.3 252.5h0M228.9 251.4h0M224.5 243.3h0M238.9 247.2h0M226.8 246.2h0M224.1 250.0h0M213.6 249.9h0M224.8 254.5h0M214.5 258.3h0M224.2 249.5h0M235.2 251.6h0M227.5 262.7h0M226.5 254.6h0M231.9 253.0h0M226.5 254.4h0M223.8 258.9h0M227.8 262.2h0M228.5 248.1h0M228.5 253.7h0M224.6 259.9h0M228.6 247.1h0M238.2 254.4h0M216.3 253.4h0M229.0 249.5h0M220.9 246.2h0M227.7 252.5h0M235.2 256.5h0M227.6 252.0h0M232.0 248.2h0M227.8 257.5h0M221.4 249.2h0M233.0 264.2h0M228.4 264.2h0M228.9 254.2h0M223.7 249.0h0M231.6 252.3h0M222.3 256.9h0M229.0 251.4h0M227.3 254.3h0M226.9 254.4h0M223.6 242.9h0M222.5 261.0h0M224.1 255.9h0M229.7 250.1h0M226.5 253.7h0M228.3 258.1h0M226.5 254.0h0M231.8 255.7h0M217.2 261.3h0M228.8 252.1h0M225.7 250.3h0M226.9 247.7h0M232.1 257.4h0M220.1 257.6h0M217.4 252.4h0M220.1 258.5h0M230.2 248.3h0M227.1 257.6h0M224.0 267.2h0M216.6 261.7h0M235.1 253.3h0M219.3 261.1h0M211.2 254.9h0M217.5 254.9h0M222.6 248.5h0M229.4 260.8h0M217.8 258.3h0M226.6 251.6h0M222.8 257.8h0M232.8 253.6h0M211.2 259.0h0M228.4 245.3h0M222.9 254.9h0M224.3 256.5h0M220.7 258.2h0M209.5 256.8h0M222.5 254.4h0M229.9 261.8h0" stroke="#fff" stroke-width="0.80" stroke-linecap="round" fill="none"/>
<path d="M228.8 259.5h0M228.8 260.2h0M231.9 254.0h0M243.8 261.8h0M236.0 266.6h0M224.5 262.0h0M247.2 258.2h0M229.8 256.0h0M244.6 265.3h0M238.2 264.6h0M231.3 258.0h0M241.7 255.2h0M237.5 259.8h0M230.0 261.0h0M227.0 256.7h0M222.0 253.6h0M229.7 261.7h0M236.0 253.6h0M234.1 271.2h0M236.4 262.0h0M221.1 257.4h0M243.9 252.7h0M229.6 256.2h0M234.9 262.9h0M223.6 263.3h0M217.4 255.3h0M238.7 254.0h0M229.9 257.2h0M247.0 254.8h0M242.6 269.7h0M233.1 255.8h0M235.8 254.8h0M233.1 254.4h0M225.3 251.7h0M242.2 256.4h0M227.6 265.2h0M234.4 258.1h0M230.3 259.8h0M233.5 257.6h0M234.4 263.6h0M234.3 266.3h0M242.5 254.6h0M228.8 253.3h0M230.3 263.3h0M233.2 257.2h0M236.3 248.7h0M237.9 258.8h0M240.3 258.2h0M242.6 265.1h0M233.5 262.6h0M229.2 256.1h0M227.8 258.6h0M227.0 254.2h0M234.0 252.3h0M239.7 255.0h0M233.8 258.1h0M242.7 262.7h0M233.8 256.7h0M241.6 259.0h0M228.1 260.3h0M240.0 259.5h0M235.9 267.1h0M231.8 263.5h0M246.6 268.2h0M227.4 262.3h0M236.5 271.7h0M244.5 264.8h0M243.9 262.5h0M228.2 270.9h0M223.6 263.6h0" stroke="#FF8C00" stroke-width="0.80" stroke-linecap="round" fill="none"/>
<path d="M240.3 258.7h0M241.7 257.6h0M240.5 258.9h0M231.2 262.6h0M232.2 260.9h0M229.3 258.9h0M239.0 263.5h0M229.1 255.0h0M235.6 252.5h0M239.3 269.6h0M239.8 260.9h0M230.6 260.6h0M238.9 267.6h0M233.6 264.0h0M233.5 256.3h0M233.1 259.1h0M226.6 255.9h0M244.7 248.6h0M241.0 261.6h0M233.1 253.8h0M242.6 256.0h0M237.5 256.6h0M228.9 263.0h0M239.7 253.0h0M242.4 251.4h0M227.9 262.1h0M233.1 257.7h0M245.3 252.3h0M239.4 255.7h0M236.3 256.6h0M230.9 258.0h0M230.1 257.8h0M229.9 256.4h0M236.5 250.7h0M235.3 261.3h0M236.4 262.4h0M229.7 260.7h0M237.6 243.9h0M235.6 262.2h0M235.3 257.9h0M234.9 257.0h0M229.4 254.3h0M222.4 268.3h0M235.6 258.9h0M239.5 260.3h0M235.2 249.8h0M228.5 266.2h0M238.2 261.1h0M229.3 255.3h0M237.3 253.8h0" stroke="#fff" stroke-width="0.70" stroke-linecap="round" fill="none"/>
<path d="M205.4,255.6C202.7,259.5 205.0,259.1 203.4,265.4C201.8,271.7 203.3,269.3 200.6,274.4C197.9,279.5 199.7,277.1 195.4,280.8C191.1,284.5 192.3,282.3 187.7,285.4C183.1,288.5 184.8,286.4 181.5,290.0C178.2,293.6 179.2,291.6 177.7,296.2C176.2,300.8 176.4,298.7 176.9,303.8C177.4,308.9 176.9,306.9 179.2,311.5C181.5,316.1 180.2,314.5 183.8,317.7C187.4,320.9 185.9,320.0 190.0,321.1C194.1,322.2 192.4,322.2 196.2,321.1C200.0,320.0 198.2,320.9 201.5,317.7C204.8,314.5 203.9,316.1 206.2,311.5C208.5,306.9 207.6,308.9 208.5,303.8C209.4,298.7 209.1,301.3 208.9,296.2C208.7,291.1 208.2,293.6 208.0,288.5C207.8,283.4 207.4,286.5 208.2,280.8C209.0,275.1 208.6,277.2 210.4,271.5C212.2,265.8 211.7,268.5 213.6,263.8C215.5,259.1 216.7,260.7 216.0,257.4C215.3,254.1 215.0,254.4 211.5,253.8C208.0,253.2 208.1,251.7 205.4,255.6Z" fill="#FF8C00" />
<path d="M216.0,281.0C217.0,280.8 217.1,281.3 217.8,284.0C218.5,286.7 218.4,285.8 218.2,289.0C218.0,292.2 218.1,291.7 217.2,293.5C216.3,295.3 216.5,295.6 215.6,294.4C214.7,293.2 214.9,293.3 214.6,290.0C214.3,286.7 214.3,287.5 214.8,284.5C215.3,281.5 215.0,281.2 216.0,281.0Z" fill="#FF8C00" />
<path d="M209.6 264.1h0M206.5 260.5h0M204.0 277.7h0M206.0 268.7h0M203.2 273.9h0M202.4 280.6h0M205.5 265.9h0M207.6 255.3h0M205.8 269.6h0M203.8 259.7h0M203.5 265.8h0M201.8 273.2h0M209.4 264.9h0M207.4 261.4h0M210.4 262.0h0M203.6 268.2h0M198.9 286.4h0M205.4 266.9h0M203.3 267.5h0M204.8 265.4h0M208.8 265.2h0M207.5 264.6h0M209.1 264.0h0M203.6 266.4h0M209.1 266.6h0M203.7 267.1h0M203.4 270.0h0M203.3 270.4h0M206.7 272.5h0M208.4 271.6h0M207.6 278.3h0M203.5 273.7h0M204.1 266.8h0M206.6 263.2h0M206.3 268.2h0M208.8 275.0h0M206.1 263.9h0M205.4 263.6h0M203.7 268.2h0M202.9 265.7h0M207.6 265.0h0M203.7 264.6h0M208.8 264.0h0M211.9 258.3h0M202.5 272.3h0M208.9 268.0h0M202.1 265.7h0M204.6 263.4h0M205.6 264.3h0M205.1 269.6h0M207.9 256.4h0M209.6 250.8h0M206.4 265.8h0M199.7 282.2h0M207.0 278.6h0M206.8 265.4h0M203.7 279.9h0M205.5 267.5h0M204.2 267.8h0M209.0 262.9h0M207.7 270.2h0M210.3 271.2h0M210.1 262.7h0M210.9 270.6h0M202.7 278.7h0M208.0 260.4h0M205.9 272.7h0M206.2 265.5h0M198.8 279.0h0M203.8 270.8h0M205.5 263.6h0M207.6 262.9h0M210.4 258.4h0M204.8 277.0h0M204.1 269.9h0M208.1 266.2h0M205.3 267.3h0M213.2 264.8h0M205.8 265.6h0M205.8 262.1h0M203.7 269.4h0M205.4 280.3h0M204.2 261.4h0M207.1 262.1h0M204.1 266.7h0M205.6 262.7h0M207.3 263.6h0M204.3 270.7h0M206.8 270.5h0M207.7 270.4h0M199.5 277.7h0M210.7 275.9h0M207.3 277.1h0M203.4 272.7h0M204.9 264.5h0M206.6 269.7h0M206.4 258.8h0M207.3 269.2h0M207.3 262.9h0M203.8 268.0h0M199.1 275.8h0M203.7 276.1h0M208.7 265.5h0M208.6 261.5h0M201.1 277.2h0M205.6 263.2h0M206.5 269.2h0M209.9 260.8h0M206.7 261.4h0M206.0 267.0h0M206.3 256.5h0M200.7 274.3h0M206.5 261.2h0M207.8 261.3h0M206.1 275.2h0M206.6 264.9h0M200.4 271.0h0M209.8 271.3h0M202.9 273.9h0M206.7 260.4h0M204.2 272.8h0M199.5 274.7h0M209.3 269.6h0M206.8 258.9h0M207.2 267.2h0M205.6 280.0h0M208.0 270.7h0M199.0 276.6h0M205.2 265.3h0M207.1 272.6h0M203.6 265.9h0M205.1 267.6h0M200.2 278.2h0M204.1 273.2h0M204.2 284.0h0M208.4 264.4h0M203.0 274.4h0M211.8 260.0h0M210.9 266.2h0M205.8 265.8h0M207.2 267.9h0M207.0 262.6h0M208.2 272.1h0M201.7 283.1h0M204.6 278.5h0M204.6 269.7h0M203.6 274.6h0M209.1 257.6h0M207.2 267.7h0M204.4 275.5h0M203.8 273.0h0M205.7 268.3h0M204.5 267.9h0M203.4 274.0h0M199.2 271.4h0M207.1 261.8h0M207.4 269.1h0M204.5 278.2h0M208.7 258.3h0M201.9 267.6h0M199.0 282.6h0M208.4 256.8h0M201.4 264.0h0M199.1 270.7h0M198.7 273.4h0M202.4 276.2h0M203.6 265.1h0M210.8 258.7h0M204.5 279.0h0M203.4 267.3h0M206.8 279.9h0M209.4 269.2h0M204.9 267.6h0M203.2 274.2h0M206.6 272.9h0M202.6 273.8h0M206.2 270.8h0M209.0 267.1h0M203.9 276.4h0M202.2 274.5h0M204.6 279.5h0M209.5 265.9h0M210.4 266.9h0M203.2 266.4h0M206.2 262.7h0M206.9 273.0h0M209.3 260.1h0M208.9 273.2h0M207.6 272.1h0M205.1 274.4h0M203.5 278.4h0M207.8 255.0h0M204.7 268.7h0M206.3 269.9h0M205.7 272.3h0M204.2 272.6h0M208.1 264.2h0M201.1 269.5h0M204.8 276.5h0M207.6 271.7h0M209.2 265.9h0M202.1 277.8h0M202.8 268.2h0M205.2 260.3h0M213.4 258.4h0M210.4 267.1h0M206.6 257.5h0M205.0 273.4h0M208.4 263.3h0M208.9 271.4h0M205.7 273.4h0M207.4 267.3h0M207.6 264.5h0M207.8 262.8h0M203.2 264.2h0M206.3 264.4h0M205.8 265.2h0M202.6 280.8h0M205.4 275.1h0M206.3 275.5h0M205.0 275.0h0M208.3 268.7h0M204.9 268.8h0M204.6 272.2h0M205.2 266.1h0M205.2 272.5h0M207.8 259.1h0M203.5 274.6h0M202.9 277.3h0M204.8 267.2h0M205.4 277.3h0M202.3 278.7h0M205.3 271.9h0M208.2 275.7h0M205.1 268.6h0M201.5 276.0h0M203.1 281.8h0M208.3 270.0h0M204.7 266.7h0M208.6 269.1h0M206.0 278.0h0M208.5 271.7h0M209.3 261.1h0M206.2 269.6h0M210.6 258.0h0M200.9 284.3h0M206.7 266.1h0M206.0 268.3h0M203.7 273.0h0M204.2 276.9h0M210.0 275.5h0M203.8 279.2h0M199.3 280.4h0M203.7 265.4h0M207.9 260.4h0M203.8 269.9h0M208.8 260.2h0M197.6 271.9h0M201.1 270.5h0M205.2 274.8h0" stroke="#FF8C00" stroke-width="1.00" stroke-linecap="round" fill="none"/>
<path d="M191.2 264.0h0M203.7 267.5h0M189.6 259.2h0M192.2 279.9h0M195.5 262.0h0M188.3 263.9h0M193.0 270.1h0M194.8 275.8h0M188.5 257.6h0M192.8 272.2h0M191.2 270.0h0M192.8 276.1h0M192.3 265.0h0M194.8 275.0h0M190.8 267.4h0M190.6 260.4h0M201.5 264.0h0M192.0 265.8h0M190.2 267.2h0M192.8 270.7h0M191.2 258.5h0M192.6 273.0h0M197.4 267.6h0M192.1 263.0h0M198.2 264.0h0M191.3 267.8h0M192.3 268.6h0M194.5 279.8h0M194.8 271.1h0M188.0 283.4h0M194.9 274.2h0M192.0 267.6h0M191.8 267.0h0M191.7 273.6h0M196.8 267.9h0M192.0 274.0h0M192.4 272.0h0M190.8 277.8h0M191.5 272.0h0M199.0 270.9h0M192.2 273.3h0M198.3 252.9h0M191.7 267.2h0M196.1 257.8h0M195.9 268.6h0M195.0 261.2h0M197.5 286.1h0M193.5 272.3h0M189.5 248.6h0M192.8 266.6h0M195.4 268.6h0M188.5 252.8h0M196.9 274.9h0M192.6 266.5h0M195.5 264.5h0" stroke="#FF8C00" stroke-width="0.80" stroke-linecap="round" fill="none"/>
<path d="M210.3 280.8h0M210.1 269.4h0M214.8 275.5h0M214.5 282.5h0M212.9 262.0h0M209.5 256.9h0M213.9 262.2h0M212.3 272.9h0M213.2 272.0h0M214.8 274.5h0M214.5 271.6h0M212.6 273.3h0M213.4 277.6h0M211.7 276.5h0M217.5 253.5h0M213.7 271.4h0M212.1 268.0h0M210.4 273.9h0M211.2 283.2h0M213.1 284.4h0M212.8 262.2h0M213.3 273.6h0M214.1 255.4h0M212.7 282.4h0M212.7 257.9h0M213.3 275.6h0M215.1 276.1h0M210.8 280.4h0M213.8 280.6h0M212.2 279.4h0M208.8 262.8h0M213.6 283.4h0M213.6 273.4h0M212.3 269.2h0M214.5 259.7h0M213.0 282.8h0M209.6 256.5h0M210.8 272.2h0M213.5 268.2h0M214.0 268.6h0M209.6 279.3h0M212.5 267.5h0M209.6 254.4h0M210.6 277.2h0M210.9 262.7h0M211.1 276.3h0M213.6 280.8h0M211.0 282.8h0M215.4 275.2h0M214.4 283.9h0M213.2 266.1h0M213.5 274.8h0M213.8 290.7h0M212.6 270.6h0M214.8 272.5h0M210.3 274.5h0M214.4 260.8h0M215.6 285.8h0M210.5 274.0h0M213.3 276.2h0" stroke="#FF8C00" stroke-width="0.80" stroke-linecap="round" fill="none"/>
<path d="M191.6 286.2h0M186.3 283.4h0M189.7 285.4h0M200.0 286.8h0M184.9 285.2h0M199.8 290.3h0M198.7 284.4h0M194.0 284.7h0M184.5 284.3h0M188.2 280.3h0M189.4 282.9h0M188.9 286.3h0M184.8 284.4h0M192.0 285.0h0M191.6 284.4h0M182.2 277.8h0M187.2 282.9h0M185.5 281.8h0M188.1 289.3h0M189.7 286.6h0M193.6 284.6h0M195.0 282.4h0M189.2 280.5h0M189.5 286.8h0M185.7 283.9h0M188.9 283.9h0M188.1 285.0h0M183.9 284.5h0M198.6 280.8h0M194.3 282.0h0M187.3 289.6h0M193.6 286.0h0M198.5 286.1h0M189.7 277.2h0M193.7 289.3h0M188.0 280.4h0M181.5 285.9h0M178.1 285.2h0M194.3 282.7h0M184.9 283.2h0M198.0 280.6h0M186.1 285.7h0M187.0 288.0h0M186.5 280.4h0M182.6 283.4h0M195.7 284.1h0M187.2 279.5h0M191.4 282.0h0M201.8 280.5h0M183.3 280.2h0M191.1 285.8h0M191.3 287.6h0M193.6 282.3h0M198.6 281.7h0M191.2 284.2h0M195.9 284.0h0M191.8 278.1h0M189.7 284.5h0M197.7 278.8h0M184.1 286.6h0" stroke="#FF8C00" stroke-width="0.80" stroke-linecap="round" fill="none"/>
<path d="M180.8 296.4h0M175.5 291.6h0M177.6 293.8h0M178.6 298.7h0M179.0 293.7h0M177.2 295.6h0M178.5 297.5h0M177.5 298.7h0M178.9 295.3h0M178.3 300.1h0M178.8 295.3h0M177.6 298.5h0M178.5 296.4h0M177.1 295.4h0M178.2 300.5h0M176.5 296.4h0M176.9 292.6h0M180.8 292.8h0M179.5 298.7h0M178.6 296.2h0M178.0 297.3h0M178.5 297.5h0M178.8 291.9h0M176.5 296.0h0M178.0 292.7h0M179.2 297.3h0M178.4 298.7h0M178.8 295.8h0M177.3 299.0h0M177.4 294.2h0M176.9 297.8h0M178.3 295.7h0M179.2 294.0h0M179.0 294.8h0M177.8 295.6h0M178.3 299.6h0M177.3 298.7h0M179.5 295.7h0M177.2 293.2h0M177.9 303.3h0" stroke="#FF8C00" stroke-width="0.90" stroke-linecap="round" fill="none"/>
<path d="M178.4 297.2h0M177.8 297.7h0M178.7 298.5h0M180.2 298.6h0M177.8 296.8h0M177.5 296.4h0M177.4 298.8h0M176.8 297.9h0M178.6 294.7h0M179.2 299.0h0M180.0 296.6h0M179.1 297.3h0M179.7 297.0h0M179.4 295.5h0" stroke="#48D1CC" stroke-width="1.00" stroke-linecap="round" fill="none"/>
<path d="M238,234 L228.5,240 L222.3,248.8 L216.5,257 L211.5,265.5" fill="none" stroke="#87CEEB" stroke-width="2.4" stroke-linecap="round" stroke-linejoin="round"/>
<path d="M218.6 254.0h0M224.0 250.2h0M225.4 248.2h0M223.9 251.1h0M218.3 253.9h0M211.6 262.5h0M223.9 249.4h0M229.7 242.8h0M224.5 247.3h0M217.1 257.9h0M232.4 241.6h0M235.2 236.6h0M225.8 247.2h0M214.3 262.3h0M232.4 243.6h0M235.5 238.8h0M220.0 256.4h0M233.6 241.1h0M219.3 258.7h0M234.5 241.3h0M239.9 233.7h0M230.8 241.4h0M217.4 258.4h0M214.5 262.3h0M221.1 257.1h0M229.0 250.2h0M222.8 256.5h0M222.3 251.8h0M233.2 240.1h0M218.6 258.6h0M222.4 254.4h0M225.8 251.7h0M235.8 240.3h0M237.8 236.5h0M231.6 241.5h0M221.6 255.3h0M235.0 236.2h0M225.4 251.6h0M229.9 244.1h0M230.6 242.8h0M224.1 249.3h0M233.3 239.2h0M237.4 235.6h0M230.9 240.6h0M220.3 251.7h0M211.8 262.1h0M225.9 252.5h0M226.5 251.0h0M226.3 249.1h0M228.3 246.6h0M216.6 258.4h0M220.1 255.9h0M218.1 255.1h0M232.2 241.7h0M213.4 264.7h0M233.6 238.4h0M231.6 244.9h0M217.2 255.4h0M224.9 253.0h0M216.0 262.2h0" stroke="#87CEEB" stroke-width="0.90" stroke-linecap="round" fill="none"/>
<path d="M173.1,253.9C173.1,252.9 170.6,253.6 166.2,253.1C161.8,252.6 163.3,252.8 160.0,252.3C156.7,251.8 159.3,251.2 156.2,251.6C153.1,252.0 155.2,252.7 150.8,253.6C146.4,254.5 147.7,253.8 143.1,254.4C138.5,255.0 140.5,254.0 136.9,255.4C133.3,256.8 135.0,255.4 132.3,258.5C129.6,261.6 130.2,260.8 128.7,264.6C127.2,268.4 127.6,266.1 127.8,270.0C128.0,273.9 128.0,272.4 129.2,276.2C130.4,280.0 129.8,279.0 131.3,281.5C132.8,284.0 131.9,283.6 133.6,283.6C135.3,283.6 134.4,283.3 136.5,281.5C138.6,279.7 137.0,281.3 140.0,278.3C143.0,275.3 142.3,276.2 145.4,272.6C148.5,269.0 146.4,270.7 149.2,267.5C152.0,264.3 150.2,266.1 153.8,263.1C157.4,260.1 155.9,260.8 160.0,258.5C164.1,256.2 161.8,257.6 166.2,256.1C170.6,254.6 173.1,254.9 173.1,253.9Z" fill="#48D1CC" />
<path d="M184.7 252.4h0M182.7 253.6h0M182.2 253.8h0M182.7 252.2h0M173.6 254.7h0M173.6 254.5h0M181.5 253.1h0M181.1 252.9h0M176.2 253.8h0M179.3 252.7h0M180.4 252.5h0M178.2 253.3h0M177.9 252.3h0M183.5 252.3h0M181.2 253.4h0M183.5 252.7h0M172.3 253.4h0M179.2 253.7h0M173.4 254.6h0M175.3 254.1h0M184.7 252.1h0M180.9 252.9h0M178.1 252.9h0M172.2 253.8h0M181.5 253.2h0M182.2 252.8h0M181.2 253.5h0M177.8 253.2h0M176.7 253.9h0M180.9 252.9h0" stroke="#48D1CC" stroke-width="0.80" stroke-linecap="round" fill="none"/>
<path d="M148.6,208.0C148.8,205.2 148.2,206.0 149.5,203.5C150.8,201.0 150.0,201.9 152.5,200.6C155.0,199.3 153.5,200.0 157.0,199.7C160.5,199.4 159.3,199.5 163.0,199.8C166.7,200.1 165.3,199.4 168.0,200.5C170.7,201.6 169.8,200.5 171.0,203.0C172.2,205.5 171.8,204.7 171.5,208.0C171.2,211.3 171.5,210.3 170.0,213.0C168.5,215.7 169.3,214.3 167.0,216.0C164.7,217.7 165.8,216.9 163.0,218.0C160.2,219.1 161.5,219.1 158.5,219.2C155.5,219.3 156.7,219.6 154.0,218.4C151.3,217.2 152.2,217.6 150.5,215.5C148.8,213.4 149.4,214.5 148.8,212.0C148.2,209.5 148.4,210.8 148.6,208.0Z" fill="#FFD700" />
<path d="M165.9 220.0h0M162.5 221.4h0M166.9 214.7h0M165.6 221.9h0M170.4 215.1h0M163.6 225.2h0M163.6 223.6h0M162.9 217.8h0M167.5 219.7h0M162.7 221.6h0M168.6 221.2h0M171.5 217.3h0M169.9 222.5h0M167.8 223.9h0M164.8 220.6h0M162.0 219.2h0M163.6 224.7h0M164.3 222.6h0M165.3 229.1h0M163.4 218.5h0M167.2 215.8h0M165.6 218.3h0M163.3 220.8h0M170.9 224.4h0M167.7 223.0h0M166.8 219.3h0M166.0 221.1h0M167.2 224.3h0M162.5 217.2h0M169.3 217.9h0M168.7 230.6h0M168.3 222.5h0M165.2 222.1h0M167.9 231.3h0M167.8 221.0h0M169.8 221.5h0M169.0 222.4h0M166.1 224.0h0M165.1 219.4h0M165.3 221.8h0M164.5 224.0h0M166.4 222.4h0M164.6 222.2h0M167.3 220.5h0M164.9 222.4h0M166.1 219.6h0M167.7 222.9h0M170.5 217.8h0M162.1 222.4h0M170.5 224.6h0M165.6 219.1h0M166.3 219.9h0M163.4 221.8h0M163.7 220.5h0M163.6 220.8h0M166.8 221.7h0M166.2 218.1h0M161.7 221.1h0M165.4 223.6h0M161.9 224.4h0M165.2 218.0h0M163.9 220.0h0M169.0 220.0h0M166.3 218.6h0M161.9 219.1h0M161.2 220.4h0M164.9 227.1h0M164.2 225.0h0M167.1 224.1h0M166.0 221.0h0M166.7 225.2h0M163.3 217.4h0M163.9 216.8h0M164.3 220.4h0M163.5 220.8h0M168.6 221.6h0M168.4 220.9h0M165.7 217.0h0M168.7 222.4h0M169.3 221.2h0M163.8 228.1h0M162.6 215.0h0M167.5 218.0h0M162.4 222.3h0M163.3 227.2h0M171.0 228.4h0M164.0 224.4h0M163.8 219.8h0M164.8 220.8h0M166.3 220.4h0M169.1 217.0h0M166.5 216.3h0M166.8 225.3h0M169.5 223.5h0M165.9 219.4h0M164.4 222.0h0M163.5 217.2h0M168.8 223.1h0M166.7 220.1h0M167.2 220.1h0M166.6 221.6h0M165.6 219.4h0M167.3 218.9h0M169.7 224.4h0M164.9 223.0h0M167.7 221.6h0M162.5 222.4h0M164.6 220.8h0M170.9 221.6h0M161.8 223.8h0M168.3 218.9h0M165.4 219.2h0M166.2 225.2h0M172.4 220.8h0M165.9 226.0h0M164.9 224.4h0M163.8 231.8h0M163.3 223.9h0M169.8 224.7h0M169.7 224.6h0" stroke="#FFD700" stroke-width="1.00" stroke-linecap="round" fill="none"/>
<path d="M166.3 225.6h0M167.7 226.7h0M166.8 226.1h0M170.7 232.3h0M165.5 221.2h0M169.0 232.9h0M167.9 231.0h0M169.5 233.4h0M170.4 229.4h0M169.8 235.2h0M167.6 229.4h0M167.7 226.8h0M170.6 233.7h0M170.2 234.8h0M168.9 230.1h0M168.0 228.4h0M167.2 229.3h0M168.9 234.5h0M166.4 230.1h0M168.2 231.1h0M169.4 231.2h0M165.7 225.3h0M165.9 225.3h0M166.3 225.2h0M169.2 234.1h0M168.7 233.4h0M165.8 223.7h0M166.7 229.3h0M166.4 224.6h0M167.8 232.3h0M165.3 226.5h0M169.3 236.2h0M166.1 225.9h0M167.2 229.6h0M169.3 233.8h0M169.2 231.1h0M166.3 227.1h0M168.4 229.0h0M170.3 233.0h0M167.7 227.6h0M169.2 234.2h0M170.1 234.5h0M168.6 232.7h0M167.7 231.4h0M169.8 231.8h0M165.5 224.9h0M169.2 230.4h0M165.6 223.0h0M167.9 229.7h0M170.7 235.0h0M169.0 232.3h0M168.9 236.0h0M166.1 226.3h0M164.4 222.4h0M169.8 235.2h0M165.3 223.8h0M167.4 226.8h0M165.7 224.0h0M169.4 235.9h0M169.1 227.7h0M165.4 225.4h0M166.6 227.9h0M164.9 222.9h0M167.2 228.4h0M168.7 230.9h0M166.2 225.0h0M168.4 230.2h0M166.2 222.8h0M169.6 234.4h0M164.9 224.8h0M167.8 230.1h0M166.6 225.3h0M170.7 235.5h0M165.1 221.8h0M167.9 231.4h0M169.5 230.3h0M170.3 233.9h0M169.8 234.2h0M171.8 233.1h0M166.1 224.8h0M164.7 225.4h0M169.5 233.3h0M168.2 229.9h0M166.0 224.9h0M171.3 235.5h0M166.0 227.6h0M169.0 226.8h0M164.8 224.9h0M167.6 226.2h0M169.4 231.8h0M169.2 233.2h0M165.9 227.0h0M166.3 225.1h0M169.0 233.5h0M167.4 230.5h0M168.1 229.5h0M166.8 225.7h0M166.6 224.7h0M167.5 227.6h0M165.6 224.4h0M167.4 226.7h0M165.9 226.3h0M167.4 226.7h0M167.5 234.2h0M167.9 231.3h0M167.3 226.4h0M168.0 229.2h0M165.8 222.0h0M169.5 231.7h0M166.1 223.8h0M168.8 229.0h0M167.6 228.7h0M170.7 234.6h0M166.4 227.1h0M167.3 227.3h0M165.9 226.8h0M166.7 225.8h0M166.3 223.8h0M169.3 231.7h0M169.3 231.9h0M170.7 235.6h0M168.8 235.4h0M166.7 226.9h0M168.8 230.7h0M169.4 233.8h0M169.4 232.6h0M170.1 229.9h0M168.6 232.2h0M165.4 225.9h0M170.9 233.9h0" stroke="#FFD700" stroke-width="1.00" stroke-linecap="round" fill="none"/>
<path d="M173.7 241.9h0M171.8 235.5h0M176.2 245.8h0M171.4 238.9h0M177.4 246.3h0M175.0 243.5h0M172.8 239.5h0M171.3 237.9h0M172.4 239.2h0M170.8 237.4h0M171.6 238.0h0M170.9 236.9h0M175.7 244.5h0M170.8 236.3h0M175.4 243.9h0M171.7 237.7h0M175.6 243.5h0M172.9 240.9h0M174.0 243.3h0M173.7 240.2h0M171.9 239.1h0M176.9 246.2h0M173.1 240.6h0M175.1 243.7h0M174.2 240.3h0M171.5 236.2h0M176.0 245.9h0M173.0 240.8h0M170.9 237.5h0M177.4 246.4h0M171.6 238.1h0M176.1 245.0h0M173.0 239.2h0M170.7 236.4h0M171.5 237.0h0M171.4 238.0h0M171.6 240.0h0M173.5 242.9h0M176.6 246.1h0M175.9 244.1h0M175.0 243.7h0M176.7 245.9h0M174.1 242.2h0M174.6 242.9h0M173.7 242.1h0M170.6 236.5h0M176.5 245.8h0M173.3 240.5h0M173.3 241.2h0M171.2 237.2h0M171.7 237.3h0M170.1 235.6h0M174.3 244.6h0M175.7 243.1h0M172.0 239.2h0M174.2 243.3h0M173.2 240.6h0M175.1 244.2h0M174.0 242.3h0M176.7 244.8h0M175.0 242.3h0M174.0 242.1h0M172.8 240.4h0M172.2 238.4h0M173.6 240.0h0M176.7 246.1h0M175.0 243.1h0M171.7 237.6h0M176.9 246.2h0M171.3 236.7h0M172.2 239.4h0M172.5 239.7h0M170.2 237.1h0M175.3 244.4h0M170.8 236.9h0M175.7 245.5h0M173.0 238.9h0M173.2 240.7h0M172.3 238.7h0M173.8 240.3h0" stroke="#FFD700" stroke-width="0.90" stroke-linecap="round" fill="none"/>
<path d="M170.2 227.7h0M168.0 230.8h0M170.0 220.9h0M175.2 224.8h0M171.0 231.4h0M177.0 223.3h0M176.1 220.1h0M176.9 226.8h0M172.1 232.0h0M173.5 219.0h0M173.2 229.6h0M175.6 232.3h0M170.7 221.1h0M166.5 224.0h0M169.9 226.7h0M177.8 224.0h0M167.5 226.1h0M172.7 228.8h0M176.9 228.0h0M173.1 223.1h0M173.3 230.0h0M170.8 232.6h0M172.0 229.1h0M166.3 230.5h0M171.6 224.1h0M172.7 227.0h0M169.5 220.9h0M173.4 228.8h0M172.7 225.0h0M171.2 218.5h0M170.3 223.1h0M171.5 217.0h0M167.4 224.0h0M165.5 220.5h0M177.1 225.0h0M170.2 226.2h0M168.3 226.3h0M170.3 221.8h0M172.1 228.7h0M172.0 220.8h0M172.3 223.4h0M170.4 226.7h0M173.5 229.3h0M170.7 235.8h0M175.3 229.0h0M178.1 230.6h0M177.5 230.8h0M170.7 229.5h0M176.0 229.2h0M176.7 228.6h0M169.3 225.3h0M168.8 220.9h0M179.1 229.5h0M176.4 221.0h0M174.8 224.3h0M174.6 229.1h0M176.6 223.0h0M176.5 230.2h0M173.4 221.8h0M167.8 219.5h0" stroke="#FFD700" stroke-width="0.80" stroke-linecap="round" fill="none"/>
<path d="M176.7 249.3h0M176.7 243.0h0M184.3 244.1h0M185.0 250.9h0M181.1 248.7h0M187.3 246.0h0M187.1 245.9h0M183.8 249.8h0M182.3 245.5h0M185.3 250.3h0M178.9 250.6h0M184.0 247.0h0M188.7 242.5h0M179.6 241.7h0M183.8 248.1h0M177.3 248.1h0M178.4 247.1h0M191.5 250.7h0M183.3 250.0h0M186.3 236.9h0M180.0 249.2h0M185.5 242.1h0M185.1 247.9h0M182.8 246.3h0M190.8 249.3h0M186.8 239.5h0M181.8 249.5h0M184.2 245.5h0M179.5 247.6h0M182.8 239.9h0M193.4 245.6h0M176.0 240.4h0M180.8 244.4h0M179.8 245.8h0M189.1 242.1h0M187.6 249.5h0M178.8 240.6h0M186.2 250.2h0M186.3 248.7h0M180.6 248.9h0M179.0 248.6h0M186.8 249.1h0M188.5 248.8h0M187.5 247.0h0M190.0 246.2h0" stroke="#FFD700" stroke-width="0.80" stroke-linecap="round" fill="none"/>
<path d="M187.7 247.7h0M174.6 251.2h0M180.1 248.4h0M176.5 253.6h0M182.6 253.9h0M178.4 251.8h0M175.5 247.7h0M184.4 253.5h0M181.0 255.1h0M176.7 255.8h0M179.7 249.8h0M175.7 255.8h0M175.5 255.9h0M187.4 243.0h0M180.1 245.8h0M177.9 250.2h0M178.9 253.0h0M182.6 243.3h0M174.2 245.0h0M173.5 252.4h0M179.5 250.5h0M169.9 248.8h0M169.2 250.1h0M177.1 252.0h0M182.9 253.6h0M179.1 251.8h0M175.2 259.1h0M181.0 245.9h0M180.6 254.7h0M176.5 254.8h0M178.7 255.5h0M180.4 246.8h0M181.2 255.1h0M170.7 246.3h0M182.1 245.9h0M171.2 250.3h0M177.7 249.1h0M178.2 251.3h0M175.8 243.9h0M178.9 249.0h0" stroke="#FF8C00" stroke-width="0.80" stroke-linecap="round" fill="none"/>
<path d="M177.4 179.5h0M175.3 184.8h0M178.9 175.5h0M176.9 176.1h0M174.6 184.5h0M177.1 180.1h0M176.2 180.5h0M177.4 177.4h0M174.8 183.7h0M173.8 187.5h0M177.4 177.3h0M175.8 181.1h0M174.4 185.8h0M176.8 180.7h0M174.1 186.8h0M177.7 176.6h0M177.3 177.8h0M175.1 183.7h0M174.4 186.5h0M177.7 175.7h0M174.1 187.1h0M177.7 174.8h0M177.8 175.2h0M175.6 184.6h0M176.2 180.5h0M176.3 179.6h0M178.3 176.4h0M174.7 186.3h0M177.8 176.9h0M174.6 185.4h0M177.5 176.4h0M175.2 187.0h0M176.2 179.7h0M177.9 176.9h0M176.5 180.9h0M175.0 185.6h0M177.2 176.8h0M174.6 186.5h0M176.4 180.1h0M176.4 180.2h0M175.0 184.9h0M174.6 186.5h0M176.2 181.2h0M174.3 186.5h0M177.7 178.8h0M177.4 179.2h0M175.7 182.6h0M176.3 179.6h0M175.0 183.8h0M174.2 186.9h0M174.5 184.1h0M175.9 179.5h0M174.7 186.0h0M176.8 181.1h0M176.8 178.8h0M177.0 178.0h0M177.4 177.6h0M177.3 175.6h0M178.7 173.6h0M177.6 177.4h0" stroke="#7B68EE" stroke-width="0.80" stroke-linecap="round" fill="none"/>
<path d="M169.0 197.3h0M170.1 193.6h0M170.5 192.6h0M173.3 189.1h0M171.1 191.8h0M168.1 199.0h0M174.0 187.5h0M171.4 191.1h0M172.5 188.9h0M170.7 191.4h0M168.9 196.7h0M170.5 192.4h0M168.8 196.3h0M170.0 194.8h0M173.0 189.8h0M167.6 198.8h0M171.9 190.0h0M167.3 198.1h0M173.1 189.1h0M173.5 188.5h0M171.4 193.4h0M169.9 194.8h0M170.8 192.8h0M173.6 187.5h0M168.7 196.2h0M170.4 194.3h0M169.8 195.3h0M173.4 187.9h0M172.4 189.2h0M173.2 189.9h0M168.6 198.3h0M170.2 194.1h0M172.4 192.1h0M167.6 197.8h0M169.9 196.9h0M171.5 191.8h0M173.7 188.3h0M170.7 192.4h0M170.9 191.6h0M172.3 190.1h0M169.5 195.1h0M172.0 190.8h0M170.0 194.8h0M172.7 190.6h0M168.3 197.3h0M169.4 196.9h0M169.5 195.6h0M170.3 194.6h0M173.7 189.0h0M173.4 188.2h0" stroke="#7B68EE" stroke-width="0.80" stroke-linecap="round" fill="none"/>
<path d="M180.6 173.0h0M181.8 170.3h0M178.7 169.9h0M176.5 171.9h0M180.9 171.1h0M179.6 171.6h0M181.0 172.5h0M177.0 174.2h0M178.4 172.6h0M177.7 172.4h0M183.8 172.1h0M179.5 173.0h0M179.4 170.8h0M178.7 170.3h0M179.7 169.5h0M181.4 171.1h0M177.5 169.4h0M179.4 170.0h0M181.9 169.0h0M179.5 170.3h0M179.2 171.5h0M180.4 169.7h0M178.6 171.1h0M179.4 169.7h0M176.9 171.0h0M178.8 171.3h0M178.5 170.4h0M179.1 167.8h0M179.5 171.0h0M179.3 170.7h0M181.8 167.5h0M177.9 169.5h0M178.2 169.7h0M177.4 170.0h0M180.3 169.5h0M180.5 171.8h0M180.8 170.9h0M176.4 170.3h0M175.5 168.2h0M180.5 166.3h0" stroke="#7B68EE" stroke-width="0.84" stroke-linecap="round" fill="none"/>
<path d="M184.1 181.3h0M183.5 179.0h0M183.6 180.1h0M181.3 172.0h0M182.0 174.6h0M184.3 180.3h0M181.5 173.8h0M181.3 175.4h0M184.4 181.6h0M183.8 180.1h0M184.5 182.0h0M184.2 181.0h0M184.0 177.8h0M184.6 180.8h0M182.3 175.8h0M183.5 180.2h0M184.3 179.6h0M184.3 181.3h0M183.0 177.4h0M184.5 181.0h0M183.1 177.8h0M184.2 182.0h0M183.6 180.6h0M183.7 179.7h0M182.0 174.9h0M184.0 180.3h0M181.2 173.6h0M183.4 178.4h0M182.5 175.2h0M183.1 179.9h0" stroke="#7B68EE" stroke-width="0.80" stroke-linecap="round" fill="none"/>
<path d="M227.3 193.4h0M223.9 192.2h0M225.0 193.7h0M224.5 192.4h0M222.3 191.4h0M222.6 190.9h0M224.5 192.2h0M226.2 193.4h0M224.1 194.1h0M225.1 192.3h0" stroke="#7B68EE" stroke-width="0.90" stroke-linecap="round" fill="none"/>
<path d="M156.5 238.4h0M147.7 233.3h0M152.8 235.7h0M154.3 237.1h0M156.2 238.1h0M146.5 233.2h0M157.4 238.6h0M153.4 236.5h0M147.3 233.4h0M149.7 234.3h0M149.8 234.7h0M158.8 239.7h0M158.6 239.2h0M153.2 235.9h0M151.0 235.1h0M150.5 234.9h0M155.9 238.4h0M158.3 238.5h0M154.5 237.0h0M149.9 233.7h0M152.4 235.8h0M153.4 236.0h0M147.3 233.6h0M153.5 237.2h0M147.3 233.0h0M149.4 234.2h0M156.2 238.5h0M154.2 237.4h0M158.5 238.9h0M152.4 235.9h0M149.3 234.4h0M156.1 237.7h0M152.2 236.3h0M158.7 238.8h0M151.1 235.0h0M153.9 236.2h0M152.6 235.2h0M152.9 236.7h0M157.4 238.1h0M148.3 233.3h0M155.7 237.7h0M149.4 234.3h0M150.4 235.0h0M149.2 234.8h0M156.0 237.8h0M157.5 238.3h0M155.7 237.7h0M150.1 235.2h0M147.5 233.6h0M146.4 232.7h0" stroke="#FF6347" stroke-width="1.00" stroke-linecap="round" fill="none"/>
<path d="M153.8 235.7h0M155.7 237.4h0M155.1 237.0h0M154.9 236.2h0M155.9 238.3h0M154.8 236.8h0M154.0 236.2h0M156.0 238.2h0M154.2 236.2h0M154.7 236.3h0M154.0 235.2h0M153.8 235.4h0M155.8 237.5h0M154.7 237.2h0" stroke="#FF6347" stroke-width="0.90" stroke-linecap="round" fill="none"/>
<path d="M273.9 188.2h0M276.2 190.1h0M274.3 188.8h0M275.3 189.5h0M276.4 190.2h0M276.6 190.1h0M276.6 190.9h0M279.1 192.4h0M277.8 191.3h0M275.7 190.0h0M277.3 191.5h0M277.3 191.1h0M276.1 189.3h0M275.8 190.1h0M278.0 191.1h0M275.6 189.8h0M272.9 188.4h0M274.3 188.8h0" stroke="#FF6347" stroke-width="0.90" stroke-linecap="round" fill="none"/>
<path d="M284.7 195.8h0M281.5 194.6h0M285.3 195.9h0M280.8 194.4h0M281.2 194.3h0M284.3 195.7h0M281.6 194.4h0M285.3 196.5h0M286.0 196.4h0M281.9 194.7h0M284.8 196.8h0M281.9 194.9h0M281.7 194.5h0M284.5 195.3h0" stroke="#FF6347" stroke-width="0.90" stroke-linecap="round" fill="none"/>
<path d="M254.3 228.1h0M255.3 228.9h0M256.1 229.0h0M255.9 230.8h0M254.4 228.3h0M254.4 227.1h0M255.9 229.6h0M255.2 228.7h0M255.4 228.8h0M255.4 229.4h0" stroke="#FF6347" stroke-width="0.90" stroke-linecap="round" fill="none"/>
<text x="168.00" y="171.80" font-size="7.7" font-weight="bold" text-anchor="start" fill="#000" textLength="40.90" lengthAdjust="spacingAndGlyphs" >endothelial</text>
<text x="142.80" y="211.20" font-size="7.7" font-weight="bold" text-anchor="start" fill="#000" textLength="35.70" lengthAdjust="spacingAndGlyphs" >fibroblast</text>
<text x="209.70" y="214.60" font-size="7.7" font-weight="bold" text-anchor="start" fill="#000" textLength="15.70" lengthAdjust="spacingAndGlyphs" >beta</text>
<text x="240.80" y="214.60" font-size="7.7" font-weight="bold" text-anchor="start" fill="#000" textLength="17.70" lengthAdjust="spacingAndGlyphs" >delta</text>
<text x="234.60" y="224.60" font-size="7.7" font-weight="bold" text-anchor="start" fill="#000" textLength="27.20" lengthAdjust="spacingAndGlyphs" >epsilon</text>
<text x="234.90" y="233.10" font-size="7.7" font-weight="bold" text-anchor="start" fill="#000" textLength="9.90" lengthAdjust="spacingAndGlyphs" >PP</text>
<text x="203.40" y="239.50" font-size="7.7" font-weight="bold" text-anchor="start" fill="#000" textLength="32.30" lengthAdjust="spacingAndGlyphs" >doublets</text>
<text x="247.20" y="258.00" font-size="7.7" font-weight="bold" text-anchor="start" fill="#000" textLength="20.20" lengthAdjust="spacingAndGlyphs" >alpha</text>
<text x="131.50" y="266.20" font-size="7.7" font-weight="bold" text-anchor="start" fill="#000" textLength="23.10" lengthAdjust="spacingAndGlyphs" >acinar</text>
<text x="183.10" y="303.80" font-size="7.7" font-weight="bold" text-anchor="start" fill="#000" textLength="22.60" lengthAdjust="spacingAndGlyphs" >ductal</text>
<text x="265.80" y="194.90" font-size="7.7" font-weight="bold" text-anchor="start" fill="#000" textLength="29.90" lengthAdjust="spacingAndGlyphs" >immune</text>
<text x="303.60" y="133.40" font-size="14.0" font-weight="bold" text-anchor="start" fill="#000" >F</text>
<line x1="350.50" y1="152.30" x2="350.50" y2="327.80" stroke="#444" stroke-width="0.8" />
<line x1="350.10" y1="327.40" x2="453.50" y2="327.40" stroke="#444" stroke-width="0.8" />
<line x1="349.30" y1="161.80" x2="350.50" y2="161.80" stroke="#444" stroke-width="0.6" />
<text x="348.20" y="163.30" font-size="7.0" font-weight="bold" text-anchor="end" fill="#000" >alpha</text>
<text x="348.40" y="169.80" font-size="5.5" font-weight="normal" text-anchor="end" fill="#B5B5B5" >(26227)</text>
<circle cx="356.50" cy="161.80" r="3.40" fill="#3A26F0" />
<circle cx="366.60" cy="161.80" r="0.90" fill="#B9A4EC" />
<circle cx="376.70" cy="161.80" r="0.80" fill="#C0AEEE" />
<circle cx="386.80" cy="161.80" r="0.50" fill="#CFC5F2" />
<circle cx="396.90" cy="161.80" r="0.50" fill="#CFC5F2" />
<circle cx="407.00" cy="161.80" r="0.50" fill="#CFC5F2" />
<circle cx="417.10" cy="161.80" r="0.50" fill="#CFC5F2" />
<circle cx="427.20" cy="161.80" r="0.50" fill="#CFC5F2" />
<circle cx="437.30" cy="161.80" r="0.50" fill="#CFC5F2" />
<circle cx="447.40" cy="161.80" r="0.50" fill="#CFC5F2" />
<line x1="349.30" y1="177.47" x2="350.50" y2="177.47" stroke="#444" stroke-width="0.6" />
<text x="348.20" y="178.97" font-size="7.0" font-weight="bold" text-anchor="end" fill="#000" >beta</text>
<text x="348.40" y="185.47" font-size="5.5" font-weight="normal" text-anchor="end" fill="#B5B5B5" >(14323)</text>
<circle cx="356.50" cy="177.47" r="0.95" fill="#9A78E6" />
<circle cx="366.60" cy="177.47" r="3.40" fill="#5038F0" />
<circle cx="376.70" cy="177.47" r="0.80" fill="#B39CEB" />
<circle cx="386.80" cy="177.47" r="0.50" fill="#CFC5F2" />
<circle cx="396.90" cy="177.47" r="0.50" fill="#CFC5F2" />
<circle cx="407.00" cy="177.47" r="0.50" fill="#CFC5F2" />
<circle cx="417.10" cy="177.47" r="0.50" fill="#CFC5F2" />
<circle cx="427.20" cy="177.47" r="0.50" fill="#CFC5F2" />
<circle cx="437.30" cy="177.47" r="0.50" fill="#CFC5F2" />
<circle cx="447.40" cy="177.47" r="0.50" fill="#CFC5F2" />
<line x1="349.30" y1="193.14" x2="350.50" y2="193.14" stroke="#444" stroke-width="0.6" />
<text x="348.20" y="194.64" font-size="7.0" font-weight="bold" text-anchor="end" fill="#000" >delta</text>
<text x="348.40" y="201.14" font-size="5.5" font-weight="normal" text-anchor="end" fill="#B5B5B5" >(3672)</text>
<circle cx="356.50" cy="193.14" r="1.35" fill="#9468E2" />
<circle cx="366.60" cy="193.14" r="1.60" fill="#9C7CE8" />
<circle cx="376.70" cy="193.14" r="3.00" fill="#2A1AF8" />
<circle cx="386.80" cy="193.14" r="0.50" fill="#CFC5F2" />
<circle cx="396.90" cy="193.14" r="0.90" fill="#8A58E0" />
<circle cx="407.00" cy="193.14" r="0.50" fill="#CFC5F2" />
<circle cx="417.10" cy="193.14" r="0.50" fill="#CFC5F2" />
<circle cx="427.20" cy="193.14" r="0.50" fill="#CFC5F2" />
<circle cx="437.30" cy="193.14" r="0.50" fill="#CFC5F2" />
<circle cx="447.40" cy="193.14" r="0.50" fill="#CFC5F2" />
<line x1="349.30" y1="208.81" x2="350.50" y2="208.81" stroke="#444" stroke-width="0.6" />
<text x="348.20" y="210.31" font-size="7.0" font-weight="bold" text-anchor="end" fill="#000" >epsilon</text>
<text x="348.40" y="216.81" font-size="5.5" font-weight="normal" text-anchor="end" fill="#B5B5B5" >(24)</text>
<circle cx="356.50" cy="208.81" r="1.10" fill="#9668E2" />
<circle cx="366.60" cy="208.81" r="0.60" fill="#C9BBF0" />
<circle cx="376.70" cy="208.81" r="0.60" fill="#C9BBF0" />
<circle cx="386.80" cy="208.81" r="3.10" fill="#1A0AFF" />
<circle cx="396.90" cy="208.81" r="1.20" fill="#8656E4" />
<circle cx="407.00" cy="208.81" r="0.50" fill="#CFC5F2" />
<circle cx="417.10" cy="208.81" r="0.50" fill="#CFC5F2" />
<circle cx="427.20" cy="208.81" r="0.50" fill="#CFC5F2" />
<circle cx="437.30" cy="208.81" r="0.50" fill="#CFC5F2" />
<circle cx="447.40" cy="208.81" r="0.50" fill="#CFC5F2" />
<line x1="349.30" y1="224.48" x2="350.50" y2="224.48" stroke="#444" stroke-width="0.6" />
<text x="348.20" y="225.98" font-size="7.0" font-weight="bold" text-anchor="end" fill="#000" >PP</text>
<text x="348.40" y="232.48" font-size="5.5" font-weight="normal" text-anchor="end" fill="#B5B5B5" >(3253)</text>
<circle cx="356.50" cy="224.48" r="1.00" fill="#9C72E4" />
<circle cx="366.60" cy="224.48" r="1.25" fill="#9466E2" />
<circle cx="376.70" cy="224.48" r="0.80" fill="#A88CE8" />
<circle cx="386.80" cy="224.48" r="0.50" fill="#CFC5F2" />
<circle cx="396.90" cy="224.48" r="2.70" fill="#422AF2" />
<circle cx="407.00" cy="224.48" r="0.60" fill="#C9BBF0" />
<circle cx="417.10" cy="224.48" r="0.50" fill="#CFC5F2" />
<circle cx="427.20" cy="224.48" r="0.50" fill="#CFC5F2" />
<circle cx="437.30" cy="224.48" r="0.50" fill="#CFC5F2" />
<circle cx="447.40" cy="224.48" r="0.50" fill="#CFC5F2" />
<line x1="349.30" y1="240.15" x2="350.50" y2="240.15" stroke="#444" stroke-width="0.6" />
<text x="348.20" y="241.65" font-size="7.0" font-weight="bold" text-anchor="end" fill="#000" >ductal</text>
<text x="348.40" y="248.15" font-size="5.5" font-weight="normal" text-anchor="end" fill="#B5B5B5" >(23994)</text>
<circle cx="356.50" cy="240.15" r="0.50" fill="#CFC5F2" />
<circle cx="366.60" cy="240.15" r="0.50" fill="#CFC5F2" />
<circle cx="376.70" cy="240.15" r="0.50" fill="#CFC5F2" />
<circle cx="386.80" cy="240.15" r="0.50" fill="#CFC5F2" />
<circle cx="396.90" cy="240.15" r="0.50" fill="#CFC5F2" />
<circle cx="407.00" cy="240.15" r="3.00" fill="#1208FF" />
<circle cx="417.10" cy="240.15" r="0.50" fill="#CFC5F2" />
<circle cx="427.20" cy="240.15" r="0.50" fill="#CFC5F2" />
<circle cx="437.30" cy="240.15" r="0.50" fill="#CFC5F2" />
<circle cx="447.40" cy="240.15" r="0.50" fill="#CFC5F2" />
<line x1="349.30" y1="255.82" x2="350.50" y2="255.82" stroke="#444" stroke-width="0.6" />
<text x="348.20" y="257.32" font-size="7.0" font-weight="bold" text-anchor="end" fill="#000" >acinar</text>
<text x="348.40" y="263.82" font-size="5.5" font-weight="normal" text-anchor="end" fill="#B5B5B5" >(9082)</text>
<circle cx="356.50" cy="255.82" r="0.60" fill="#C9BBF0" />
<circle cx="366.60" cy="255.82" r="0.60" fill="#C9BBF0" />
<circle cx="376.70" cy="255.82" r="0.50" fill="#CFC5F2" />
<circle cx="386.80" cy="255.82" r="0.50" fill="#CFC5F2" />
<circle cx="396.90" cy="255.82" r="0.50" fill="#CFC5F2" />
<circle cx="407.00" cy="255.82" r="1.00" fill="#8C62E2" />
<circle cx="417.10" cy="255.82" r="3.00" fill="#1208FF" />
<circle cx="427.20" cy="255.82" r="0.50" fill="#CFC5F2" />
<circle cx="437.30" cy="255.82" r="0.50" fill="#CFC5F2" />
<circle cx="447.40" cy="255.82" r="0.50" fill="#CFC5F2" />
<line x1="349.30" y1="271.49" x2="350.50" y2="271.49" stroke="#444" stroke-width="0.6" />
<text x="348.20" y="272.99" font-size="7.0" font-weight="bold" text-anchor="end" fill="#000" >fibroblast</text>
<text x="348.40" y="279.49" font-size="5.5" font-weight="normal" text-anchor="end" fill="#B5B5B5" >(6087)</text>
<circle cx="356.50" cy="271.49" r="0.70" fill="#B59EEA" />
<circle cx="366.60" cy="271.49" r="0.70" fill="#B59EEA" />
<circle cx="376.70" cy="271.49" r="0.60" fill="#C9BBF0" />
<circle cx="386.80" cy="271.49" r="0.50" fill="#CFC5F2" />
<circle cx="396.90" cy="271.49" r="0.50" fill="#CFC5F2" />
<circle cx="407.00" cy="271.49" r="0.50" fill="#CFC5F2" />
<circle cx="417.10" cy="271.49" r="0.50" fill="#CFC5F2" />
<circle cx="427.20" cy="271.49" r="3.20" fill="#4A30F0" />
<circle cx="437.30" cy="271.49" r="0.50" fill="#CFC5F2" />
<circle cx="447.40" cy="271.49" r="0.50" fill="#CFC5F2" />
<line x1="349.30" y1="287.16" x2="350.50" y2="287.16" stroke="#444" stroke-width="0.6" />
<text x="348.20" y="288.66" font-size="7.0" font-weight="bold" text-anchor="end" fill="#000" >endothelial</text>
<text x="348.40" y="295.16" font-size="5.5" font-weight="normal" text-anchor="end" fill="#B5B5B5" >(1593)</text>
<circle cx="356.50" cy="287.16" r="0.80" fill="#AC90E8" />
<circle cx="366.60" cy="287.16" r="1.00" fill="#A482E6" />
<circle cx="376.70" cy="287.16" r="0.90" fill="#A482E6" />
<circle cx="386.80" cy="287.16" r="0.50" fill="#CFC5F2" />
<circle cx="396.90" cy="287.16" r="0.50" fill="#CFC5F2" />
<circle cx="407.00" cy="287.16" r="0.50" fill="#CFC5F2" />
<circle cx="417.10" cy="287.16" r="0.50" fill="#CFC5F2" />
<circle cx="427.20" cy="287.16" r="3.20" fill="#4A30F0" />
<circle cx="437.30" cy="287.16" r="2.60" fill="#1810FF" />
<circle cx="447.40" cy="287.16" r="0.50" fill="#CFC5F2" />
<line x1="349.30" y1="302.83" x2="350.50" y2="302.83" stroke="#444" stroke-width="0.6" />
<text x="348.20" y="304.33" font-size="7.0" font-weight="bold" text-anchor="end" fill="#000" >immune</text>
<text x="348.40" y="310.83" font-size="5.5" font-weight="normal" text-anchor="end" fill="#B5B5B5" >(1061)</text>
<circle cx="356.50" cy="302.83" r="0.90" fill="#A888E8" />
<circle cx="366.60" cy="302.83" r="1.40" fill="#A482E8" />
<circle cx="376.70" cy="302.83" r="1.00" fill="#A482E6" />
<circle cx="386.80" cy="302.83" r="0.50" fill="#CFC5F2" />
<circle cx="396.90" cy="302.83" r="0.80" fill="#B09AEA" />
<circle cx="407.00" cy="302.83" r="0.70" fill="#C9BBF0" />
<circle cx="417.10" cy="302.83" r="0.50" fill="#CFC5F2" />
<circle cx="427.20" cy="302.83" r="0.50" fill="#CFC5F2" />
<circle cx="437.30" cy="302.83" r="0.50" fill="#CFC5F2" />
<circle cx="447.40" cy="302.83" r="2.30" fill="#1010FF" />
<line x1="349.30" y1="318.50" x2="350.50" y2="318.50" stroke="#444" stroke-width="0.6" />
<text x="348.20" y="320.00" font-size="7.0" font-weight="bold" text-anchor="end" fill="#000" >doublets</text>
<text x="348.40" y="326.50" font-size="5.5" font-weight="normal" text-anchor="end" fill="#B5B5B5" >(4347)</text>
<circle cx="356.50" cy="318.50" r="3.10" fill="#6646F0" />
<circle cx="366.60" cy="318.50" r="3.30" fill="#6040F0" />
<circle cx="376.70" cy="318.50" r="1.65" fill="#7048E8" />
<circle cx="386.80" cy="318.50" r="0.50" fill="#CFC5F2" />
<circle cx="396.90" cy="318.50" r="1.20" fill="#9A6CE2" />
<circle cx="407.00" cy="318.50" r="0.90" fill="#9A6CE2" />
<circle cx="417.10" cy="318.50" r="0.50" fill="#CFC5F2" />
<circle cx="427.20" cy="318.50" r="0.50" fill="#CFC5F2" />
<circle cx="437.30" cy="318.50" r="0.50" fill="#CFC5F2" />
<circle cx="447.40" cy="318.50" r="0.50" fill="#CFC5F2" />
<line x1="356.50" y1="327.40" x2="356.50" y2="329.00" stroke="#333" stroke-width="0.7" />
<text x="359.10" y="332.60" font-size="6.0" font-weight="bold" text-anchor="end" fill="#000" transform="rotate(-45 359.10 332.60)" >GCG</text>
<line x1="366.60" y1="327.40" x2="366.60" y2="329.00" stroke="#333" stroke-width="0.7" />
<text x="369.20" y="332.60" font-size="6.0" font-weight="bold" text-anchor="end" fill="#000" transform="rotate(-45 369.20 332.60)" >INS</text>
<line x1="376.70" y1="327.40" x2="376.70" y2="329.00" stroke="#333" stroke-width="0.7" />
<text x="379.30" y="332.60" font-size="6.0" font-weight="bold" text-anchor="end" fill="#000" transform="rotate(-45 379.30 332.60)" >SST</text>
<line x1="386.80" y1="327.40" x2="386.80" y2="329.00" stroke="#333" stroke-width="0.7" />
<text x="389.40" y="332.60" font-size="6.0" font-weight="bold" text-anchor="end" fill="#000" transform="rotate(-45 389.40 332.60)" >GHRL</text>
<line x1="396.90" y1="327.40" x2="396.90" y2="329.00" stroke="#333" stroke-width="0.7" />
<text x="399.50" y="332.60" font-size="6.0" font-weight="bold" text-anchor="end" fill="#000" transform="rotate(-45 399.50 332.60)" >PPY</text>
<line x1="407.00" y1="327.40" x2="407.00" y2="329.00" stroke="#333" stroke-width="0.7" />
<text x="409.60" y="332.60" font-size="6.0" font-weight="bold" text-anchor="end" fill="#000" transform="rotate(-45 409.60 332.60)" >CFTR</text>
<line x1="417.10" y1="327.40" x2="417.10" y2="329.00" stroke="#333" stroke-width="0.7" />
<text x="419.70" y="332.60" font-size="6.0" font-weight="bold" text-anchor="end" fill="#000" transform="rotate(-45 419.70 332.60)" >CPA2</text>
<line x1="427.20" y1="327.40" x2="427.20" y2="329.00" stroke="#333" stroke-width="0.7" />
<text x="429.80" y="332.60" font-size="6.0" font-weight="bold" text-anchor="end" fill="#000" transform="rotate(-45 429.80 332.60)" >SPARC</text>
<line x1="437.30" y1="327.40" x2="437.30" y2="329.00" stroke="#333" stroke-width="0.7" />
<text x="439.90" y="332.60" font-size="6.0" font-weight="bold" text-anchor="end" fill="#000" transform="rotate(-45 439.90 332.60)" >VWF</text>
<line x1="447.40" y1="327.40" x2="447.40" y2="329.00" stroke="#333" stroke-width="0.7" />
<text x="450.00" y="332.60" font-size="6.0" font-weight="bold" text-anchor="end" fill="#000" transform="rotate(-45 450.00 332.60)" >PTPRC</text>
<text x="467.00" y="232.80" font-size="5.3" font-weight="normal" text-anchor="start" fill="#111" textLength="46.70" lengthAdjust="spacingAndGlyphs" >Average Expression</text>
<defs><linearGradient id="gr" x1="0" y1="0" x2="0" y2="1"><stop offset="0" stop-color="#1C0CFF"/><stop offset="1" stop-color="#D9D3EA"/></linearGradient></defs>
<rect x="467.00" y="235.80" width="5.90" height="28.70" fill="url(#gr)" />
<text x="475.20" y="241.60" font-size="4.6" font-weight="normal" text-anchor="start" fill="#222" >2</text>
<text x="475.20" y="248.90" font-size="4.6" font-weight="normal" text-anchor="start" fill="#222" >1</text>
<text x="475.20" y="256.20" font-size="4.6" font-weight="normal" text-anchor="start" fill="#222" >0</text>
<text x="475.20" y="263.70" font-size="4.6" font-weight="normal" text-anchor="start" fill="#222" >−1</text>
<text x="467.00" y="274.60" font-size="5.3" font-weight="normal" text-anchor="start" fill="#111" textLength="43.70" lengthAdjust="spacingAndGlyphs" >Percent Expressed</text>
<text x="475.10" y="282.00" font-size="4.6" font-weight="normal" text-anchor="start" fill="#222" >0</text>
<circle cx="470.00" cy="286.30" r="0.75" fill="#000" />
<text x="475.10" y="288.00" font-size="4.6" font-weight="normal" text-anchor="start" fill="#222" >25</text>
<circle cx="470.00" cy="292.20" r="1.35" fill="#000" />
<text x="475.10" y="293.90" font-size="4.6" font-weight="normal" text-anchor="start" fill="#222" >50</text>
<circle cx="470.00" cy="298.20" r="2.05" fill="#000" />
<text x="475.10" y="299.90" font-size="4.6" font-weight="normal" text-anchor="start" fill="#222" >75</text>
<text x="0.00" y="368.80" font-size="14.0" font-weight="bold" text-anchor="start" fill="#000" >G</text>
<text x="266.60" y="368.80" font-size="14.5" font-weight="bold" text-anchor="start" fill="#000" >H</text>
<rect x="70.00" y="373.10" width="61.35" height="7.75" fill="#4682B4" />
<rect x="131.20" y="373.10" width="51.25" height="7.75" fill="#CD5C5C" />
<rect x="182.30" y="373.10" width="15.55" height="7.75" fill="#5F9EA0" />
<rect x="197.70" y="373.10" width="12.65" height="7.75" fill="#87CEEB" />
<rect x="210.20" y="373.10" width="3.45" height="7.75" fill="#FF8C00" />
<rect x="213.50" y="373.10" width="4.15" height="7.75" fill="#48D1CC" />
<rect x="217.50" y="373.10" width="17.85" height="7.75" fill="#FFD700" />
<rect x="235.20" y="373.10" width="8.65" height="7.75" fill="#7B68EE" />
<rect x="243.70" y="373.10" width="3.95" height="7.75" fill="#FF6347" />
<line x1="60.00" y1="376.98" x2="61.20" y2="376.98" stroke="#444" stroke-width="0.6" />
<rect x="70.00" y="381.85" width="70.95" height="7.75" fill="#4682B4" />
<rect x="140.80" y="381.85" width="40.55" height="7.75" fill="#CD5C5C" />
<rect x="181.20" y="381.85" width="17.95" height="7.75" fill="#5F9EA0" />
<rect x="199.00" y="381.85" width="12.35" height="7.75" fill="#87CEEB" />
<rect x="211.20" y="381.85" width="3.15" height="7.75" fill="#FF8C00" />
<rect x="214.20" y="381.85" width="2.85" height="7.75" fill="#48D1CC" />
<rect x="216.90" y="381.85" width="22.65" height="7.75" fill="#FFD700" />
<rect x="239.40" y="381.85" width="4.95" height="7.75" fill="#7B68EE" />
<rect x="244.20" y="381.85" width="3.45" height="7.75" fill="#FF6347" />
<line x1="60.00" y1="385.73" x2="61.20" y2="385.73" stroke="#444" stroke-width="0.6" />
<line x1="61.20" y1="371.90" x2="61.20" y2="390.70" stroke="#444" stroke-width="0.7" />
<rect x="20.80" y="374.10" width="25.70" height="13.30" fill="#fff" stroke="#111" stroke-width="1.0" />
<text x="33.65" y="382.50" font-size="4.8" font-weight="bold" text-anchor="middle" fill="#222" >HP23098</text>
<text x="60.40" y="379.60" font-size="6.3" font-weight="bold" text-anchor="end" fill="#000" textLength="10.60" lengthAdjust="spacingAndGlyphs" >Ctrl</text>
<text x="58.60" y="388.20" font-size="6.3" font-weight="bold" text-anchor="end" fill="#000" textLength="7.60" lengthAdjust="spacingAndGlyphs" >GL</text>
<rect x="70.00" y="394.97" width="68.05" height="7.75" fill="#4682B4" />
<rect x="137.90" y="394.97" width="23.25" height="7.75" fill="#CD5C5C" />
<rect x="161.00" y="394.97" width="5.35" height="7.75" fill="#5F9EA0" />
<rect x="166.20" y="394.97" width="4.15" height="7.75" fill="#87CEEB" />
<rect x="170.20" y="394.97" width="34.15" height="7.75" fill="#FF8C00" />
<rect x="204.20" y="394.97" width="21.15" height="7.75" fill="#48D1CC" />
<rect x="225.20" y="394.97" width="16.25" height="7.75" fill="#FFD700" />
<rect x="241.30" y="394.97" width="4.65" height="7.75" fill="#7B68EE" />
<rect x="245.80" y="394.97" width="1.85" height="7.75" fill="#FF6347" />
<line x1="60.00" y1="398.85" x2="61.20" y2="398.85" stroke="#444" stroke-width="0.6" />
<rect x="70.00" y="403.72" width="79.95" height="7.75" fill="#4682B4" />
<rect x="149.80" y="403.72" width="40.15" height="7.75" fill="#CD5C5C" />
<rect x="189.80" y="403.72" width="6.15" height="7.75" fill="#5F9EA0" />
<rect x="195.80" y="403.72" width="5.35" height="7.75" fill="#87CEEB" />
<rect x="201.00" y="403.72" width="22.45" height="7.75" fill="#FF8C00" />
<rect x="223.30" y="403.72" width="9.95" height="7.75" fill="#48D1CC" />
<rect x="233.10" y="403.72" width="11.65" height="7.75" fill="#FFD700" />
<rect x="244.60" y="403.72" width="2.25" height="7.75" fill="#7B68EE" />
<rect x="246.70" y="403.72" width="0.95" height="7.75" fill="#FF6347" />
<line x1="60.00" y1="407.60" x2="61.20" y2="407.60" stroke="#444" stroke-width="0.6" />
<line x1="61.20" y1="393.77" x2="61.20" y2="412.57" stroke="#444" stroke-width="0.7" />
<rect x="20.80" y="395.97" width="25.70" height="13.30" fill="#fff" stroke="#111" stroke-width="1.0" />
<text x="33.65" y="404.37" font-size="4.8" font-weight="bold" text-anchor="middle" fill="#222" >HP23166</text>
<text x="60.40" y="401.47" font-size="6.3" font-weight="bold" text-anchor="end" fill="#000" textLength="10.60" lengthAdjust="spacingAndGlyphs" >Ctrl</text>
<text x="58.60" y="410.07" font-size="6.3" font-weight="bold" text-anchor="end" fill="#000" textLength="7.60" lengthAdjust="spacingAndGlyphs" >GL</text>
<rect x="70.00" y="416.84" width="89.15" height="7.75" fill="#4682B4" />
<rect x="159.00" y="416.84" width="33.65" height="7.75" fill="#CD5C5C" />
<rect x="192.50" y="416.84" width="4.35" height="7.75" fill="#5F9EA0" />
<rect x="196.70" y="416.84" width="3.85" height="7.75" fill="#87CEEB" />
<rect x="200.40" y="416.84" width="14.95" height="7.75" fill="#FF8C00" />
<rect x="215.20" y="416.84" width="9.75" height="7.75" fill="#48D1CC" />
<rect x="224.80" y="416.84" width="9.55" height="7.75" fill="#FFD700" />
<rect x="234.20" y="416.84" width="5.55" height="7.75" fill="#7B68EE" />
<rect x="239.60" y="416.84" width="8.05" height="7.75" fill="#FF6347" />
<line x1="60.00" y1="420.72" x2="61.20" y2="420.72" stroke="#444" stroke-width="0.6" />
<rect x="70.00" y="425.59" width="81.35" height="7.75" fill="#4682B4" />
<rect x="151.20" y="425.59" width="47.45" height="7.75" fill="#CD5C5C" />
<rect x="198.50" y="425.59" width="7.65" height="7.75" fill="#5F9EA0" />
<rect x="206.00" y="425.59" width="4.35" height="7.75" fill="#87CEEB" />
<rect x="210.20" y="425.59" width="12.45" height="7.75" fill="#FF8C00" />
<rect x="222.50" y="425.59" width="14.75" height="7.75" fill="#48D1CC" />
<rect x="237.10" y="425.59" width="4.75" height="7.75" fill="#FFD700" />
<rect x="241.70" y="425.59" width="1.75" height="7.75" fill="#7B68EE" />
<rect x="243.30" y="425.59" width="4.35" height="7.75" fill="#FF6347" />
<line x1="60.00" y1="429.47" x2="61.20" y2="429.47" stroke="#444" stroke-width="0.6" />
<line x1="61.20" y1="415.64" x2="61.20" y2="434.44" stroke="#444" stroke-width="0.7" />
<rect x="20.80" y="417.84" width="25.70" height="13.30" fill="#fff" stroke="#111" stroke-width="1.0" />
<text x="33.65" y="423.34" font-size="4.8" font-weight="bold" text-anchor="middle" fill="#222" >SAMN</text>
<text x="33.65" y="429.54" font-size="4.8" font-weight="bold" text-anchor="middle" fill="#222" >36705973</text>
<text x="60.40" y="423.34" font-size="6.3" font-weight="bold" text-anchor="end" fill="#000" textLength="10.60" lengthAdjust="spacingAndGlyphs" >Ctrl</text>
<text x="58.60" y="431.94" font-size="6.3" font-weight="bold" text-anchor="end" fill="#000" textLength="7.60" lengthAdjust="spacingAndGlyphs" >GL</text>
<rect x="70.00" y="438.71" width="7.85" height="7.75" fill="#4682B4" />
<rect x="77.70" y="438.71" width="11.85" height="7.75" fill="#CD5C5C" />
<rect x="89.40" y="438.71" width="1.15" height="7.75" fill="#5F9EA0" />
<rect x="90.40" y="438.71" width="2.85" height="7.75" fill="#87CEEB" />
<rect x="93.10" y="438.71" width="111.45" height="7.75" fill="#FF8C00" />
<rect x="204.40" y="438.71" width="36.75" height="7.75" fill="#48D1CC" />
<rect x="241.00" y="438.71" width="4.75" height="7.75" fill="#FFD700" />
<rect x="245.60" y="438.71" width="1.25" height="7.75" fill="#7B68EE" />
<rect x="246.70" y="438.71" width="0.95" height="7.75" fill="#FF6347" />
<line x1="60.00" y1="442.59" x2="61.20" y2="442.59" stroke="#444" stroke-width="0.6" />
<rect x="70.00" y="447.46" width="7.45" height="7.75" fill="#4682B4" />
<rect x="77.30" y="447.46" width="17.85" height="7.75" fill="#CD5C5C" />
<rect x="95.00" y="447.46" width="1.65" height="7.75" fill="#5F9EA0" />
<rect x="96.50" y="447.46" width="4.25" height="7.75" fill="#87CEEB" />
<rect x="100.60" y="447.46" width="124.15" height="7.75" fill="#FF8C00" />
<rect x="224.60" y="447.46" width="20.35" height="7.75" fill="#48D1CC" />
<rect x="244.80" y="447.46" width="2.25" height="7.75" fill="#FFD700" />
<rect x="246.90" y="447.46" width="0.55" height="7.75" fill="#7B68EE" />
<rect x="247.30" y="447.46" width="0.35" height="7.75" fill="#FF6347" />
<line x1="60.00" y1="451.34" x2="61.20" y2="451.34" stroke="#444" stroke-width="0.6" />
<line x1="61.20" y1="437.51" x2="61.20" y2="456.31" stroke="#444" stroke-width="0.7" />
<rect x="20.80" y="439.71" width="25.70" height="13.30" fill="#fff" stroke="#111" stroke-width="1.0" />
<text x="33.65" y="448.11" font-size="4.8" font-weight="bold" text-anchor="middle" fill="#222" >CITH107</text>
<text x="60.40" y="445.21" font-size="6.3" font-weight="bold" text-anchor="end" fill="#000" textLength="10.60" lengthAdjust="spacingAndGlyphs" >Ctrl</text>
<text x="58.60" y="453.81" font-size="6.3" font-weight="bold" text-anchor="end" fill="#000" textLength="7.60" lengthAdjust="spacingAndGlyphs" >GL</text>
<rect x="70.00" y="460.58" width="58.85" height="7.75" fill="#4682B4" />
<rect x="128.70" y="460.58" width="16.85" height="7.75" fill="#CD5C5C" />
<rect x="145.40" y="460.58" width="5.75" height="7.75" fill="#5F9EA0" />
<rect x="151.00" y="460.58" width="5.15" height="7.75" fill="#87CEEB" />
<rect x="156.00" y="460.58" width="43.35" height="7.75" fill="#FF8C00" />
<rect x="199.20" y="460.58" width="23.85" height="7.75" fill="#48D1CC" />
<rect x="222.90" y="460.58" width="20.55" height="7.75" fill="#FFD700" />
<rect x="243.30" y="460.58" width="2.45" height="7.75" fill="#7B68EE" />
<rect x="245.60" y="460.58" width="2.05" height="7.75" fill="#FF6347" />
<line x1="60.00" y1="464.46" x2="61.20" y2="464.46" stroke="#444" stroke-width="0.6" />
<rect x="70.00" y="469.33" width="90.15" height="7.75" fill="#4682B4" />
<rect x="160.00" y="469.33" width="19.95" height="7.75" fill="#CD5C5C" />
<rect x="179.80" y="469.33" width="6.55" height="7.75" fill="#5F9EA0" />
<rect x="186.20" y="469.33" width="11.05" height="7.75" fill="#87CEEB" />
<rect x="197.10" y="469.33" width="25.95" height="7.75" fill="#FF8C00" />
<rect x="222.90" y="469.33" width="7.45" height="7.75" fill="#48D1CC" />
<rect x="230.20" y="469.33" width="13.65" height="7.75" fill="#FFD700" />
<rect x="243.70" y="469.33" width="2.05" height="7.75" fill="#7B68EE" />
<rect x="245.60" y="469.33" width="2.05" height="7.75" fill="#FF6347" />
<line x1="60.00" y1="473.21" x2="61.20" y2="473.21" stroke="#444" stroke-width="0.6" />
<line x1="61.20" y1="459.38" x2="61.20" y2="478.18" stroke="#444" stroke-width="0.7" />
<rect x="20.80" y="461.58" width="25.70" height="13.30" fill="#fff" stroke="#111" stroke-width="1.0" />
<text x="33.65" y="469.98" font-size="4.8" font-weight="bold" text-anchor="middle" fill="#222" >HP22286</text>
<text x="60.40" y="467.08" font-size="6.3" font-weight="bold" text-anchor="end" fill="#000" textLength="10.60" lengthAdjust="spacingAndGlyphs" >Ctrl</text>
<text x="58.60" y="475.68" font-size="6.3" font-weight="bold" text-anchor="end" fill="#000" textLength="7.60" lengthAdjust="spacingAndGlyphs" >GL</text>
<rect x="70.00" y="482.45" width="33.85" height="7.75" fill="#4682B4" />
<rect x="103.70" y="482.45" width="21.45" height="7.75" fill="#CD5C5C" />
<rect x="125.00" y="482.45" width="2.85" height="7.75" fill="#5F9EA0" />
<rect x="127.70" y="482.45" width="2.45" height="7.75" fill="#87CEEB" />
<rect x="130.00" y="482.45" width="65.95" height="7.75" fill="#FF8C00" />
<rect x="195.80" y="482.45" width="40.15" height="7.75" fill="#48D1CC" />
<rect x="235.80" y="482.45" width="7.05" height="7.75" fill="#FFD700" />
<rect x="242.70" y="482.45" width="2.85" height="7.75" fill="#7B68EE" />
<rect x="245.40" y="482.45" width="2.25" height="7.75" fill="#FF6347" />
<line x1="60.00" y1="486.33" x2="61.20" y2="486.33" stroke="#444" stroke-width="0.6" />
<rect x="70.00" y="491.20" width="65.75" height="7.75" fill="#4682B4" />
<rect x="135.60" y="491.20" width="27.05" height="7.75" fill="#CD5C5C" />
<rect x="162.50" y="491.20" width="3.65" height="7.75" fill="#5F9EA0" />
<rect x="166.00" y="491.20" width="2.45" height="7.75" fill="#87CEEB" />
<rect x="168.30" y="491.20" width="40.35" height="7.75" fill="#FF8C00" />
<rect x="208.50" y="491.20" width="33.15" height="7.75" fill="#48D1CC" />
<rect x="241.50" y="491.20" width="3.45" height="7.75" fill="#FFD700" />
<rect x="244.80" y="491.20" width="1.35" height="7.75" fill="#7B68EE" />
<rect x="246.00" y="491.20" width="1.65" height="7.75" fill="#FF6347" />
<line x1="60.00" y1="495.08" x2="61.20" y2="495.08" stroke="#444" stroke-width="0.6" />
<line x1="61.20" y1="481.25" x2="61.20" y2="500.05" stroke="#444" stroke-width="0.7" />
<rect x="20.80" y="483.45" width="25.70" height="13.30" fill="#fff" stroke="#111" stroke-width="1.0" />
<text x="33.65" y="488.95" font-size="4.8" font-weight="bold" text-anchor="middle" fill="#222" >SAMN</text>
<text x="33.65" y="495.15" font-size="4.8" font-weight="bold" text-anchor="middle" fill="#222" >32641505</text>
<text x="60.40" y="488.95" font-size="6.3" font-weight="bold" text-anchor="end" fill="#000" textLength="10.60" lengthAdjust="spacingAndGlyphs" >Ctrl</text>
<text x="58.60" y="497.55" font-size="6.3" font-weight="bold" text-anchor="end" fill="#000" textLength="7.60" lengthAdjust="spacingAndGlyphs" >GL</text>
<line x1="60.90" y1="500.30" x2="255.70" y2="500.30" stroke="#444" stroke-width="0.8" />
<line x1="70.00" y1="500.30" x2="70.00" y2="501.90" stroke="#444" stroke-width="0.6" />
<text x="70.00" y="508.90" font-size="6" font-weight="bold" text-anchor="middle" fill="#222" >0</text>
<line x1="114.40" y1="500.30" x2="114.40" y2="501.90" stroke="#444" stroke-width="0.6" />
<text x="114.40" y="508.90" font-size="6" font-weight="bold" text-anchor="middle" fill="#222" >25</text>
<line x1="158.75" y1="500.30" x2="158.75" y2="501.90" stroke="#444" stroke-width="0.6" />
<text x="158.75" y="508.90" font-size="6" font-weight="bold" text-anchor="middle" fill="#222" >50</text>
<line x1="203.10" y1="500.30" x2="203.10" y2="501.90" stroke="#444" stroke-width="0.6" />
<text x="203.10" y="508.90" font-size="6" font-weight="bold" text-anchor="middle" fill="#222" >75</text>
<line x1="247.50" y1="500.30" x2="247.50" y2="501.90" stroke="#444" stroke-width="0.6" />
<text x="247.50" y="508.90" font-size="6" font-weight="bold" text-anchor="middle" fill="#222" >100</text>
<rect x="330.60" y="373.90" width="76.65" height="7.75" fill="#4682B4" />
<rect x="407.10" y="373.90" width="64.95" height="7.75" fill="#CD5C5C" />
<rect x="471.90" y="373.90" width="19.25" height="7.75" fill="#5F9EA0" />
<rect x="491.00" y="373.90" width="15.85" height="7.75" fill="#87CEEB" />
<line x1="320.50" y1="377.77" x2="321.70" y2="377.77" stroke="#444" stroke-width="0.6" />
<rect x="330.60" y="382.65" width="88.25" height="7.75" fill="#4682B4" />
<rect x="418.70" y="382.65" width="50.85" height="7.75" fill="#CD5C5C" />
<rect x="469.40" y="382.65" width="22.45" height="7.75" fill="#5F9EA0" />
<rect x="491.70" y="382.65" width="15.15" height="7.75" fill="#87CEEB" />
<line x1="320.50" y1="386.52" x2="321.70" y2="386.52" stroke="#444" stroke-width="0.6" />
<line x1="321.70" y1="372.70" x2="321.70" y2="391.50" stroke="#444" stroke-width="0.7" />
<rect x="281.30" y="374.10" width="25.70" height="13.30" fill="#fff" stroke="#111" stroke-width="1.0" />
<text x="294.15" y="382.50" font-size="4.8" font-weight="bold" text-anchor="middle" fill="#222" >HP23098</text>
<text x="320.90" y="380.40" font-size="6.3" font-weight="bold" text-anchor="end" fill="#000" textLength="10.60" lengthAdjust="spacingAndGlyphs" >Ctrl</text>
<text x="319.10" y="389.00" font-size="6.3" font-weight="bold" text-anchor="end" fill="#000" textLength="7.60" lengthAdjust="spacingAndGlyphs" >GL</text>
<rect x="330.60" y="395.77" width="119.55" height="7.75" fill="#4682B4" />
<rect x="450.00" y="395.77" width="40.55" height="7.75" fill="#CD5C5C" />
<rect x="490.40" y="395.77" width="9.55" height="7.75" fill="#5F9EA0" />
<rect x="499.80" y="395.77" width="7.05" height="7.75" fill="#87CEEB" />
<line x1="320.50" y1="399.64" x2="321.70" y2="399.64" stroke="#444" stroke-width="0.6" />
<rect x="330.60" y="404.52" width="107.45" height="7.75" fill="#4682B4" />
<rect x="437.90" y="404.52" width="53.95" height="7.75" fill="#CD5C5C" />
<rect x="491.70" y="404.52" width="8.25" height="7.75" fill="#5F9EA0" />
<rect x="499.80" y="404.52" width="7.05" height="7.75" fill="#87CEEB" />
<line x1="320.50" y1="408.39" x2="321.70" y2="408.39" stroke="#444" stroke-width="0.6" />
<line x1="321.70" y1="394.57" x2="321.70" y2="413.37" stroke="#444" stroke-width="0.7" />
<rect x="281.30" y="395.97" width="25.70" height="13.30" fill="#fff" stroke="#111" stroke-width="1.0" />
<text x="294.15" y="404.37" font-size="4.8" font-weight="bold" text-anchor="middle" fill="#222" >HP23166</text>
<text x="320.90" y="402.27" font-size="6.3" font-weight="bold" text-anchor="end" fill="#000" textLength="10.60" lengthAdjust="spacingAndGlyphs" >Ctrl</text>
<text x="319.10" y="410.87" font-size="6.3" font-weight="bold" text-anchor="end" fill="#000" textLength="7.60" lengthAdjust="spacingAndGlyphs" >GL</text>
<rect x="330.60" y="417.64" width="120.85" height="7.75" fill="#4682B4" />
<rect x="451.30" y="417.64" width="45.15" height="7.75" fill="#CD5C5C" />
<rect x="496.30" y="417.64" width="6.55" height="7.75" fill="#5F9EA0" />
<rect x="502.70" y="417.64" width="4.15" height="7.75" fill="#87CEEB" />
<line x1="320.50" y1="421.51" x2="321.70" y2="421.51" stroke="#444" stroke-width="0.6" />
<rect x="330.60" y="426.39" width="102.45" height="7.75" fill="#4682B4" />
<rect x="432.90" y="426.39" width="59.55" height="7.75" fill="#CD5C5C" />
<rect x="492.30" y="426.39" width="9.75" height="7.75" fill="#5F9EA0" />
<rect x="501.90" y="426.39" width="4.95" height="7.75" fill="#87CEEB" />
<line x1="320.50" y1="430.26" x2="321.70" y2="430.26" stroke="#444" stroke-width="0.6" />
<line x1="321.70" y1="416.44" x2="321.70" y2="435.24" stroke="#444" stroke-width="0.7" />
<rect x="281.30" y="417.84" width="25.70" height="13.30" fill="#fff" stroke="#111" stroke-width="1.0" />
<text x="294.15" y="423.34" font-size="4.8" font-weight="bold" text-anchor="middle" fill="#222" >SAMN</text>
<text x="294.15" y="429.54" font-size="4.8" font-weight="bold" text-anchor="middle" fill="#222" >36705973</text>
<text x="320.90" y="424.14" font-size="6.3" font-weight="bold" text-anchor="end" fill="#000" textLength="10.60" lengthAdjust="spacingAndGlyphs" >Ctrl</text>
<text x="319.10" y="432.74" font-size="6.3" font-weight="bold" text-anchor="end" fill="#000" textLength="7.60" lengthAdjust="spacingAndGlyphs" >GL</text>
<rect x="330.60" y="439.51" width="58.75" height="7.75" fill="#4682B4" />
<rect x="389.20" y="439.51" width="89.65" height="7.75" fill="#CD5C5C" />
<rect x="478.70" y="439.51" width="11.05" height="7.75" fill="#5F9EA0" />
<rect x="489.60" y="439.51" width="17.25" height="7.75" fill="#87CEEB" />
<line x1="320.50" y1="443.38" x2="321.70" y2="443.38" stroke="#444" stroke-width="0.6" />
<rect x="330.60" y="448.26" width="41.85" height="7.75" fill="#4682B4" />
<rect x="372.30" y="448.26" width="100.95" height="7.75" fill="#CD5C5C" />
<rect x="473.10" y="448.26" width="10.15" height="7.75" fill="#5F9EA0" />
<rect x="483.10" y="448.26" width="23.75" height="7.75" fill="#87CEEB" />
<line x1="320.50" y1="452.13" x2="321.70" y2="452.13" stroke="#444" stroke-width="0.6" />
<line x1="321.70" y1="438.31" x2="321.70" y2="457.11" stroke="#444" stroke-width="0.7" />
<rect x="281.30" y="439.71" width="25.70" height="13.30" fill="#fff" stroke="#111" stroke-width="1.0" />
<text x="294.15" y="448.11" font-size="4.8" font-weight="bold" text-anchor="middle" fill="#222" >CITH107</text>
<text x="320.90" y="446.01" font-size="6.3" font-weight="bold" text-anchor="end" fill="#000" textLength="10.60" lengthAdjust="spacingAndGlyphs" >Ctrl</text>
<text x="319.10" y="454.61" font-size="6.3" font-weight="bold" text-anchor="end" fill="#000" textLength="7.60" lengthAdjust="spacingAndGlyphs" >GL</text>
<rect x="330.60" y="461.38" width="120.15" height="7.75" fill="#4682B4" />
<rect x="450.60" y="461.38" width="34.35" height="7.75" fill="#CD5C5C" />
<rect x="484.80" y="461.38" width="11.55" height="7.75" fill="#5F9EA0" />
<rect x="496.20" y="461.38" width="10.65" height="7.75" fill="#87CEEB" />
<line x1="320.50" y1="465.25" x2="321.70" y2="465.25" stroke="#444" stroke-width="0.6" />
<rect x="330.60" y="470.13" width="124.75" height="7.75" fill="#4682B4" />
<rect x="455.20" y="470.13" width="27.65" height="7.75" fill="#CD5C5C" />
<rect x="482.70" y="470.13" width="9.55" height="7.75" fill="#5F9EA0" />
<rect x="492.10" y="470.13" width="14.75" height="7.75" fill="#87CEEB" />
<line x1="320.50" y1="474.00" x2="321.70" y2="474.00" stroke="#444" stroke-width="0.6" />
<line x1="321.70" y1="460.18" x2="321.70" y2="478.98" stroke="#444" stroke-width="0.7" />
<rect x="281.30" y="461.58" width="25.70" height="13.30" fill="#fff" stroke="#111" stroke-width="1.0" />
<text x="294.15" y="469.98" font-size="4.8" font-weight="bold" text-anchor="middle" fill="#222" >HP22286</text>
<text x="320.90" y="467.88" font-size="6.3" font-weight="bold" text-anchor="end" fill="#000" textLength="10.60" lengthAdjust="spacingAndGlyphs" >Ctrl</text>
<text x="319.10" y="476.48" font-size="6.3" font-weight="bold" text-anchor="end" fill="#000" textLength="7.60" lengthAdjust="spacingAndGlyphs" >GL</text>
<rect x="330.60" y="483.25" width="98.35" height="7.75" fill="#4682B4" />
<rect x="428.80" y="483.25" width="63.65" height="7.75" fill="#CD5C5C" />
<rect x="492.30" y="483.25" width="8.05" height="7.75" fill="#5F9EA0" />
<rect x="500.20" y="483.25" width="6.65" height="7.75" fill="#87CEEB" />
<line x1="320.50" y1="487.12" x2="321.70" y2="487.12" stroke="#444" stroke-width="0.6" />
<rect x="330.60" y="492.00" width="117.85" height="7.75" fill="#4682B4" />
<rect x="448.30" y="492.00" width="48.15" height="7.75" fill="#CD5C5C" />
<rect x="496.30" y="492.00" width="5.75" height="7.75" fill="#5F9EA0" />
<rect x="501.90" y="492.00" width="4.95" height="7.75" fill="#87CEEB" />
<line x1="320.50" y1="495.88" x2="321.70" y2="495.88" stroke="#444" stroke-width="0.6" />
<line x1="321.70" y1="482.05" x2="321.70" y2="500.85" stroke="#444" stroke-width="0.7" />
<rect x="281.30" y="483.45" width="25.70" height="13.30" fill="#fff" stroke="#111" stroke-width="1.0" />
<text x="294.15" y="488.95" font-size="4.8" font-weight="bold" text-anchor="middle" fill="#222" >SAMN</text>
<text x="294.15" y="495.15" font-size="4.8" font-weight="bold" text-anchor="middle" fill="#222" >32641505</text>
<text x="320.90" y="489.75" font-size="6.3" font-weight="bold" text-anchor="end" fill="#000" textLength="10.60" lengthAdjust="spacingAndGlyphs" >Ctrl</text>
<text x="319.10" y="498.35" font-size="6.3" font-weight="bold" text-anchor="end" fill="#000" textLength="7.60" lengthAdjust="spacingAndGlyphs" >GL</text>
<line x1="321.40" y1="501.10" x2="515.40" y2="501.10" stroke="#444" stroke-width="0.8" />
<line x1="330.60" y1="501.10" x2="330.60" y2="502.70" stroke="#444" stroke-width="0.6" />
<text x="330.60" y="509.70" font-size="6" font-weight="bold" text-anchor="middle" fill="#222" >0</text>
<line x1="374.60" y1="501.10" x2="374.60" y2="502.70" stroke="#444" stroke-width="0.6" />
<text x="374.60" y="509.70" font-size="6" font-weight="bold" text-anchor="middle" fill="#222" >25</text>
<line x1="418.65" y1="501.10" x2="418.65" y2="502.70" stroke="#444" stroke-width="0.6" />
<text x="418.65" y="509.70" font-size="6" font-weight="bold" text-anchor="middle" fill="#222" >50</text>
<line x1="462.70" y1="501.10" x2="462.70" y2="502.70" stroke="#444" stroke-width="0.6" />
<text x="462.70" y="509.70" font-size="6" font-weight="bold" text-anchor="middle" fill="#222" >75</text>
<line x1="506.70" y1="501.10" x2="506.70" y2="502.70" stroke="#444" stroke-width="0.6" />
<text x="506.70" y="509.70" font-size="6" font-weight="bold" text-anchor="middle" fill="#222" >100</text>
<rect x="500.20" y="483.25" width="0.90" height="7.75" fill="#B22222" />
<text x="158.70" y="368.10" font-size="6.9" font-weight="bold" text-anchor="middle" fill="#000" textLength="94.20" lengthAdjust="spacingAndGlyphs" >Percentage of Cell Type (%)</text>
<text x="423.40" y="368.60" font-size="6.9" font-weight="bold" text-anchor="middle" fill="#000" textLength="93.60" lengthAdjust="spacingAndGlyphs" >Percentage of Cell Type (%)</text>
<rect x="56.20" y="513.20" width="7.50" height="7.50" fill="#4682B4" />
<text x="66.00" y="519.10" font-size="6.0" font-weight="bold" text-anchor="start" fill="#111" >alpha</text>
<rect x="56.20" y="522.00" width="7.50" height="7.50" fill="#CD5C5C" />
<text x="66.00" y="527.90" font-size="6.0" font-weight="bold" text-anchor="start" fill="#111" >beta</text>
<rect x="88.00" y="513.20" width="7.50" height="7.50" fill="#5F9EA0" />
<text x="97.80" y="519.10" font-size="6.0" font-weight="bold" text-anchor="start" fill="#111" >delta</text>
<rect x="88.00" y="522.00" width="7.50" height="7.50" fill="#B22222" />
<text x="97.80" y="527.90" font-size="6.0" font-weight="bold" text-anchor="start" fill="#111" >epsilon</text>
<rect x="121.70" y="513.20" width="7.50" height="7.50" fill="#87CEEB" />
<text x="131.50" y="519.10" font-size="6.0" font-weight="bold" text-anchor="start" fill="#111" >PP</text>
<rect x="121.70" y="522.00" width="7.50" height="7.50" fill="#FF8C00" />
<text x="131.50" y="527.90" font-size="6.0" font-weight="bold" text-anchor="start" fill="#111" >ductal</text>
<rect x="151.70" y="513.20" width="7.50" height="7.50" fill="#48D1CC" />
<text x="161.50" y="519.10" font-size="6.0" font-weight="bold" text-anchor="start" fill="#111" >acinar</text>
<rect x="151.70" y="522.00" width="7.50" height="7.50" fill="#FFD700" />
<text x="161.50" y="527.90" font-size="6.0" font-weight="bold" text-anchor="start" fill="#111" >fibroblast</text>
<rect x="192.00" y="513.20" width="7.50" height="7.50" fill="#7B68EE" />
<text x="201.80" y="519.10" font-size="6.0" font-weight="bold" text-anchor="start" fill="#111" >endothelial</text>
<rect x="192.00" y="522.00" width="7.50" height="7.50" fill="#FF6347" />
<text x="201.80" y="527.90" font-size="6.0" font-weight="bold" text-anchor="start" fill="#111" >immune</text>
<rect x="237.00" y="512.30" width="7.50" height="7.50" fill="#A9A9A9" />
<text x="246.30" y="517.90" font-size="6.0" font-weight="bold" text-anchor="start" fill="#111" >doublets</text>
<rect x="329.20" y="513.80" width="7.30" height="7.50" fill="#4682B4" />
<text x="338.80" y="519.80" font-size="6.0" font-weight="bold" text-anchor="start" fill="#111" >alpha</text>
<rect x="369.20" y="513.80" width="7.30" height="7.50" fill="#CD5C5C" />
<text x="378.80" y="519.80" font-size="6.0" font-weight="bold" text-anchor="start" fill="#111" >beta</text>
<rect x="407.50" y="513.80" width="7.30" height="7.50" fill="#5F9EA0" />
<text x="417.10" y="519.80" font-size="6.0" font-weight="bold" text-anchor="start" fill="#111" >delta</text>
<rect x="442.30" y="513.80" width="7.30" height="7.50" fill="#B22222" />
<text x="451.90" y="519.80" font-size="6.0" font-weight="bold" text-anchor="start" fill="#111" >epsilon</text>
<rect x="487.70" y="513.80" width="7.30" height="7.50" fill="#87CEEB" />
<text x="497.30" y="519.80" font-size="6.0" font-weight="bold" text-anchor="start" fill="#111" >PP</text>
</svg>
</body></html>
